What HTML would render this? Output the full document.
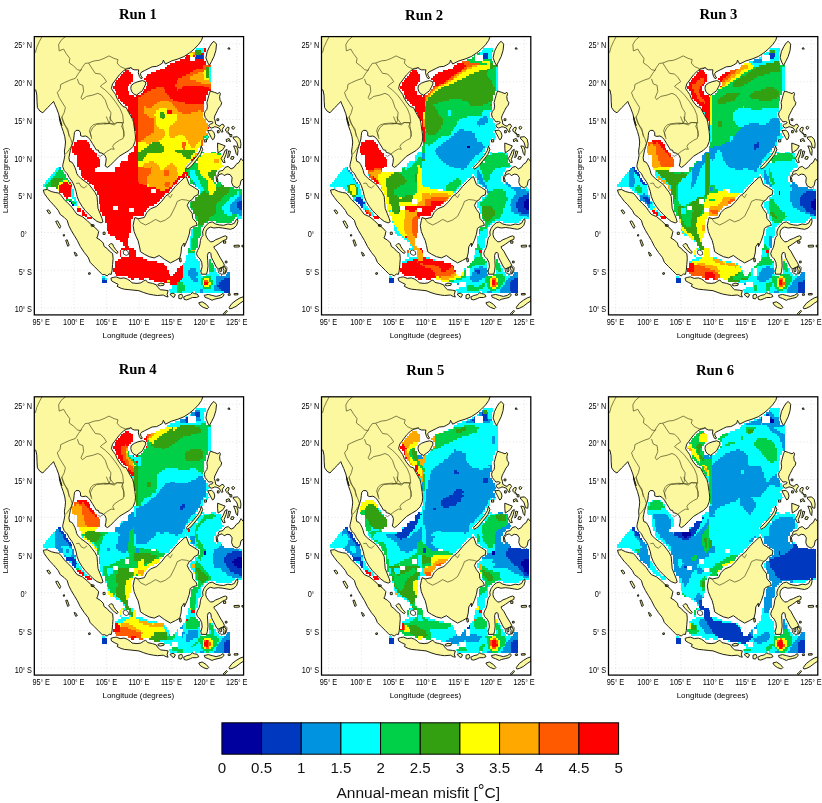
<!DOCTYPE html>
<html lang="en"><head><meta charset="utf-8"><title>Annual-mean misfit, Runs 1-6</title>
<style>html,body{margin:0;padding:0;background:#fff}svg{display:block}.t{font-family:"Liberation Serif",serif;font-weight:bold;font-size:14.7px;text-anchor:middle}.a{font-family:"Liberation Sans",sans-serif;font-size:8.4px;fill:#000}.c{font-family:"Liberation Sans",sans-serif;font-size:15.1px;fill:#111;text-anchor:middle}.s{font-size:6.4px}</style></head><body>
<svg width="822" height="803" viewBox="0 0 822 803">
<rect width="822" height="803" fill="#fff"/>
<defs>
<clipPath id="cp"><rect x="0" y="0" width="209.3" height="278.3"/></clipPath>
<g id="land">
<path d="M88.8 214.4 L91.3 213.4 L93.8 214.9 L94.3 217.8 L91.8 218.8 L89.3 217.4Z M183.6 232.8 L185.7 230.6 L188.4 230.2 L191 229.3 L192.7 231 L192.3 234.5 L191 237.1 L187.5 237.6 L184.4 236.3Z" fill="#fff" stroke="#1a1a10" stroke-width="0.8"/>
<path d="M-2 -2 L168.5 -2 L168.5 0 L167.2 3.7 L164.1 8.1 L159.8 12.5 L155.4 16.2 L149.8 19.9 L143.6 22.4 L137.4 24.3 L131.1 27.4 L129.9 24.9 L129 23.5 L128.3 26.4 L125.3 28.3 L122.3 29.8 L117.8 30.2 L114.8 31.7 L110.4 33.9 L107.4 35.4 L106.2 36.9 L106.6 39.1 L108.1 41.4 L106.6 42.1 L105.1 39.9 L104 36.2 L104.4 33.2 L102.9 33.2 L99.9 33.2 L97.3 32 L96.5 30.6 L95.8 31.7 L92.4 32.4 L89.4 33.9 L87.2 36.2 L84.9 38.4 L82.7 41.4 L80.5 44.4 L78.2 47.4 L77.1 51.9 L79 54.8 L81.2 57.8 L82.7 61.6 L84.9 65.3 L88.7 70 L91.9 70.9 L94.4 75.8 L96.4 79.3 L98.4 82.8 L99.4 86.3 L99.9 90.3 L100.7 95.3 L101.2 100.4 L100.8 104.8 L98.8 109.8 L94.9 113.7 L89.9 116.7 L84.9 119.7 L79.9 124.7 L76.1 128.6 L73.1 130.8 L70.8 129.3 L71.6 125.6 L71.9 121.9 L70.8 118.9 L67.8 116.6 L64.8 115.9 L64.1 113.6 L61.9 113.3 L60.4 110.6 L58.1 106.9 L55.9 103.2 L53.6 100.6 L51.4 99.4 L48.4 99.8 L46.2 99.1 L46.2 96.1 L44.7 93.8 L41.7 93.8 L40.2 95.7 L39.8 98.7 L39.4 102.4 L38.3 106.2 L37.2 109.9 L36.1 113.6 L35.3 117.4 L34.6 121.1 L35.3 124.8 L37.6 125.6 L39.1 127.8 L40.6 130.8 L41.7 133.8 L42.4 136.8 L43.8 139 L46.8 142 L50.8 144.9 L54.8 147.9 L57.8 151.9 L60.8 155.9 L62.7 159.9 L63.2 165.9 L63.7 171.8 L65.7 176.8 L67.7 181.8 L68.7 185.3 L66.7 186.3 L62.7 184.8 L58.8 181.8 L54.8 177.8 L50.8 173.8 L47.8 169.8 L44.8 164.9 L42.8 159.9 L41.8 154.9 L39.8 148.9 L37.8 144.9 L34.9 141 L32.9 137 L29.9 134 L28.4 130 L28.6 127.8 L29.7 123.3 L30.5 118.9 L30.1 114.4 L30.8 109.9 L31.2 105.4 L30.5 100.2 L29 94.9 L27.1 89.7 L25.6 84.5 L24.9 80 L27.6 89 L25.9 83.4 L24.3 77.2 L22.2 71.6 L20.5 67.9 L19.3 64.8 L16.2 68.2 L13.1 71.2 L10 74.5 L8.5 76.2 L5.6 74.5 L3.1 71 L2.7 64.8 L2.5 58.5 L1.5 53.5 L0 52.9 L-2 52.9Z M96.9 48.9 L99.9 46.6 L103.6 45.1 L108.1 44 L111.1 45.1 L111.5 47.4 L109.6 51.1 L108.1 54.1 L105.1 56.3 L102.1 58.6 L99.1 57.1 L97.3 54.8 L96.5 51.9Z M179.7 4.7 L182.2 7.5 L181.6 13.7 L179.7 19.9 L177.2 24.9 L175.1 28.9 L173.5 26.2 L171.6 21.2 L172.9 14.9 L175.3 10 L177.8 6.2Z M9 153.4 L12.9 152.9 L16.9 154.9 L20.9 155.9 L24.4 156.4 L26.9 158.9 L29.9 162.9 L33.9 166.9 L37.8 170.8 L39.8 173.8 L42.8 177.8 L48 180 L52.9 184 L56.9 188 L61.4 191.5 L64.4 194.9 L63.4 199.4 L62.4 201.4 L65.9 203.4 L68.9 206.4 L69.9 209.9 L72.9 211.9 L74.9 214.4 L78.3 216.9 L78.8 221.8 L78.3 227.8 L77.8 233.8 L76.9 237.8 L74.9 237.3 L72.9 239.3 L69.9 237.8 L68.4 238.3 L66.9 236.8 L63.9 233.8 L59.9 229.8 L55.9 225.8 L53.9 220.8 L50 215.9 L46 209.9 L43 203.9 L40 198.9 L36.9 193.7 L34.4 188.8 L32.9 183.8 L29.9 180.8 L25.9 177.8 L23.9 173.8 L21.4 170.8 L18.9 167.8 L15.9 164.9 L12.9 160.9 L10 156.9Z M76.6 241.6 L78.8 240.8 L81.8 240.3 L85.8 241.8 L89.8 241.3 L92.9 242.4 L95.8 244.3 L97.8 246.3 L102.7 246.8 L106.5 246.3 L109.5 244.3 L111.4 243.4 L113.4 245.8 L118.2 246.8 L122.1 248.2 L123.1 250.2 L126 253.1 L130.9 253.6 L133.8 254.1 L132.8 258 L133.8 260.4 L131.8 259.9 L128.9 258.4 L123.1 258.9 L119.2 258.4 L114.3 257.5 L109.5 256 L104.6 254.1 L99.7 253.6 L94.9 253.1 L90 252.6 L86.8 251.7 L82.8 249.7 L83.8 247.7 L79.8 245.7 L77.2 244.2Z M100.6 180.9 L103.7 182.2 L110 180.9 L112.5 176 L116.2 172.2 L122.4 169.7 L127.4 164.8 L131.1 159.8 L136.1 156 L141.1 149.8 L146.1 144.8 L150.4 140.8 L152 140 L154.9 147.9 L159.9 150.9 L164.4 153.9 L163.9 157.9 L159.9 159.9 L157.9 162.9 L154.9 164.9 L152.9 168.8 L154.9 172.8 L157.9 176.8 L158.4 181.8 L161.9 185.8 L162.9 188.8 L158.9 189.8 L155.9 191.8 L154.9 197.7 L152.9 203.7 L150 210 L149.8 206.4 L147.3 210.1 L146.7 216.4 L145.5 221.3 L141.1 223.8 L136.1 226.3 L129.9 222.6 L124.9 218.9 L119.9 221.3 L114.9 220.1 L110 217.6 L106.2 215.1 L105 208.9 L103.7 203.9 L101.8 199.9 L99.8 194.9 L98.8 189 L99.8 184Z M168.7 198.8 L168.3 195.3 L169.6 191.8 L171.8 188.7 L174.8 186.1 L177.9 185.3 L181.4 187.4 L184.9 188.3 L189.2 188.7 L193.6 187.4 L197.1 187.9 L200.1 186.6 L201.9 183.1 L203.2 182.2 L203.6 184.8 L202.3 188.7 L199.7 191.4 L196.2 192.7 L192.7 192.2 L188.4 191.4 L184 190.9 L179.6 191.4 L176.2 190.5 L173.5 191.8 L171.8 194.4 L171.4 197.9 L172.2 200.5 L174 203.1 L176.2 205.3 L178.8 204.9 L181.4 203.1 L184.9 201.8 L188.4 200.1 L191 199.2 L192.7 200.1 L192.3 202.7 L190.1 203.6 L188.4 204.4 L186.6 205.7 L184 207.5 L181.4 209.2 L179.6 210.1 L180.1 211.8 L182.3 214.5 L184.4 218.4 L186.6 222.3 L188.8 225.8 L190.1 228.4 L188.8 230.2 L186.6 231 L184.4 232.3 L182.3 231 L180.5 227.5 L178.8 224.1 L177 220.6 L176.6 217.1 L175.7 215.8 L174 216.2 L173.1 218.8 L173.4 224.1 L173.7 229.3 L173.1 234.5 L172.2 237.6 L167 237.6 L166.6 234.5 L167.9 230.2 L167.4 225.8 L165.7 222.3 L163.1 219.7 L162.2 217.1 L163.1 214 L164.8 211 L165.7 207.5 L166.1 204 L167 201Z M152 130.8 L156.9 125.8 L162.9 118.8 L165.9 113.8 L166.9 109.3 L168.4 112.8 L166.4 117.8 L161.4 124.3 L156.4 130.3 L152.9 132.5Z M191.4 92.3 L193.5 90.5 L194.8 91 L194.4 93.1 L193.5 94.9 L194.8 96.6 L195.7 97.9 L194.4 97.5 L192.7 95.7 L191.4 94.4Z M197.5 90.5 L199.2 89.7 L200.5 91 L199.2 92.7 L197.9 92.3Z M182.6 82.2 L184.4 82.2 L184.4 84 L182.6 84Z M183.1 94 L184.8 94 L184.8 96.2 L183.1 96.2Z M170 103.2 L172.2 103.2 L172.2 105.3 L170 105.3Z M195.7 97.9 L197.5 97.9 L197.5 100.1 L195.7 100.1Z M176.1 54.4 L180 55.7 L183.5 57 L185.3 55.7 L186.1 57 L185.3 60 L185.7 63.5 L187.4 66.1 L186.6 68.7 L184.4 71.4 L183.1 74 L181.8 76.6 L180.5 79.2 L180 81.8 L180.9 84.4 L181.3 87.5 L183.5 88.8 L185.7 89.7 L187 87.9 L188.7 87.5 L190.1 89.7 L188.7 91.4 L187.9 93.1 L188.7 94.9 L187.4 95.7 L186.1 93.6 L184.8 91.4 L182.2 90.5 L180.5 90.1 L178.7 91 L177 91.4 L175.2 90.5 L174.4 88.8 L176.1 87.5 L177.9 87 L178.7 85.7 L177 84.9 L174.4 85.3 L173.1 83.6 L170.9 80.9 L170 77.5 L170.9 74.8 L172.6 72.7 L173.1 69.6 L172.6 66.1 L173.5 62.6 L174.4 59.2 L175.2 56.6Z M173.5 94 L177.4 93.6 L179.6 95.7 L180.5 99.2 L179.6 102.3 L178.3 103.2 L177 101 L175.7 98.4 L174.4 96.2Z M183.3 106.4 L190.8 109.3 L188.8 112.8 L183.8 116.3 L183.3 111.8Z M190.8 113.8 L192.8 112.8 L191.8 117.8 L189.8 122.8 L190.8 125.8 L188.8 125.8 L186.8 121.8 L188.8 118.8Z M194.3 114.3 L196.3 114.8 L194.8 119.8 L193.3 121.3 L193.8 117.8Z M197.3 119.8 L199.8 120.3 L198.8 122.8 L196.3 122.3Z M198.8 100.5 L203.1 100.1 L205.7 102.7 L206.6 107.1 L206.3 111.4 L204 111 L202.7 106.2 L200.9 103.6 L199.2 102.3Z M199.3 109.3 L202.3 109.8 L203.7 113.8 L203.2 118.8 L201.8 116.8 L200.8 112.8Z M191.8 102.9 L194.8 101.9 L196.3 104.9 L193.8 103.9 L192.3 105.4Z M183.8 137.7 L184.8 134.7 L188.8 133.7 L190.8 130.8 L193.8 129.8 L196.8 132.3 L199.8 130.8 L201.8 127.8 L204.7 125.8 L206.7 121.8 L208.7 124.3 L210.2 125.8 L210.2 141.5 L206.7 143.9 L205.7 148.9 L202.7 151.4 L198.8 149.4 L197.3 145.9 L197.8 141 L195.8 138 L192.8 137.5 L189.8 139 L187.8 137 L184.8 138 L182.8 141 L183.8 144.9 L182.3 144.9 L181.8 140Z M135.7 257.5 L138.7 256.5 L141.1 258 L139.6 260.9 L137.2 259.4Z M123.6 247.7 L126.5 246.5 L129.9 247.1 L129.4 248.7 L126 249.2 L124.1 249Z M144.5 258.4 L147.4 257.5 L148.4 259.9 L146.9 262.3 L144.5 261.8Z M149.4 260.4 L152.3 258.9 L156.2 258 L158.1 256 L160.1 257 L163 257.5 L164.5 259.9 L162 260.9 L158.1 260.9 L156.2 261.8 L152.3 263.3 L149.9 262.8Z M169.9 258.8 L173.9 257.8 L177.8 258.8 L181.8 259.8 L185.8 258.8 L188.8 256.8 L189.8 258.3 L187.8 260.8 L183.8 261.8 L179.8 262.7 L177.8 263.7 L173.9 261.8 L170.9 260.8Z M164.4 266.2 L167.9 265.2 L171.9 267.7 L174.4 270.7 L172.9 272.2 L168.9 270.7 L165.9 268.7Z M194.8 270.7 L197.8 266.7 L201.8 263.7 L205.7 261.3 L210.2 259.8 L210.2 263.7 L205.7 266.7 L201.8 269.7 L197.8 271.7 L195.3 272.2Z M188.8 277.2 L192.3 273.7 L193 274.7 L190 277.9Z M193.8 257.3 L195.8 257 L196 258.6 L194 258.8Z M199.8 257 L203.7 256.8 L203.7 258.2 L200 258.4Z M199.7 208.8 L204.9 208.5 L205.1 210.3 L199.9 210.5Z M207.5 208.8 L211 208.6 L211 210.1 L207.7 210.3Z M74.4 208.9 L76.4 206.9 L78.3 207.4 L79.3 209.9 L81.3 212.9 L83.8 215.4 L82.8 216.9 L80.3 215.4 L78.3 213.4 L76.4 211.4Z M12.5 173.8 L14.4 173.3 L16.4 176.3 L14.9 177.3Z M21.4 184.8 L23.4 184.3 L26.4 189.8 L25.4 191.8 L23.4 188.8Z M28.9 198.2 L30.1 197.9 L30.3 199.3 L29.1 199.5Z M31.4 203.7 L32.9 203.2 L34.9 208.7 L33.4 209.7Z M39.9 215.7 L41.7 216.4 L43 218.9 L41.3 219.5Z M54.2 236.3 L55.8 236 L56 237.5 L54.4 237.8Z M56.8 187.8 L59.8 188.3 L59.6 189.8 L57 189.6Z M68.7 195.7 L70.7 195.5 L70.9 197.7 L68.9 197.9Z M188.4 231 L190.5 230.2 L191.8 232.8 L191 236.3 L189.2 236.7 L189.7 233.6Z M185.3 232.8 L187.1 231.5 L187.5 234.5 L185.9 235.4Z M191 224.5 L192.7 224.5 L192.7 226.2 L191 226.2Z M189.2 204.4 L191.4 204.4 L191.4 206.6 L189.2 206.6Z M145 222 L146.5 221.5 L147 224.9 L145.7 225.4Z M193.5 12.3 L194.6 10.8 L195.8 12.5Z" fill="#fbf8a0" stroke="#15150c" stroke-width="0.95" stroke-linejoin="round"/>
<path d="M1 16.2 L2.5 10.6 L5 5 L7.7 0 M31.1 0 L26.8 3.7 L24.3 8.1 L24.9 14.3 L29.3 12.5 L31.8 16.8 L35.5 21.8 L34.9 26.2 L39.2 29.3 L43 33 L46.3 33.9 L47.3 31.8 M47.3 32.6 L44.2 36.7 L41.1 41.7 L35.5 43.6 L29.9 46.1 L26.4 47.9 L25.9 52.3 L23 56 L24.9 61 L28 66 L31.1 71 L29.9 76 L27.4 80.9 L29.6 87.2 L33.4 92.2 L34.9 100 M47.3 31.8 L50.8 26.8 L54.2 26.4 L59.8 24.3 L64.8 23.7 L69.7 21.8 L74.7 19.3 L79.7 21.8 L83.7 23 L82.8 26.4 L85.9 29.9 L90.9 32.1 L96.1 31.1 M54.2 26.4 L57.9 32.1 L61 36.7 L66 37.4 L69.7 41.1 L72.2 45.1 L68.5 47.6 L66 49.8 L71 53.5 L76 58.5 L80.9 64.8 L85.9 72.2 L88.4 78.5 L89.2 85.9 L87.2 89.7 L89.7 94.6 L89.9 100 M43 42.3 L44.8 47.3 L48.6 48.8 L49.3 54.8 L46.7 61 L48.1 62.9 L52.3 59.8 L58.5 58.5 L63.5 56.7 L67.2 58.5 L71 63.5 L73.5 71 L76.6 76 L76 82.2 L79.7 87.2 L82.4 85.9 L87.2 86.2 L89.2 85.9 M79.7 87.2 L74.7 86.6 L69.7 87.2 L62.3 87.8 L58.5 90.9 L56 95.9 L56.7 100 M27.5 80 L29 84.5 L31.2 89.7 L33.5 94.2 L34.9 98.7 L36.8 103.2 L37.9 106.9 L36.8 109.9 L34.9 112.9 L32.7 115.9 L31.2 117.4 M57.6 102.4 L56.6 98.7 L55.1 94.2 L56.6 90.5 L58.9 88.2 L62.6 87.1 L66.3 86.7 L70.8 86.4 L74.6 87.1 L76.1 83.7 L75.5 80 M70 87.4 L74.9 86.9 L79.9 88.3 L82.9 85.9 L87.9 85.9 L88.9 91.8 L89.4 97.8 L88.9 101.8 L84.9 103.8 L79.9 107.3 L78.4 109.8 L79.9 112.7 L76.9 112.3 L72.9 114.7 L69 117.7 L66 119.7 L64 118.7 M72 79.9 L74.9 86.9 M41.8 146.9 L44.8 146.4 L46.8 149.9 L49.8 151.4 L52.8 148.9 M102.5 180.9 L106.2 185.9 L111.2 188.4 L116.2 185.9 L121.2 182.8 L126.2 185.3 L131.1 183.4 L136.1 179.7 L138.6 174.7 L141.1 169.7 L143 164.8 L147.3 162.9 L152.3 163.5 L156 164.8 M133.4 158.5 L136.1 161 L138 157.5" fill="none" stroke="#4a4a20" stroke-width="0.7" stroke-linejoin="round"/>
</g>
<path id="grid" d="M7.2 0V278.3 M39.78 0V278.3 M72.36 0V278.3 M104.94 0V278.3 M137.52 0V278.3 M170.1 0V278.3 M202.68 0V278.3 M0 7.45H209.3 M0 45.15H209.3 M0 82.85H209.3 M0 120.55H209.3 M0 158.25H209.3 M0 195.95H209.3 M0 233.65H209.3 M0 271.35H209.3" fill="none" stroke="#d8d8d8" stroke-width="0.7" stroke-dasharray="1 2.3"/>
</defs>
<g transform="translate(34.3,36.6)">
<g clip-path="url(#cp)">
<use href="#grid"/>
<g shape-rendering="crispEdges">
<path fill="#00009f" d="M-0.94 -0.09H0.68V280.78H-0.94zM34.89 163.91H36.52V165.79H34.89zM36.52 165.79H38.15V167.68H36.52zM38.15 167.68H39.78V169.56H38.15z"/>
<path fill="#0038c0" d="M161.96 18.76H168.47V22.53H161.96zM204.31 163.91H207.57V173.33H204.31V171.45H202.68V165.79H204.31zM189.65 241.19H196.16V256.27H189.65V254.39H186.39V252.5H184.76V250.62H183.13V248.73H184.76V244.96H186.39V243.08H189.65zM67.47 243.08H72.36V246.85H67.47z"/>
<path fill="#0094e0" d="M25.12 129.98H26.75V133.75H25.12zM158.7 145.06H160.33V146.94H158.7zM160.33 146.94H161.96V148.83H160.33zM205.94 158.25H207.57V163.91H204.31V165.79H202.68V171.45H204.31V173.33H207.57V178.99H204.31V177.1H197.79V175.22H196.16V167.68H197.79V165.79H199.42V163.91H201.05V162.02H202.68V160.14H205.94zM155.44 231.77H161.96V235.54H163.58V239.31H161.96V241.19H163.58V244.96H158.7V243.08H157.07V241.19H155.44V239.31H153.81V233.65H155.44zM192.91 235.54H196.16V241.19H189.65V243.08H186.39V244.96H184.76V248.73H183.13V250.62H184.76V252.5H186.39V254.39H179.87V248.73H181.5V239.31H186.39V237.42H188.02V239.31H191.28V237.42H192.91zM67.47 241.19H70.73V243.08H67.47zM165.21 252.5H168.47V256.27H165.21z"/>
<path fill="#00ffff" d="M161.96 11.22H170.1V16.88H166.84V13.11H161.96zM160.33 18.76H161.96V20.65H160.33zM174.99 30.07H176.62V45.15H174.99zM171.73 99.82H173.36V101.7H171.73zM23.49 129.98H25.12V133.75H23.49V135.63H21.86V137.52H20.23V139.4H18.6V141.29H16.97V143.17H15.34V145.06H13.72V146.94H12.09V148.83H10.46V150.71H8.83V146.94H10.46V145.06H12.09V143.17H13.72V141.29H15.34V139.4H16.97V137.52H18.6V135.63H20.23V133.75H21.86V131.86H23.49zM155.44 133.75H160.33V137.52H161.96V139.4H163.58V143.17H165.21V146.94H166.84V150.71H168.47V152.6H170.1V154.48H166.84V156.37H165.21V152.6H163.58V150.71H161.96V146.94H160.33V145.06H158.7V143.17H157.07V141.29H155.44zM38.15 152.6H39.78V160.14H41.41V163.91H43.04V169.56H39.78V167.68H41.41V165.79H39.78V162.02H38.15zM202.68 154.48H204.31V160.14H202.68V162.02H201.05V163.91H199.42V165.79H197.79V167.68H196.16V175.22H197.79V178.99H192.91V177.1H189.65V173.33H188.02V169.56H189.65V167.68H191.28V165.79H192.91V163.91H194.53V162.02H196.16V160.14H199.42V158.25H202.68zM202.68 177.1H204.31V178.99H207.57V182.76H202.68zM157.07 192.18H158.7V201.61H157.07V212.92H155.44V199.72H157.07zM153.81 216.69H160.33V220.46H161.96V222.34H163.58V224.23H165.21V233.65H166.84V235.54H165.21V237.42H166.84V239.31H168.47V241.19H166.84V248.73H168.47V252.5H165.21V256.27H160.33V254.39H158.7V256.27H147.29V254.39H150.55V248.73H148.92V244.96H145.67V243.08H147.29V241.19H148.92V226.11H150.55V224.23H152.18V218.57H153.81zM155.44 231.77V233.65H153.81V239.31H155.44V241.19H157.07V243.08H158.7V244.96H163.58V241.19H161.96V239.31H163.58V235.54H161.96V231.77zM179.87 231.77H181.5V235.54H183.13V237.42H184.76V239.31H181.5V248.73H179.87V254.39H189.65V256.27H168.47V252.5H176.62V248.73H178.25V243.08H176.62V239.31H171.73V237.42H174.99V235.54H179.87zM67.47 239.31H70.73V241.19H67.47zM70.73 241.19H72.36V243.08H70.73zM137.52 248.73H142.41V256.27H135.89V254.39H134.26V252.5H137.52z"/>
<path fill="#00d048" d="M171.73 97.93H173.36V99.82H171.73zM173.36 99.82H174.99V101.7H173.36zM171.73 99.82V101.7H170.1V103.59H168.47V99.82zM171.73 101.7H173.36V103.59H171.73zM166.84 114.9H170.1V116.78H166.84zM176.62 114.9H181.5V116.78H176.62zM183.13 116.78H186.39V118.67H183.13zM165.21 118.67H166.84V120.55H165.21zM161.96 122.44H163.58V124.32H161.96zM161.96 124.32V126.21H163.58V133.75H165.21V137.52H166.84V139.4H168.47V141.29H171.73V143.17H173.36V154.48H174.99V156.37H171.73V154.48H170.1V152.6H168.47V150.71H166.84V146.94H165.21V143.17H163.58V139.4H161.96V137.52H160.33V133.75H155.44V139.4H153.81V135.63H152.18V131.86H155.44V129.98H157.07V128.09H158.7V126.21H160.33V124.32zM23.49 133.75H28.38V135.63H30.01V137.52H31.63V141.29H33.26V143.17H28.38V141.29H18.6V139.4H20.23V137.52H21.86V135.63H23.49zM18.6 141.29V143.17H16.97V141.29zM16.97 143.17V150.71H13.72V152.6H12.09V150.71H10.46V148.83H12.09V146.94H13.72V145.06H15.34V143.17zM28.38 143.17V145.06H26.75V143.17zM33.26 143.17H34.89V145.06H33.26zM155.44 141.29H157.07V143.17H158.7V146.94H155.44zM158.7 146.94H160.33V148.83H158.7zM179.87 145.06H181.5V146.94H179.87zM181.5 146.94H183.13V145.06H186.39V146.94H188.02V148.83H186.39V150.71H181.5zM160.33 148.83H161.96V150.71H160.33zM196.16 150.71H199.42V152.6H204.31V150.71H205.94V152.6H207.57V158.25H205.94V160.14H204.31V154.48H202.68V158.25H199.42V160.14H196.16V162.02H194.53V163.91H192.91V165.79H191.28V167.68H189.65V169.56H188.02V173.33H189.65V177.1H192.91V178.99H197.79V177.1H202.68V180.87H201.05V182.76H199.42V184.64H197.79V186.53H181.5V184.64H174.99V180.87H176.62V178.99H179.87V177.1H181.5V167.68H183.13V165.79H184.76V163.91H186.39V162.02H188.02V160.14H189.65V158.25H192.91V156.37H194.53V152.6H196.16zM166.84 154.48H168.47V156.37H166.84zM166.84 156.37V158.25H165.21V156.37zM31.63 162.02H38.15V163.91H39.78V165.79H41.41V167.68H38.15V165.79H36.52V163.91H31.63zM155.44 165.79H157.07V171.45H155.44zM157.07 171.45H158.7V173.33H157.07zM160.33 178.99H163.58V184.64H161.96V182.76H160.33zM171.73 184.64H173.36V186.53H171.73zM163.58 188.41H168.47V190.3H166.84V199.72H165.21V201.61H163.58V211.03H161.96V212.92H157.07V201.61H158.7V190.3H163.58zM153.81 211.03H155.44V212.92H157.07V214.8H160.33V216.69H153.81zM174.99 222.34H176.62V226.11H178.25V228H179.87V235.54H174.99zM168.47 239.31H176.62V243.08H178.25V248.73H176.62V244.96H174.99V241.19H170.1V243.08H168.47V248.73H166.84V241.19H168.47zM142.41 244.96H148.92V248.73H150.55V254.39H147.29V256.27H142.41zM168.47 248.73H170.1V250.62H174.99V248.73H176.62V252.5H168.47z"/>
<path fill="#32a010" d="M160.33 13.11H166.84V18.76H160.33zM171.73 30.07H174.99V41.38H171.73zM126.12 75.31H129.38V77.2H131V80.97H129.38V82.85H127.75V80.97H126.12zM117.97 105.47H126.12V107.36H127.75V109.24H129.38V114.9H127.75V116.78H113.09V118.67H111.46V120.55H109.83V122.44H108.2V124.32H103.31V114.9H106.57V113.01H109.83V111.13H113.09V109.24H114.71V107.36H117.97zM140.78 113.01H160.33V116.78H158.7V118.67H157.07V122.44H152.18V120.55H148.92V118.67H147.29V116.78H142.41V114.9H140.78zM176.62 133.75H183.13V135.63H181.5V139.4H179.87V145.06H178.25V143.17H176.62V141.29H174.99V139.4H173.36V135.63H176.62zM18.6 141.29H28.38V143.17H26.75V145.06H25.12V148.83H23.49V152.6H21.86V150.71H16.97V143.17H18.6zM186.39 148.83H189.65V150.71H196.16V152.6H194.53V156.37H192.91V158.25H189.65V160.14H188.02V162.02H186.39V163.91H184.76V165.79H183.13V167.68H181.5V177.1H179.87V178.99H176.62V180.87H174.99V184.64H171.73V186.53H170.1V188.41H163.58V178.99H160.33V177.1H158.7V171.45H157.07V163.91H160.33V160.14H163.58V158.25H166.84V156.37H168.47V154.48H171.73V156.37H174.99V158.25H178.25V156.37H179.87V154.48H181.5V150.71H186.39zM132.63 244.96H135.89V246.85H132.63z"/>
<path fill="#ffff00" d="M155.44 16.88H158.7V20.65H155.44zM170.1 33.84H171.73V41.38H174.99V43.27H170.1V37.61H168.47V35.73H170.1zM124.49 71.54H132.63V77.2H142.41V84.74H140.78V86.62H139.15V88.51H135.89V90.39H134.26V99.82H135.89V101.7H140.78V99.82H144.04V97.93H148.92V99.82H150.55V101.7H152.18V103.59H153.81V107.36H155.44V109.24H157.07V111.13H160.33V109.24H161.96V107.36H163.58V105.47H165.21V103.59H166.84V109.24H165.21V111.13H163.58V114.9H161.96V116.78H160.33V113.01H150.55V109.24H152.18V105.47H147.29V111.13H148.92V113.01H140.78V114.9H142.41V116.78H147.29V118.67H148.92V120.55H152.18V122.44H157.07V124.32H155.44V126.21H153.81V128.09H152.18V129.98H150.55V135.63H148.92V137.52H147.29V139.4H144.04V135.63H142.41V129.98H140.78V128.09H139.15V126.21H135.89V128.09H132.63V129.98H131V131.86H129.38V133.75H126.12V129.98H124.49V128.09H122.86V126.21H119.6V124.32H114.71V126.21H109.83V128.09H108.2V129.98H103.31V124.32H108.2V122.44H109.83V120.55H111.46V118.67H113.09V116.78H127.75V114.9H129.38V109.24H127.75V107.36H126.12V105.47H124.49V103.59H127.75V101.7H129.38V99.82H131V94.16H129.38V92.28H124.49V90.39H122.86V88.51H121.23V79.08H119.6V77.2H121.23V73.43H124.49zM126.12 75.31V80.97H127.75V82.85H129.38V80.97H131V77.2H129.38V75.31zM103.31 105.47H111.46V107.36H114.71V109.24H113.09V111.13H109.83V113.01H106.57V114.9H103.31zM116.34 105.47H117.97V107.36H116.34zM160.33 116.78V120.55H158.7V122.44H157.07V118.67H158.7V116.78zM168.47 116.78H183.13V118.67H186.39V126.21H188.02V128.09H189.65V129.98H188.02V131.86H184.76V133.75H176.62V135.63H173.36V139.4H174.99V141.29H176.62V143.17H178.25V145.06H179.87V146.94H181.5V154.48H179.87V156.37H178.25V158.25H174.99V154.48H173.36V143.17H171.73V141.29H168.47V139.4H166.84V137.52H165.21V133.75H163.58V120.55H166.84V118.67H168.47zM179.87 122.44V126.21H184.76V122.44zM144.04 139.4V141.29H142.41V139.4zM28.38 143.17H33.26V145.06H28.38zM28.38 145.06V146.94H26.75V148.83H25.12V145.06zM33.26 145.06H34.89V146.94H33.26zM34.89 146.94H36.52V148.83H34.89zM25.12 148.83V154.48H23.49V148.83zM113.09 146.94H114.71V150.71H113.09zM43.04 169.56H44.67V171.45H43.04zM170.1 241.19H174.99V244.96H173.36V243.08H170.1zM170.1 243.08V248.73H168.47V243.08zM132.63 243.08H135.89V244.96H132.63zM174.99 244.96H176.62V248.73H174.99V250.62H170.1V248.73H173.36V246.85H174.99z"/>
<path fill="#ffa800" d="M157.07 14.99H160.33V18.76H158.7V16.88H157.07zM163.58 35.73H168.47V37.61H170.1V43.27H174.99V45.15H176.62V47.04H166.84V45.15H161.96V43.27H155.44V39.5H158.7V37.61H163.58zM126.12 64H134.26V65.89H137.52V67.77H139.15V69.66H140.78V71.54H142.41V73.43H144.04V75.31H147.29V77.2H157.07V75.31H163.58V73.43H166.84V75.31H168.47V80.97H170.1V82.85H171.73V86.62H173.36V94.16H171.73V96.05H173.36V97.93H171.73V99.82H168.47V103.59H165.21V105.47H163.58V107.36H161.96V109.24H160.33V111.13H157.07V109.24H155.44V107.36H153.81V103.59H152.18V101.7H150.55V99.82H148.92V97.93H144.04V99.82H140.78V101.7H135.89V99.82H134.26V90.39H135.89V88.51H139.15V86.62H140.78V84.74H142.41V77.2H137.52V73.43H132.63V71.54H124.49V73.43H121.23V77.2H119.6V79.08H121.23V88.51H122.86V90.39H124.49V92.28H129.38V94.16H131V99.82H129.38V101.7H127.75V103.59H124.49V105.47H116.34V107.36H111.46V105.47H106.57V103.59H109.83V101.7H111.46V99.82H114.71V97.93H116.34V96.05H119.6V80.97H114.71V79.08H113.09V77.2H109.83V69.66H111.46V71.54H117.97V69.66H119.6V67.77H122.86V65.89H126.12zM160.33 116.78H163.58V118.67H161.96V120.55H160.33zM179.87 122.44H184.76V126.21H179.87zM114.71 124.32H119.6V126.21H122.86V128.09H124.49V129.98H126.12V133.75H129.38V139.4H134.26V133.75H129.38V131.86H131V129.98H132.63V128.09H135.89V126.21H139.15V128.09H140.78V129.98H142.41V135.63H144.04V139.4H142.41V143.17H140.78V145.06H139.15V148.83H137.52V150.71H134.26V148.83H135.89V145.06H131V146.94H129.38V148.83H131V150.71H134.26V152.6H131V154.48H126.12V152.6H121.23V150.71H114.71V146.94H113.09V139.4H114.71V137.52H116.34V131.86H117.97V129.98H116.34V131.86H109.83V129.98H108.2V128.09H109.83V126.21H114.71zM36.52 150.71H38.15V160.14H36.52zM157.07 212.92H160.33V214.8H157.07z"/>
<path fill="#ff5a00" d="M168.47 28.19H176.62V30.07H171.73V33.84H170.1V35.73H163.58V37.61H158.7V39.5H155.44V43.27H161.96V45.15H166.84V47.04H176.62V52.69H174.99V50.8H170.1V48.92H148.92V50.8H147.29V52.69H144.04V54.58H142.41V50.8H140.78V47.04H142.41V43.27H144.04V41.38H147.29V39.5H152.18V37.61H155.44V35.73H158.7V33.84H161.96V31.96H168.47zM121.23 50.8H129.38V52.69H131V56.46H132.63V58.35H134.26V60.23H135.89V62.12H139.15V64H144.04V65.89H150.55V67.77H170.1V75.31H166.84V73.43H163.58V75.31H157.07V77.2H147.29V75.31H144.04V73.43H142.41V71.54H140.78V69.66H139.15V67.77H137.52V65.89H134.26V64H126.12V65.89H122.86V67.77H119.6V69.66H117.97V71.54H111.46V69.66H109.83V77.2H113.09V79.08H114.71V80.97H119.6V96.05H116.34V97.93H114.71V99.82H111.46V101.7H109.83V103.59H106.57V105.47H103.31V60.23H106.57V58.35H109.83V56.46H113.09V54.58H116.34V52.69H121.23zM166.84 103.59H168.47V109.24H166.84zM147.29 105.47H152.18V109.24H150.55V113.01H148.92V111.13H147.29zM103.31 129.98H109.83V131.86H116.34V137.52H114.71V139.4H113.09V148.83H108.2V146.94H104.94V145.06H103.31zM116.34 129.98H117.97V131.86H116.34zM129.38 133.75H134.26V139.4H129.38zM131 145.06H135.89V148.83H134.26V150.71H131V148.83H129.38V146.94H131zM170.1 243.08H173.36V244.96H170.1zM173.36 244.96H174.99V246.85H173.36z"/>
<path fill="#ff0000" d="M170.1 11.22H171.73V14.99H170.1zM166.84 16.88H170.1V24.42H171.73V28.19H168.47V31.96H161.96V33.84H158.7V35.73H155.44V37.61H152.18V39.5H147.29V41.38H144.04V43.27H142.41V47.04H140.78V50.8H142.41V54.58H144.04V52.69H147.29V50.8H148.92V48.92H170.1V50.8H174.99V52.69H176.62V54.58H173.36V58.35H171.73V64H170.1V67.77H150.55V65.89H144.04V64H139.15V62.12H135.89V60.23H134.26V58.35H132.63V56.46H131V52.69H129.38V50.8H121.23V52.69H116.34V54.58H113.09V56.46H109.83V58.35H106.57V56.46H108.2V54.58H109.83V52.69H111.46V48.92H113.09V45.15H111.46V43.27H109.83V41.38H111.46V39.5H113.09V37.61H116.34V35.73H121.23V33.84H126.12V31.96H131V30.07H132.63V28.19H135.89V26.3H140.78V24.42H145.67V22.53H150.55V20.65H152.18V18.76H155.44V24.42H160.33V20.65H161.96V22.53H168.47V18.76H166.84zM158.7 18.76H160.33V20.65H158.7zM90.28 33.84H95.17V35.73H96.8V37.61H98.42V45.15H96.8V47.04H95.17V48.92H93.54V54.58H95.17V58.35H100.05V60.23H101.68V58.35H106.57V60.23H103.31V145.06H104.94V146.94H108.2V148.83H113.09V150.71H121.23V152.6H116.34V156.37H121.23V152.6H126.12V154.48H131V152.6H134.26V150.71H137.52V152.6H135.89V154.48H134.26V156.37H131V158.25H129.38V160.14H127.75V162.02H126.12V163.91H124.49V165.79H122.86V167.68H119.6V169.56H114.71V171.45H113.09V173.33H111.46V175.22H109.83V178.99H98.42V182.76H96.8V195.95H95.17V201.61H93.54V209.15H95.17V211.03H100.05V212.92H101.68V220.46H108.2V222.34H113.09V224.23H122.86V226.11H129.38V228H131V229.88H132.63V233.65H134.26V237.42H135.89V239.31H139.15V237.42H140.78V235.54H142.41V231.77H145.67V229.88H147.29V228H148.92V241.19H147.29V243.08H145.67V244.96H142.41V248.73H135.89V243.08H132.63V246.85H129.38V244.96H119.6V243.08H114.71V241.19H109.83V243.08H104.94V241.19H100.05V243.08H96.8V241.19H93.54V239.31H82.13V237.42H80.51V235.54H78.88V231.77H80.51V224.23H83.76V222.34H87.02V220.46H95.17V212.92H87.02V211.03H90.28V209.15H88.65V205.38H85.39V203.49H82.13V201.61H80.51V199.72H75.62V197.84H73.99V194.07H72.36V186.53H70.73V178.99H67.47V175.22H65.84V167.68H64.22V158.25H62.59V154.48H60.96V152.6H59.33V148.83H57.7V146.94H54.44V145.06H52.81V143.17H49.55V141.29H47.92V139.4H46.3V133.75H44.67V129.98H43.04V118.67H39.78V116.78H38.15V109.24H39.78V105.47H43.04V103.59H52.81V105.47H54.44V107.36H56.07V111.13H57.7V113.01H59.33V114.9H60.96V116.78H62.59V120.55H64.22V122.44H65.84V129.98H62.59V131.86H60.96V135.63H80.51V129.98H85.39V126.21H87.02V124.32H93.54V118.67H95.17V116.78H96.8V114.9H100.05V109.24H101.68V94.16H100.05V84.74H98.42V80.97H96.8V77.2H95.17V75.31H93.54V69.66H90.28V67.77H88.65V65.89H87.02V64H85.39V62.12H83.76V58.35H82.13V54.58H80.51V52.69H78.88V48.92H80.51V45.15H82.13V43.27H83.76V41.38H85.39V39.5H87.02V37.61H88.65V35.73H90.28zM132.63 73.43H137.52V77.2H132.63zM173.36 90.39H174.99V92.28H173.36zM158.7 120.55H160.33V122.44H158.7zM158.7 122.44V124.32H157.07V122.44zM150.55 131.86H152.18V135.63H153.81V139.4H152.18V137.52H150.55V141.29H145.67V143.17H144.04V145.06H142.41V146.94H140.78V148.83H139.15V145.06H140.78V143.17H142.41V141.29H144.04V139.4H147.29V137.52H148.92V135.63H150.55zM153.81 139.4H155.44V141.29H153.81zM28.38 145.06H33.26V146.94H34.89V148.83H36.52V146.94H38.15V150.71H36.52V160.14H33.26V162.02H31.63V160.14H30.01V158.25H28.38V156.37H25.12V148.83H26.75V146.94H28.38zM34.89 145.06H36.52V146.94H34.89zM139.15 148.83V150.71H137.52V148.83zM78.88 169.56V173.33H83.76V169.56zM95.17 171.45V175.22H100.05V171.45zM43.04 171.45H46.3V175.22H43.04zM47.92 173.33H49.55V175.22H51.18V177.1H52.81V180.87H51.18V178.99H47.92zM52.81 180.87H57.7V182.76H52.81zM87.02 212.92V220.46H85.39V212.92zM170.1 244.96H173.36V248.73H170.1z"/>
</g>
<use href="#land"/>
</g>
<rect x="0" y="0" width="209.3" height="278.3" fill="none" stroke="#000" stroke-width="1.25"/>
<text class="t" x="103.7" y="-17.4">Run 1</text>
<text class="a" transform="translate(-2.3,11.85) scale(.875,1)" text-anchor="end">25<tspan class="s">°</tspan> N</text>
<text class="a" transform="translate(-2.3,49.55) scale(.875,1)" text-anchor="end">20<tspan class="s">°</tspan> N</text>
<text class="a" transform="translate(-2.3,87.25) scale(.875,1)" text-anchor="end">15<tspan class="s">°</tspan> N</text>
<text class="a" transform="translate(-2.3,124.95) scale(.875,1)" text-anchor="end">10<tspan class="s">°</tspan> N</text>
<text class="a" transform="translate(-2.3,162.65) scale(.875,1)" text-anchor="end">5<tspan class="s">°</tspan> N</text>
<text class="a" transform="translate(-7.5,200.35) scale(.875,1)" text-anchor="end">0<tspan class="s">°</tspan></text>
<text class="a" transform="translate(-2.3,238.05) scale(.875,1)" text-anchor="end">5<tspan class="s">°</tspan> S</text>
<text class="a" transform="translate(-2.3,275.75) scale(.875,1)" text-anchor="end">10<tspan class="s">°</tspan> S</text>
<text class="a" transform="translate(6.9,288.2) scale(.875,1)" text-anchor="middle">95<tspan class="s">°</tspan> E</text>
<text class="a" transform="translate(39.48,288.2) scale(.875,1)" text-anchor="middle">100<tspan class="s">°</tspan> E</text>
<text class="a" transform="translate(72.06,288.2) scale(.875,1)" text-anchor="middle">105<tspan class="s">°</tspan> E</text>
<text class="a" transform="translate(104.64,288.2) scale(.875,1)" text-anchor="middle">110<tspan class="s">°</tspan> E</text>
<text class="a" transform="translate(137.22,288.2) scale(.875,1)" text-anchor="middle">115<tspan class="s">°</tspan> E</text>
<text class="a" transform="translate(169.8,288.2) scale(.875,1)" text-anchor="middle">120<tspan class="s">°</tspan> E</text>
<text class="a" transform="translate(202.38,288.2) scale(.875,1)" text-anchor="middle">125<tspan class="s">°</tspan> E</text>
<text class="a" x="103.95" y="301.7" text-anchor="middle" style="font-size:8px">Longitude (degrees)</text>
<text class="a" transform="translate(-26.2,143.85) rotate(-90)" text-anchor="middle" style="font-size:8.1px">Latitude (degrees)</text>
</g>
<g transform="translate(321.5,36.6)">
<g clip-path="url(#cp)">
<use href="#grid"/>
<g shape-rendering="crispEdges">
<path fill="#00009f" d="M-0.94 -0.09H0.68V280.78H-0.94zM145.67 109.24H148.92V111.13H145.67zM204.31 162.02H207.57V173.33H204.31V171.45H202.68V163.91H204.31z"/>
<path fill="#0038c0" d="M161.96 16.88H166.84V22.53H161.96zM205.94 156.37H207.57V162.02H204.31V163.91H202.68V171.45H204.31V173.33H207.57V177.1H199.42V175.22H196.16V171.45H194.53V165.79H196.16V162.02H197.79V160.14H201.05V158.25H205.94zM34.89 160.14H39.78V162.02H41.41V165.79H43.04V167.68H41.41V171.45H39.78V169.56H38.15V167.68H36.52V165.79H34.89V163.91H33.26V162.02H34.89zM153.81 233.65H158.7V237.42H155.44V235.54H153.81zM67.47 241.19H72.36V246.85H67.47zM192.91 241.19H196.16V256.27H189.65V254.39H188.02V244.96H189.65V243.08H192.91z"/>
<path fill="#0094e0" d="M161.96 79.08H165.21V80.97H166.84V86.62H163.58V88.51H158.7V90.39H157.07V88.51H155.44V84.74H157.07V82.85H158.7V80.97H161.96zM137.52 92.28H142.41V94.16H150.55V96.05H153.81V101.7H155.44V105.47H160.33V107.36H161.96V109.24H163.58V111.13H161.96V113.01H160.33V114.9H158.7V116.78H157.07V118.67H153.81V120.55H152.18V122.44H150.55V124.32H148.92V126.21H147.29V128.09H145.67V131.86H142.41V133.75H139.15V131.86H132.63V129.98H127.75V128.09H124.49V126.21H121.23V124.32H119.6V122.44H117.97V120.55H116.34V118.67H114.71V114.9H113.09V113.01H114.71V111.13H116.34V109.24H119.6V107.36H121.23V105.47H124.49V103.59H127.75V101.7H129.38V99.82H132.63V96.05H135.89V94.16H137.52zM145.67 109.24V111.13H148.92V109.24zM100.05 116.78H103.31V122.44H100.05zM25.12 129.98H26.75V133.75H25.12zM26.75 133.75H28.38V135.63H26.75zM28.38 135.63H30.01V137.52H28.38zM155.44 133.75H157.07V135.63H158.7V137.52H160.33V141.29H161.96V145.06H163.58V148.83H165.21V152.6H163.58V150.71H161.96V148.83H160.33V146.94H157.07V143.17H155.44zM30.01 137.52H31.63V139.4H30.01zM31.63 141.29H33.26V143.17H31.63zM33.26 143.17H34.89V145.06H33.26zM34.89 145.06H36.52V146.94H34.89zM184.76 145.06H186.39V146.94H188.02V148.83H189.65V150.71H186.39V148.83H184.76zM189.65 150.71H199.42V152.6H204.31V154.48H207.57V156.37H205.94V158.25H201.05V160.14H197.79V162.02H196.16V165.79H194.53V171.45H196.16V175.22H199.42V177.1H207.57V180.87H205.94V178.99H197.79V177.1H192.91V175.22H189.65V169.56H188.02V167.68H189.65V162.02H191.28V160.14H192.91V158.25H194.53V154.48H192.91V152.6H189.65zM165.21 152.6H166.84V154.48H168.47V156.37H165.21zM157.07 192.18H158.7V197.84H157.07zM157.07 229.88H161.96V231.77H165.21V233.65H166.84V235.54H165.21V237.42H166.84V239.31H163.58V241.19H160.33V243.08H157.07V244.96H150.55V243.08H148.92V239.31H150.55V235.54H152.18V231.77H157.07zM153.81 233.65V235.54H155.44V237.42H158.7V233.65zM192.91 235.54H196.16V241.19H192.91V243.08H189.65V244.96H188.02V254.39H189.65V256.27H178.25V252.5H179.87V250.62H181.5V248.73H183.13V244.96H184.76V243.08H186.39V241.19H188.02V239.31H191.28V237.42H192.91zM135.89 246.85H137.52V248.73H135.89zM165.21 254.39H170.1V256.27H165.21z"/>
<path fill="#00ffff" d="M161.96 11.22H171.73V13.11H170.1V22.53H166.84V16.88H161.96V18.76H158.7V14.99H160.33V13.11H161.96zM174.99 30.07H176.62V54.58H174.99zM126.12 73.43H129.38V79.08H126.12zM161.96 73.43H170.1V75.31H168.47V80.97H170.1V82.85H171.73V86.62H173.36V90.39H174.99V92.28H173.36V94.16H171.73V96.05H173.36V99.82H174.99V101.7H173.36V103.59H171.73V101.7H170.1V103.59H168.47V109.24H165.21V111.13H163.58V109.24H161.96V107.36H160.33V105.47H155.44V101.7H153.81V96.05H150.55V94.16H142.41V92.28H137.52V94.16H135.89V96.05H132.63V99.82H129.38V101.7H127.75V103.59H124.49V105.47H121.23V107.36H119.6V109.24H116.34V111.13H114.71V113.01H113.09V114.9H114.71V118.67H116.34V120.55H117.97V122.44H119.6V124.32H121.23V126.21H124.49V128.09H127.75V129.98H132.63V131.86H139.15V133.75H142.41V131.86H145.67V128.09H147.29V126.21H148.92V124.32H150.55V122.44H152.18V120.55H153.81V118.67H157.07V116.78H158.7V114.9H160.33V113.01H161.96V111.13H163.58V114.9H161.96V116.78H163.58V118.67H161.96V120.55H160.33V122.44H158.7V124.32H155.44V126.21H153.81V128.09H152.18V129.98H150.55V131.86H155.44V129.98H157.07V128.09H158.7V133.75H160.33V137.52H158.7V135.63H157.07V133.75H155.44V141.29H153.81V139.4H152.18V137.52H150.55V141.29H145.67V143.17H144.04V145.06H142.41V146.94H140.78V148.83H139.15V143.17H137.52V141.29H134.26V143.17H131V145.06H127.75V146.94H126.12V148.83H124.49V154.48H121.23V152.6H108.2V150.71H101.68V148.83H100.05V124.32H103.31V107.36H106.57V109.24H108.2V107.36H111.46V105.47H114.71V103.59H116.34V101.7H119.6V99.82H127.75V97.93H129.38V94.16H131V92.28H132.63V90.39H134.26V88.51H135.89V84.74H137.52V82.85H140.78V80.97H145.67V79.08H160.33V75.31H161.96zM161.96 79.08V80.97H158.7V82.85H157.07V84.74H155.44V88.51H157.07V90.39H158.7V88.51H163.58V86.62H166.84V80.97H165.21V79.08zM96.8 114.9H100.05V120.55H96.8V122.44H95.17V124.32H93.54V118.67H95.17V116.78H96.8zM166.84 114.9H170.1V118.67H168.47V116.78H166.84zM176.62 114.9H181.5V116.78H176.62zM183.13 116.78H186.39V118.67H183.13zM93.54 124.32V126.21H91.91V128.09H90.28V129.98H88.65V131.86H85.39V133.75H83.76V129.98H85.39V126.21H87.02V124.32zM188.02 128.09H189.65V129.98H188.02zM188.02 129.98V131.86H184.76V133.75H183.13V135.63H181.5V139.4H179.87V145.06H181.5V146.94H183.13V145.06H184.76V148.83H186.39V150.71H189.65V152.6H192.91V154.48H194.53V158.25H192.91V160.14H191.28V162.02H189.65V167.68H188.02V169.56H189.65V175.22H192.91V177.1H197.79V178.99H205.94V180.87H207.57V182.76H202.68V180.87H201.05V182.76H199.42V184.64H197.79V186.53H181.5V184.64H173.36V182.76H178.25V180.87H179.87V177.1H181.5V171.45H183.13V167.68H184.76V163.91H186.39V160.14H184.76V154.48H181.5V152.6H171.73V154.48H166.84V152.6H165.21V148.83H163.58V145.06H166.84V143.17H168.47V137.52H170.1V135.63H171.73V133.75H173.36V131.86H179.87V129.98zM23.49 129.98H25.12V133.75H26.75V135.63H28.38V137.52H30.01V139.4H31.63V143.17H33.26V145.06H34.89V146.94H38.15V152.6H39.78V158.25H41.41V162.02H39.78V160.14H34.89V158.25H36.52V150.71H34.89V148.83H33.26V146.94H28.38V148.83H25.12V150.71H26.75V156.37H25.12V154.48H23.49V152.6H21.86V150.71H13.72V152.6H12.09V150.71H8.83V146.94H10.46V145.06H12.09V143.17H13.72V141.29H15.34V139.4H16.97V137.52H18.6V135.63H20.23V133.75H21.86V131.86H23.49zM80.51 129.98H82.13V131.86H80.51zM160.33 137.52H161.96V141.29H160.33zM46.3 137.52H47.92V139.4H46.3zM155.44 143.17H157.07V146.94H155.44zM161.96 143.17H163.58V145.06H161.96zM139.15 148.83V150.71H137.52V148.83zM158.7 146.94H160.33V148.83H158.7zM160.33 148.83H161.96V150.71H160.33zM137.52 150.71V152.6H135.89V150.71zM135.89 152.6V154.48H134.26V152.6zM204.31 150.71H205.94V152.6H207.57V154.48H204.31zM134.26 154.48V156.37H131V154.48zM165.21 156.37H166.84V158.25H165.21zM165.21 158.25V160.14H163.58V158.25zM34.89 160.14V162.02H33.26V163.91H31.63V160.14zM163.58 160.14V162.02H161.96V163.91H160.33V160.14zM160.33 163.91V165.79H158.7V169.56H160.33V177.1H158.7V173.33H157.07V171.45H155.44V165.79H157.07V163.91zM41.41 163.91H43.04V165.79H41.41zM43.04 165.79H44.67V169.56H46.3V171.45H47.92V173.33H44.67V171.45H43.04V173.33H41.41V167.68H43.04zM47.92 173.33H49.55V175.22H47.92zM49.55 175.22H51.18V177.1H52.81V178.99H49.55zM67.47 173.33H69.1V175.22H67.47zM173.36 184.64V186.53H170.1V184.64zM70.73 184.64H72.36V186.53H70.73zM170.1 186.53V188.41H168.47V186.53zM168.47 188.41V190.3H166.84V188.41zM72.36 188.41H73.99V190.3H75.62V194.07H77.25V195.95H78.88V197.84H80.51V199.72H75.62V197.84H73.99V194.07H72.36zM166.84 190.3V199.72H165.21V201.61H163.58V211.03H161.96V212.92H160.33V211.03H158.7V209.15H157.07V207.26H155.44V199.72H157.07V197.84H158.7V194.07H161.96V192.18H165.21V190.3zM80.51 199.72H82.13V201.61H80.51zM82.13 201.61H85.39V203.49H82.13zM85.39 203.49H87.02V205.38H85.39zM88.65 207.26H90.28V209.15H88.65zM90.28 209.15H91.91V212.92H88.65V211.03H90.28zM153.81 212.92H157.07V216.69H158.7V220.46H153.81V222.34H152.18V218.57H153.81zM85.39 216.69H87.02V220.46H85.39zM87.02 220.46H95.17V222.34H91.91V224.23H85.39V226.11H80.51V224.23H83.76V222.34H87.02zM104.94 220.46H108.2V222.34H104.94zM111.46 222.34H113.09V224.23H111.46zM163.58 226.11H165.21V231.77H161.96V229.88H157.07V231.77H152.18V235.54H150.55V239.31H148.92V231.77H150.55V229.88H153.81V228H163.58zM178.25 228H179.87V231.77H178.25zM179.87 231.77H181.5V235.54H183.13V237.42H184.76V239.31H186.39V237.42H188.02V241.19H186.39V243.08H184.76V244.96H183.13V239.31H181.5V237.42H174.99V233.65H176.62V235.54H179.87zM142.41 231.77H144.04V233.65H142.41zM148.92 239.31V243.08H150.55V244.96H157.07V243.08H160.33V241.19H163.58V246.85H160.33V248.73H157.07V250.62H152.18V248.73H145.67V254.39H157.07V252.5H161.96V250.62H163.58V246.85H165.21V250.62H166.84V252.5H168.47V254.39H165.21V256.27H160.33V254.39H158.7V256.27H135.89V254.39H134.26V252.5H137.52V250.62H144.04V244.96H137.52V246.85H129.38V244.96H132.63V243.08H140.78V241.19H144.04V239.31zM67.47 239.31H70.73V241.19H67.47zM183.13 244.96V248.73H181.5V244.96zM181.5 248.73V250.62H179.87V248.73zM179.87 250.62V252.5H178.25V250.62zM178.25 252.5V256.27H170.1V254.39H174.99V252.5z"/>
<path fill="#00d048" d="M170.1 13.11H171.73V14.99H170.1zM157.07 14.99H158.7V18.76H155.44V16.88H157.07zM152.18 18.76H153.81V24.42H160.33V26.3H165.21V28.19H158.7V26.3H147.29V24.42H145.67V22.53H150.55V20.65H152.18zM161.96 22.53H170.1V24.42H171.73V26.3H168.47V24.42H161.96zM171.73 30.07H174.99V54.58H173.36V50.8H171.73V47.04H170.1V43.27H168.47V41.38H166.84V39.5H165.21V35.73H166.84V33.84H168.47V31.96H171.73zM127.75 62.12H140.78V64H145.67V65.89H147.29V67.77H148.92V69.66H161.96V67.77H166.84V65.89H170.1V67.77H168.47V69.66H170.1V73.43H161.96V75.31H160.33V79.08H145.67V80.97H140.78V82.85H137.52V84.74H135.89V88.51H134.26V90.39H132.63V92.28H131V94.16H129.38V97.93H127.75V99.82H119.6V101.7H116.34V103.59H114.71V105.47H111.46V107.36H108.2V109.24H106.57V107.36H103.31V94.16H104.94V96.05H106.57V97.93H114.71V96.05H116.34V94.16H117.97V92.28H119.6V88.51H121.23V80.97H119.6V79.08H117.97V77.2H116.34V73.43H114.71V71.54H113.09V69.66H111.46V67.77H116.34V65.89H121.23V64H127.75zM126.12 73.43V79.08H129.38V73.43zM103.31 107.36V116.78H100.05V109.24H101.68V107.36zM170.1 116.78H183.13V118.67H186.39V126.21H188.02V129.98H179.87V131.86H173.36V133.75H171.73V135.63H170.1V137.52H168.47V143.17H166.84V145.06H163.58V143.17H161.96V137.52H160.33V133.75H158.7V126.21H160.33V124.32H161.96V126.21H163.58V124.32H161.96V122.44H163.58V120.55H165.21V118.67H170.1zM96.8 120.55H100.05V131.86H98.42V128.09H95.17V129.98H96.8V137.52H93.54V145.06H95.17V156.37H93.54V158.25H83.76V160.14H75.62V158.25H72.36V152.6H75.62V150.71H78.88V148.83H82.13V146.94H83.76V145.06H85.39V143.17H83.76V141.29H82.13V139.4H80.51V137.52H77.25V135.63H80.51V131.86H82.13V129.98H83.76V133.75H85.39V131.86H88.65V129.98H90.28V128.09H91.91V126.21H93.54V124.32H95.17V122.44H96.8zM134.26 141.29H137.52V143.17H139.15V148.83H137.52V150.71H135.89V152.6H134.26V154.48H124.49V148.83H126.12V146.94H127.75V145.06H131V143.17H134.26zM171.73 152.6H181.5V154.48H184.76V160.14H186.39V163.91H184.76V167.68H183.13V171.45H181.5V177.1H179.87V180.87H178.25V182.76H173.36V184.64H170.1V186.53H168.47V188.41H166.84V190.3H165.21V192.18H161.96V194.07H158.7V190.3H163.58V184.64H165.21V186.53H166.84V184.64H168.47V182.76H170.1V180.87H171.73V178.99H173.36V173.33H171.73V171.45H170.1V169.56H158.7V165.79H160.33V163.91H161.96V162.02H163.58V160.14H165.21V158.25H166.84V156.37H168.47V154.48H171.73zM160.33 178.99H161.96V182.76H160.33zM161.96 182.76H163.58V184.64H161.96zM155.44 207.26H157.07V209.15H158.7V211.03H160.33V212.92H153.81V211.03H155.44zM158.7 216.69H160.33V220.46H161.96V222.34H163.58V224.23H165.21V226.11H163.58V228H153.81V229.88H150.55V231.77H145.67V229.88H147.29V228H148.92V226.11H150.55V224.23H152.18V222.34H153.81V220.46H158.7zM174.99 222.34H176.62V226.11H178.25V231.77H179.87V235.54H176.62V233.65H174.99zM142.41 233.65H144.04V241.19H140.78V243.08H134.26V241.19H139.15V239.31H142.41zM171.73 237.42H181.5V239.31H183.13V244.96H181.5V248.73H179.87V250.62H178.25V252.5H174.99V250.62H176.62V241.19H174.99V239.31H171.73zM163.58 239.31H170.1V241.19H168.47V250.62H170.1V252.5H174.99V254.39H168.47V252.5H166.84V250.62H165.21V246.85H163.58zM127.75 243.08H132.63V244.96H127.75zM163.58 246.85V250.62H161.96V252.5H157.07V254.39H145.67V248.73H152.18V250.62H157.07V248.73H160.33V246.85z"/>
<path fill="#32a010" d="M168.47 26.3H171.73V28.19H176.62V30.07H171.73V31.96H168.47zM168.47 31.96V33.84H166.84V35.73H165.21V39.5H166.84V41.38H168.47V43.27H170.1V47.04H171.73V50.8H173.36V58.35H171.73V64H170.1V65.89H166.84V67.77H161.96V69.66H148.92V67.77H147.29V65.89H145.67V64H140.78V62.12H127.75V64H121.23V65.89H116.34V67.77H111.46V69.66H113.09V71.54H114.71V73.43H116.34V77.2H117.97V79.08H119.6V80.97H121.23V88.51H119.6V92.28H117.97V94.16H116.34V96.05H114.71V97.93H106.57V96.05H104.94V92.28H103.31V69.66H104.94V64H106.57V60.23H109.83V58.35H111.46V56.46H113.09V54.58H116.34V52.69H119.6V50.8H122.86V48.92H127.75V47.04H132.63V45.15H135.89V43.27H140.78V41.38H144.04V39.5H147.29V37.61H152.18V35.73H157.07V33.84H165.21V31.96zM168.47 67.77H170.1V69.66H168.47zM101.68 105.47H103.31V107.36H101.68zM100.05 122.44H103.31V124.32H100.05zM72.36 135.63H77.25V137.52H80.51V139.4H82.13V141.29H83.76V143.17H85.39V145.06H83.76V146.94H82.13V148.83H78.88V150.71H75.62V152.6H72.36V158.25H75.62V160.14H77.25V162.02H80.51V160.14H83.76V158.25H91.91V162.02H90.28V165.79H77.25V169.56H78.88V173.33H77.25V177.1H72.36V175.22H70.73V169.56H69.1V167.68H67.47V160.14H65.84V150.71H64.22V141.29H67.47V139.4H69.1V137.52H72.36zM93.54 137.52H95.17V145.06H93.54zM28.38 146.94H33.26V148.83H28.38zM28.38 148.83V154.48H30.01V158.25H28.38V156.37H26.75V150.71H25.12V148.83zM33.26 148.83H34.89V150.71H33.26zM34.89 150.71H36.52V158.25H34.89zM30.01 158.25H34.89V160.14H30.01zM160.33 169.56H170.1V171.45H171.73V173.33H173.36V178.99H171.73V180.87H170.1V182.76H168.47V184.64H166.84V186.53H165.21V184.64H163.58V182.76H161.96V178.99H160.33z"/>
<path fill="#ffff00" d="M160.33 24.42H168.47V31.96H165.21V33.84H157.07V35.73H152.18V37.61H147.29V39.5H144.04V41.38H140.78V43.27H135.89V45.15H132.63V47.04H127.75V48.92H122.86V47.04H126.12V45.15H129.38V43.27H132.63V41.38H135.89V39.5H137.52V37.61H140.78V35.73H144.04V33.84H145.67V31.96H150.55V30.07H155.44V28.19H165.21V26.3H160.33zM122.86 48.92V50.8H119.6V52.69H116.34V50.8H117.97V48.92zM116.34 52.69V54.58H113.09V52.69zM113.09 54.58V56.46H111.46V54.58zM111.46 56.46V58.35H109.83V56.46zM109.83 58.35V60.23H108.2V58.35zM101.68 75.31H103.31V82.85H101.68zM95.17 128.09H98.42V131.86H100.05V148.83H101.68V150.71H108.2V152.6H116.34V154.48H131V158.25H126.12V156.37H109.83V158.25H108.2V156.37H100.05V163.91H98.42V165.79H96.8V167.68H95.17V162.02H91.91V158.25H93.54V156.37H95.17V137.52H96.8V129.98H95.17zM59.33 135.63H72.36V137.52H69.1V139.4H67.47V141.29H64.22V150.71H65.84V160.14H67.47V167.68H69.1V169.56H70.73V175.22H72.36V177.1H77.25V175.22H78.88V173.33H83.76V182.76H82.13V194.07H83.76V197.84H85.39V199.72H83.76V201.61H82.13V199.72H80.51V197.84H78.88V195.95H77.25V194.07H75.62V190.3H73.99V188.41H72.36V184.64H70.73V178.99H67.47V175.22H69.1V173.33H67.47V175.22H65.84V167.68H64.22V158.25H62.59V154.48H60.96V150.71H59.33V146.94H57.7V143.17H56.07V137.52H59.33zM28.38 148.83H33.26V150.71H34.89V158.25H30.01V154.48H28.38zM77.25 160.14H80.51V162.02H77.25zM77.25 165.79H90.28V167.68H95.17V169.56H77.25zM140.78 235.54H142.41V239.31H139.15V237.42H140.78zM134.26 237.42H135.89V239.31H139.15V241.19H134.26V243.08H127.75V241.19H132.63V239.31H134.26zM114.71 239.31H117.97V241.19H119.6V243.08H114.71zM170.1 239.31H174.99V241.19H170.1zM170.1 241.19V250.62H168.47V241.19zM174.99 241.19H176.62V244.96H174.99zM119.6 243.08H127.75V244.96H119.6zM170.1 250.62H174.99V252.5H170.1zM174.99 248.73H176.62V250.62H174.99z"/>
<path fill="#ffa800" d="M150.55 28.19H155.44V30.07H150.55zM150.55 30.07V31.96H145.67V30.07zM145.67 31.96V33.84H144.04V31.96zM144.04 33.84V35.73H140.78V33.84zM140.78 35.73V37.61H137.52V35.73zM137.52 37.61V39.5H135.89V41.38H132.63V39.5H134.26V37.61zM132.63 41.38V43.27H131V41.38zM126.12 43.27H129.38V45.15H126.12zM126.12 45.15V47.04H124.49V45.15zM119.6 47.04H122.86V48.92H119.6zM116.34 48.92H117.97V50.8H116.34zM116.34 50.8V52.69H113.09V50.8zM113.09 52.69V54.58H111.46V52.69zM111.46 54.58V56.46H109.83V54.58zM109.83 56.46V58.35H108.2V56.46zM108.2 58.35V60.23H106.57V58.35zM106.57 60.23V64H104.94V60.23zM104.94 64V69.66H103.31V64zM101.68 82.85H103.31V90.39H101.68zM103.31 92.28H104.94V94.16H103.31zM52.81 133.75H59.33V137.52H56.07V143.17H54.44V141.29H52.81V139.4H49.55V137.52H47.92V135.63H52.81zM56.07 143.17H57.7V145.06H56.07zM57.7 146.94H59.33V148.83H57.7zM59.33 150.71H60.96V152.6H59.33zM100.05 156.37H108.2V158.25H109.83V156.37H126.12V158.25H129.38V160.14H127.75V162.02H126.12V160.14H109.83V162.02H103.31V169.56H95.17V167.68H96.8V165.79H98.42V163.91H100.05zM126.12 162.02V163.91H124.49V162.02zM83.76 173.33H87.02V175.22H93.54V173.33H95.17V178.99H93.54V180.87H91.91V182.76H90.28V195.95H91.91V199.72H93.54V209.15H95.17V211.03H98.42V212.92H100.05V216.69H101.68V224.23H96.8V222.34H95.17V212.92H91.91V209.15H90.28V207.26H88.65V205.38H87.02V203.49H85.39V197.84H83.76V194.07H82.13V182.76H83.76zM132.63 235.54H134.26V239.31H132.63V241.19H127.75V243.08H119.6V239.31H129.38V237.42H132.63z"/>
<path fill="#ff5a00" d="M140.78 24.42H147.29V26.3H158.7V28.19H150.55V30.07H145.67V31.96H144.04V33.84H140.78V31.96H142.41V30.07H144.04V28.19H142.41V26.3H140.78zM140.78 33.84V35.73H139.15V33.84zM135.89 35.73H137.52V37.61H135.89zM132.63 37.61H134.26V39.5H132.63zM132.63 39.5V41.38H131V43.27H127.75V41.38H129.38V39.5zM124.49 43.27H126.12V45.15H124.49zM124.49 45.15V47.04H122.86V45.15zM117.97 47.04H119.6V48.92H117.97zM113.09 48.92H116.34V50.8H113.09zM113.09 50.8V52.69H111.46V50.8zM111.46 52.69V54.58H109.83V52.69zM109.83 54.58V56.46H108.2V54.58zM108.2 56.46V58.35H106.57V56.46zM106.57 58.35V60.23H104.94V64H103.31V58.35zM52.81 131.86H59.33V133.75H52.81zM52.81 133.75V135.63H47.92V137.52H46.3V133.75zM59.33 133.75H60.96V135.63H59.33zM47.92 137.52H49.55V139.4H51.18V143.17H49.55V141.29H47.92zM109.83 160.14H126.12V162.02H124.49V165.79H122.86V163.91H109.83V169.56H103.31V162.02H109.83zM122.86 165.79V167.68H121.23V165.79zM43.04 171.45H44.67V173.33H43.04zM44.67 173.33H47.92V175.22H49.55V177.1H46.3V175.22H44.67zM93.54 178.99H96.8V180.87H98.42V182.76H96.8V195.95H95.17V201.61H93.54V199.72H91.91V195.95H90.28V182.76H91.91V180.87H93.54zM87.02 211.03H88.65V212.92H87.02zM87.02 212.92V216.69H85.39V212.92zM95.17 224.23H96.8V226.11H95.17zM98.42 226.11H101.68V228H113.09V229.88H117.97V231.77H119.6V235.54H124.49V233.65H127.75V231.77H129.38V229.88H131V231.77H132.63V237.42H129.38V239.31H119.6V241.19H117.97V239.31H113.09V235.54H111.46V233.65H109.83V231.77H103.31V229.88H100.05V228H98.42zM170.1 241.19H174.99V244.96H176.62V248.73H174.99V250.62H170.1V248.73H173.36V243.08H170.1z"/>
<path fill="#ff0000" d="M135.89 26.3H142.41V28.19H144.04V30.07H142.41V31.96H140.78V33.84H139.15V35.73H135.89V37.61H132.63V39.5H129.38V41.38H127.75V43.27H124.49V45.15H122.86V47.04H117.97V48.92H113.09V45.15H111.46V43.27H109.83V41.38H111.46V39.5H113.09V37.61H116.34V35.73H121.23V33.84H126.12V31.96H131V30.07H132.63V28.19H135.89zM90.28 33.84H95.17V35.73H96.8V37.61H98.42V45.15H96.8V47.04H95.17V48.92H93.54V54.58H95.17V58.35H100.05V60.23H101.68V58.35H103.31V75.31H101.68V90.39H103.31V105.47H101.68V94.16H100.05V84.74H98.42V80.97H96.8V77.2H95.17V75.31H93.54V69.66H90.28V67.77H88.65V65.89H87.02V64H85.39V62.12H83.76V58.35H82.13V54.58H80.51V52.69H78.88V48.92H80.51V45.15H82.13V43.27H83.76V41.38H85.39V39.5H87.02V37.61H88.65V35.73H90.28zM113.09 48.92V50.8H111.46V48.92zM43.04 103.59H52.81V105.47H54.44V107.36H56.07V111.13H57.7V113.01H59.33V114.9H60.96V116.78H62.59V120.55H64.22V122.44H65.84V129.98H62.59V131.86H60.96V133.75H59.33V131.86H52.81V133.75H44.67V129.98H43.04V118.67H39.78V116.78H38.15V109.24H39.78V105.47H43.04zM51.18 139.4H52.81V141.29H54.44V143.17H56.07V145.06H57.7V146.94H54.44V145.06H52.81V143.17H51.18zM109.83 163.91H122.86V165.79H121.23V167.68H119.6V169.56H114.71V171.45H113.09V173.33H111.46V175.22H109.83V178.99H98.42V180.87H96.8V178.99H95.17V175.22H100.05V171.45H95.17V173.33H93.54V175.22H87.02V173.33H83.76V169.56H109.83zM43.04 173.33H44.67V175.22H43.04zM44.67 175.22H46.3V177.1H44.67zM77.25 173.33H78.88V175.22H77.25zM47.92 177.1H49.55V178.99H47.92zM51.18 178.99H56.07V180.87H57.7V182.76H52.81V180.87H51.18zM83.76 199.72H85.39V201.61H83.76zM98.42 211.03H100.05V212.92H98.42zM100.05 212.92H101.68V216.69H100.05zM157.07 212.92H160.33V216.69H157.07zM101.68 220.46H104.94V222.34H111.46V224.23H122.86V226.11H129.38V228H131V229.88H129.38V231.77H127.75V233.65H124.49V235.54H119.6V231.77H117.97V229.88H113.09V228H101.68V226.11H98.42V228H100.05V229.88H103.31V231.77H109.83V233.65H111.46V235.54H113.09V239.31H114.71V241.19H109.83V243.08H104.94V241.19H100.05V243.08H96.8V241.19H93.54V239.31H82.13V237.42H80.51V235.54H78.88V231.77H80.51V226.11H85.39V224.23H91.91V222.34H96.8V224.23H95.17V226.11H96.8V224.23H101.68zM131 229.88H132.63V231.77H131zM132.63 233.65H134.26V235.54H132.63zM170.1 243.08H173.36V248.73H170.1z"/>
</g>
<use href="#land"/>
</g>
<rect x="0" y="0" width="209.3" height="278.3" fill="none" stroke="#000" stroke-width="1.25"/>
<text class="t" x="102.6" y="-17">Run 2</text>
<text class="a" transform="translate(-2.3,11.85) scale(.875,1)" text-anchor="end">25<tspan class="s">°</tspan> N</text>
<text class="a" transform="translate(-2.3,49.55) scale(.875,1)" text-anchor="end">20<tspan class="s">°</tspan> N</text>
<text class="a" transform="translate(-2.3,87.25) scale(.875,1)" text-anchor="end">15<tspan class="s">°</tspan> N</text>
<text class="a" transform="translate(-2.3,124.95) scale(.875,1)" text-anchor="end">10<tspan class="s">°</tspan> N</text>
<text class="a" transform="translate(-2.3,162.65) scale(.875,1)" text-anchor="end">5<tspan class="s">°</tspan> N</text>
<text class="a" transform="translate(-7.5,200.35) scale(.875,1)" text-anchor="end">0<tspan class="s">°</tspan></text>
<text class="a" transform="translate(-2.3,238.05) scale(.875,1)" text-anchor="end">5<tspan class="s">°</tspan> S</text>
<text class="a" transform="translate(-2.3,275.75) scale(.875,1)" text-anchor="end">10<tspan class="s">°</tspan> S</text>
<text class="a" transform="translate(6.9,288.2) scale(.875,1)" text-anchor="middle">95<tspan class="s">°</tspan> E</text>
<text class="a" transform="translate(39.48,288.2) scale(.875,1)" text-anchor="middle">100<tspan class="s">°</tspan> E</text>
<text class="a" transform="translate(72.06,288.2) scale(.875,1)" text-anchor="middle">105<tspan class="s">°</tspan> E</text>
<text class="a" transform="translate(104.64,288.2) scale(.875,1)" text-anchor="middle">110<tspan class="s">°</tspan> E</text>
<text class="a" transform="translate(137.22,288.2) scale(.875,1)" text-anchor="middle">115<tspan class="s">°</tspan> E</text>
<text class="a" transform="translate(169.8,288.2) scale(.875,1)" text-anchor="middle">120<tspan class="s">°</tspan> E</text>
<text class="a" transform="translate(202.38,288.2) scale(.875,1)" text-anchor="middle">125<tspan class="s">°</tspan> E</text>
<text class="a" x="103.95" y="301.7" text-anchor="middle" style="font-size:8px">Longitude (degrees)</text>
<text class="a" transform="translate(-26.2,143.85) rotate(-90)" text-anchor="middle" style="font-size:8.1px">Latitude (degrees)</text>
</g>
<g transform="translate(608.5,36.6)">
<g clip-path="url(#cp)">
<use href="#grid"/>
<g shape-rendering="crispEdges">
<path fill="#00009f" d="M-0.94 -0.09H0.68V280.78H-0.94zM170.1 154.48H171.73V158.25H170.1zM205.94 162.02H207.57V173.33H204.31V171.45H202.68V163.91H205.94z"/>
<path fill="#0038c0" d="M160.33 16.88H166.84V20.65H165.21V22.53H161.96V18.76H160.33zM148.92 105.47H150.55V111.13H147.29V113.01H145.67V107.36H148.92zM23.49 129.98H26.75V133.75H28.38V135.63H30.01V137.52H31.63V141.29H30.01V139.4H28.38V137.52H26.75V135.63H25.12V131.86H23.49zM31.63 141.29H33.26V143.17H34.89V145.06H36.52V146.94H38.15V148.83H34.89V146.94H33.26V145.06H31.63zM197.79 154.48H207.57V162.02H205.94V163.91H202.68V171.45H204.31V173.33H207.57V178.99H205.94V177.1H201.05V175.22H197.79V173.33H196.16V171.45H194.53V169.56H191.28V160.14H192.91V158.25H194.53V156.37H197.79zM34.89 160.14H39.78V162.02H41.41V167.68H38.15V165.79H36.52V162.02H34.89zM67.47 241.19H72.36V246.85H67.47zM194.53 243.08H196.16V256.27H189.65V244.96H194.53z"/>
<path fill="#0094e0" d="M145.67 22.53H153.81V26.3H144.04V24.42H145.67zM163.58 80.97H170.1V84.74H171.73V99.82H168.47V105.47H166.84V109.24H165.21V111.13H163.58V113.01H161.96V114.9H160.33V116.78H158.7V118.67H157.07V120.55H155.44V122.44H153.81V126.21H152.18V128.09H150.55V131.86H148.92V135.63H145.67V133.75H139.15V131.86H134.26V133.75H126.12V131.86H121.23V129.98H119.6V128.09H117.97V126.21H116.34V124.32H114.71V120.55H113.09V114.9H111.46V113.01H108.2V116.78H106.57V122.44H104.94V124.32H103.31V122.44H101.68V111.13H104.94V109.24H113.09V107.36H116.34V105.47H122.86V103.59H124.49V99.82H126.12V97.93H127.75V96.05H129.38V94.16H131V92.28H132.63V90.39H135.89V88.51H140.78V86.62H150.55V88.51H157.07V86.62H160.33V84.74H161.96V82.85H163.58zM150.55 105.47H148.92V107.36H145.67V113.01H147.29V111.13H150.55zM96.8 114.9H100.05V116.78H96.8zM96.8 116.78V126.21H95.17V128.09H93.54V131.86H91.91V135.63H90.28V139.4H88.65V143.17H87.02V146.94H85.39V150.71H83.76V152.6H82.13V145.06H83.76V131.86H85.39V128.09H87.02V126.21H88.65V124.32H93.54V118.67H95.17V116.78zM21.86 131.86H25.12V141.29H26.75V146.94H25.12V150.71H20.23V133.75H21.86zM155.44 133.75H157.07V137.52H158.7V139.4H160.33V145.06H161.96V146.94H163.58V150.71H161.96V148.83H160.33V146.94H157.07V143.17H155.44zM183.13 145.06H186.39V146.94H188.02V148.83H189.65V150.71H199.42V152.6H204.31V154.48H197.79V156.37H194.53V158.25H192.91V160.14H191.28V169.56H194.53V171.45H196.16V173.33H197.79V175.22H201.05V177.1H196.16V175.22H191.28V173.33H188.02V171.45H184.76V169.56H183.13V165.79H181.5V154.48H183.13V150.71H181.5V148.83H183.13zM101.68 150.71H104.94V154.48H101.68zM34.89 156.37H36.52V158.25H39.78V160.14H34.89V162.02H36.52V165.79H34.89V163.91H31.63V158.25H34.89zM39.78 160.14H41.41V162.02H39.78zM36.52 165.79H38.15V167.68H36.52zM38.15 167.68H41.41V171.45H39.78V169.56H38.15zM41.41 165.79H43.04V167.68H41.41zM201.05 177.1H205.94V178.99H201.05zM160.33 199.72H163.58V211.03H161.96V209.15H160.33zM157.07 229.88H161.96V231.77H165.21V237.42H163.58V241.19H160.33V243.08H157.07V244.96H150.55V243.08H148.92V239.31H150.55V235.54H152.18V233.65H153.81V231.77H157.07zM192.91 235.54H196.16V243.08H194.53V244.96H189.65V256.27H178.25V252.5H179.87V250.62H181.5V248.73H183.13V244.96H184.76V243.08H186.39V241.19H188.02V239.31H191.28V237.42H192.91zM135.89 246.85H137.52V248.73H135.89zM165.21 254.39H170.1V256.27H165.21z"/>
<path fill="#00ffff" d="M161.96 11.22H171.73V14.99H170.1V24.42H165.21V26.3H157.07V28.19H150.55V30.07H145.67V28.19H142.41V26.3H140.78V24.42H144.04V26.3H153.81V24.42H161.96V22.53H165.21V20.65H166.84V13.11H161.96zM161.96 13.11V16.88H160.33V18.76H155.44V16.88H157.07V14.99H160.33V13.11zM152.18 18.76H153.81V22.53H150.55V20.65H152.18zM170.1 24.42H171.73V26.3H170.1zM173.36 30.07H176.62V54.58H173.36zM134.26 69.66H135.89V71.54H142.41V73.43H153.81V71.54H170.1V75.31H168.47V80.97H163.58V82.85H161.96V84.74H160.33V86.62H157.07V88.51H150.55V86.62H140.78V88.51H135.89V90.39H129.38V88.51H127.75V86.62H126.12V84.74H124.49V75.31H126.12V73.43H129.38V71.54H134.26zM95.17 75.31H96.8V77.2H95.17zM170.1 82.85H171.73V84.74H170.1zM171.73 86.62H173.36V90.39H174.99V92.28H173.36V94.16H171.73zM101.68 88.51H103.31V105.47H101.68zM171.73 96.05H173.36V99.82H174.99V101.7H173.36V103.59H171.73V101.7H170.1V103.59H168.47V99.82H171.73zM121.23 99.82H124.49V103.59H122.86V105.47H121.23zM166.84 105.47H168.47V109.24H166.84zM108.2 113.01H111.46V114.9H113.09V120.55H114.71V124.32H116.34V126.21H117.97V128.09H119.6V129.98H121.23V131.86H126.12V133.75H134.26V131.86H139.15V133.75H145.67V135.63H148.92V131.86H155.44V129.98H157.07V128.09H158.7V126.21H160.33V124.32H161.96V126.21H166.84V124.32H183.13V122.44H186.39V126.21H188.02V128.09H189.65V129.98H188.02V131.86H184.76V133.75H183.13V135.63H181.5V139.4H179.87V145.06H181.5V146.94H183.13V148.83H181.5V150.71H183.13V154.48H181.5V165.79H183.13V169.56H184.76V171.45H188.02V173.33H191.28V175.22H196.16V177.1H201.05V178.99H207.57V182.76H202.68V180.87H201.05V182.76H199.42V184.64H197.79V186.53H181.5V184.64H174.99V182.76H176.62V180.87H178.25V178.99H176.62V175.22H173.36V173.33H171.73V171.45H170.1V169.56H168.47V167.68H166.84V165.79H165.21V162.02H161.96V163.91H160.33V160.14H163.58V158.25H165.21V152.6H163.58V148.83H165.21V146.94H166.84V145.06H165.21V141.29H163.58V135.63H161.96V131.86H160.33V139.4H158.7V137.52H157.07V133.75H155.44V141.29H153.81V139.4H152.18V137.52H150.55V141.29H145.67V143.17H144.04V145.06H142.41V146.94H140.78V148.83H139.15V150.71H137.52V152.6H135.89V154.48H134.26V156.37H121.23V152.6H114.71V154.48H109.83V152.6H106.57V148.83H101.68V122.44H103.31V124.32H104.94V122.44H106.57V116.78H108.2zM161.96 113.01H163.58V114.9H161.96zM161.96 114.9V116.78H163.58V118.67H161.96V120.55H160.33V122.44H158.7V124.32H155.44V126.21H153.81V122.44H155.44V120.55H157.07V118.67H158.7V116.78H160.33V114.9zM166.84 114.9H170.1V116.78H166.84zM176.62 114.9H181.5V116.78H176.62zM183.13 116.78H186.39V120.55H184.76V118.67H183.13zM153.81 126.21V128.09H152.18V126.21zM95.17 126.21H96.8V158.25H95.17V160.14H88.65V162.02H87.02V163.91H83.76V165.79H80.51V167.68H77.25V169.56H72.36V167.68H70.73V163.91H69.1V146.94H70.73V145.06H72.36V143.17H73.99V141.29H77.25V139.4H78.88V137.52H80.51V135.63H82.13V133.75H83.76V145.06H82.13V152.6H83.76V150.71H85.39V146.94H87.02V143.17H88.65V139.4H90.28V135.63H91.91V131.86H93.54V128.09H95.17zM152.18 128.09V129.98H150.55V128.09zM46.3 133.75H47.92V135.63H49.55V137.52H51.18V139.4H49.55V141.29H47.92V139.4H46.3zM18.6 135.63H20.23V150.71H13.72V152.6H12.09V150.71H8.83V146.94H10.46V145.06H12.09V143.17H13.72V141.29H15.34V139.4H16.97V137.52H18.6zM25.12 135.63H26.75V137.52H28.38V139.4H30.01V141.29H31.63V145.06H33.26V146.94H34.89V148.83H38.15V152.6H39.78V158.25H36.52V156.37H34.89V158.25H31.63V160.14H30.01V158.25H28.38V156.37H33.26V150.71H31.63V148.83H28.38V150.71H26.75V154.48H28.38V156.37H25.12V154.48H23.49V152.6H21.86V150.71H25.12V146.94H26.75V141.29H25.12zM51.18 139.4H52.81V141.29H51.18zM52.81 141.29H56.07V143.17H52.81zM56.07 143.17H57.7V145.06H56.07zM160.33 141.29H161.96V145.06H160.33zM57.7 145.06H59.33V146.94H57.7zM155.44 143.17H157.07V146.94H155.44zM161.96 145.06H163.58V146.94H161.96zM59.33 146.94H60.96V148.83H59.33zM60.96 148.83H62.59V152.6H60.96zM158.7 146.94H160.33V148.83H158.7zM160.33 148.83H161.96V150.71H160.33zM204.31 150.71H205.94V152.6H207.57V154.48H204.31zM171.73 154.48H170.1V158.25H171.73zM39.78 158.25H41.41V160.14H39.78zM160.33 163.91V173.33H161.96V178.99H163.58V184.64H161.96V182.76H160.33V177.1H158.7V173.33H157.07V171.45H155.44V165.79H157.07V163.91zM41.41 163.91H43.04V165.79H41.41zM43.04 165.79H44.67V169.56H46.3V171.45H44.67V173.33H41.41V167.68H43.04zM72.36 171.45H77.25V177.1H72.36zM47.92 173.33H49.55V175.22H47.92zM49.55 175.22H51.18V177.1H52.81V178.99H49.55zM163.58 184.64H165.21V186.53H170.1V188.41H168.47V190.3H166.84V199.72H165.21V201.61H163.58V199.72H160.33V209.15H161.96V212.92H160.33V211.03H158.7V209.15H157.07V207.26H155.44V199.72H157.07V192.18H158.7V190.3H163.58zM72.36 192.18H73.99V194.07H72.36zM73.99 194.07H75.62V195.95H73.99zM75.62 195.95H77.25V197.84H78.88V199.72H75.62zM85.39 203.49H87.02V205.38H85.39zM88.65 211.03H91.91V212.92H88.65zM153.81 212.92H157.07V216.69H158.7V220.46H153.81V222.34H152.18V218.57H153.81zM85.39 218.57H87.02V220.46H85.39zM87.02 220.46H93.54V222.34H90.28V224.23H83.76V222.34H87.02zM104.94 220.46H108.2V222.34H104.94zM83.76 224.23V226.11H80.51V224.23zM111.46 222.34H113.09V224.23H111.46zM117.97 224.23H122.86V226.11H117.97zM127.75 226.11H129.38V228H127.75zM163.58 226.11H165.21V231.77H161.96V229.88H157.07V231.77H153.81V233.65H152.18V235.54H150.55V239.31H148.92V229.88H153.81V228H163.58zM178.25 228H179.87V231.77H178.25zM131 229.88H132.63V231.77H131zM179.87 231.77H181.5V235.54H183.13V237.42H184.76V239.31H186.39V237.42H188.02V241.19H186.39V243.08H184.76V244.96H183.13V239.31H181.5V237.42H174.99V233.65H176.62V235.54H179.87zM142.41 231.77H144.04V239.31H148.92V243.08H150.55V244.96H157.07V243.08H160.33V241.19H163.58V244.96H160.33V246.85H157.07V254.39H158.7V256.27H135.89V254.39H134.26V252.5H137.52V250.62H144.04V244.96H137.52V246.85H129.38V244.96H131V243.08H139.15V241.19H140.78V239.31H142.41zM132.63 233.65H134.26V235.54H132.63zM165.21 233.65H166.84V235.54H165.21zM163.58 237.42H166.84V239.31H163.58zM67.47 239.31H70.73V241.19H67.47zM183.13 244.96V248.73H181.5V244.96zM145.67 248.73V254.39H148.92V248.73zM163.58 246.85H165.21V250.62H166.84V252.5H168.47V254.39H165.21V256.27H160.33V254.39H161.96V250.62H163.58zM181.5 248.73V250.62H179.87V248.73zM179.87 250.62V252.5H178.25V250.62zM178.25 252.5V256.27H170.1V254.39H174.99V252.5z"/>
<path fill="#00d048" d="M171.73 28.19H176.62V30.07H173.36V58.35H171.73V64H170.1V71.54H153.81V73.43H142.41V71.54H135.89V69.66H134.26V71.54H129.38V73.43H126.12V75.31H124.49V84.74H126.12V86.62H127.75V88.51H129.38V90.39H132.63V92.28H131V94.16H129.38V96.05H127.75V97.93H126.12V99.82H121.23V105.47H116.34V107.36H113.09V109.24H104.94V111.13H101.68V116.78H100.05V109.24H101.68V105.47H103.31V58.35H106.57V56.46H108.2V54.58H109.83V52.69H113.09V50.8H116.34V48.92H119.6V47.04H121.23V45.15H124.49V50.8H132.63V48.92H135.89V47.04H139.15V45.15H142.41V43.27H145.67V41.38H148.92V39.5H155.44V37.61H161.96V35.73H171.73zM144.04 30.07H147.29V31.96H145.67V33.84H142.41V31.96H144.04zM142.41 33.84V35.73H139.15V33.84zM139.15 35.73V37.61H137.52V39.5H132.63V37.61H135.89V35.73zM132.63 39.5V41.38H131V39.5zM127.75 41.38H129.38V43.27H127.75zM124.49 43.27H126.12V45.15H124.49zM157.07 50.8V52.69H152.18V54.58H145.67V56.46H142.41V58.35H140.78V60.23H142.41V62.12H150.55V64H163.58V62.12H168.47V60.23H170.1V54.58H168.47V52.69H165.21V50.8zM117.97 56.46V58.35H114.71V60.23H111.46V62.12H109.83V64H108.2V65.89H109.83V67.77H117.97V65.89H122.86V64H126.12V62.12H127.75V60.23H129.38V58.35H131V56.46zM109.83 84.74V90.39H113.09V84.74zM168.47 116.78H183.13V118.67H184.76V120.55H186.39V122.44H183.13V124.32H166.84V126.21H163.58V124.32H161.96V122.44H163.58V120.55H165.21V118.67H168.47zM87.02 124.32H88.65V126.21H87.02zM87.02 126.21V128.09H85.39V126.21zM80.51 129.98H85.39V131.86H83.76V133.75H82.13V135.63H80.51zM160.33 131.86H161.96V135.63H163.58V141.29H165.21V145.06H166.84V146.94H165.21V148.83H163.58V145.06H161.96V141.29H160.33zM80.51 135.63V137.52H75.62V135.63zM65.84 135.63H72.36V137.52H65.84zM69.1 145.06H70.73V146.94H69.1zM28.38 148.83H31.63V150.71H33.26V156.37H28.38V154.48H26.75V150.71H28.38zM67.47 148.83H69.1V163.91H70.73V167.68H72.36V169.56H69.1V178.99H67.47V175.22H65.84V167.68H64.22V165.79H65.84V162.02H67.47zM100.05 148.83H106.57V152.6H109.83V156.37H100.05zM101.68 150.71V154.48H104.94V150.71zM95.17 158.25H96.8V160.14H98.42V162.02H96.8V165.79H95.17zM100.05 162.02H106.57V163.91H100.05zM161.96 162.02H165.21V165.79H166.84V167.68H168.47V169.56H170.1V171.45H171.73V173.33H173.36V175.22H176.62V178.99H178.25V180.87H176.62V182.76H174.99V184.64H173.36V186.53H165.21V184.64H163.58V180.87H166.84V182.76H168.47V178.99H166.84V177.1H165.21V175.22H161.96V173.33H160.33V163.91H161.96zM80.51 165.79H82.13V167.68H80.51zM80.51 167.68V169.56H78.88V173.33H85.39V175.22H83.76V182.76H82.13V190.3H77.25V188.41H75.62V184.64H73.99V178.99H72.36V177.1H77.25V171.45H75.62V169.56H77.25V167.68zM93.54 167.68H95.17V169.56H93.54zM93.54 173.33H95.17V177.1H93.54zM93.54 177.1V178.99H91.91V177.1zM91.91 178.99V180.87H90.28V178.99zM161.96 177.1H163.58V178.99H161.96zM155.44 207.26H157.07V209.15H158.7V211.03H160.33V212.92H153.81V211.03H155.44zM158.7 216.69H160.33V220.46H161.96V222.34H163.58V224.23H165.21V226.11H163.58V228H153.81V229.88H148.92V231.77H145.67V229.88H147.29V228H148.92V226.11H150.55V224.23H152.18V222.34H153.81V220.46H158.7zM174.99 224.23H176.62V226.11H178.25V231.77H179.87V235.54H176.62V233.65H174.99zM131 235.54H134.26V237.42H135.89V239.31H139.15V237.42H140.78V235.54H142.41V239.31H140.78V241.19H132.63V243.08H124.49V239.31H129.38V237.42H131zM171.73 237.42H181.5V239.31H183.13V244.96H181.5V248.73H179.87V250.62H178.25V252.5H174.99V250.62H176.62V241.19H174.99V239.31H171.73zM163.58 239.31H170.1V241.19H168.47V250.62H170.1V252.5H174.99V254.39H168.47V252.5H166.84V250.62H165.21V246.85H163.58V250.62H161.96V254.39H157.07V246.85H160.33V244.96H163.58zM145.67 248.73H148.92V254.39H145.67z"/>
<path fill="#32a010" d="M161.96 13.11H166.84V16.88H161.96zM165.21 24.42H170.1V26.3H171.73V35.73H161.96V37.61H155.44V39.5H148.92V41.38H145.67V43.27H142.41V45.15H139.15V47.04H135.89V48.92H132.63V50.8H124.49V45.15H126.12V43.27H129.38V41.38H132.63V39.5H137.52V37.61H139.15V35.73H142.41V33.84H145.67V31.96H147.29V30.07H150.55V28.19H157.07V26.3H165.21zM157.07 50.8H165.21V52.69H168.47V54.58H170.1V60.23H168.47V62.12H163.58V64H150.55V62.12H142.41V60.23H140.78V58.35H142.41V56.46H145.67V54.58H152.18V52.69H157.07zM117.97 56.46H131V58.35H129.38V60.23H127.75V62.12H126.12V64H122.86V65.89H117.97V67.77H109.83V65.89H108.2V64H109.83V62.12H111.46V60.23H114.71V58.35H117.97zM109.83 84.74H113.09V90.39H109.83zM96.8 116.78H101.68V148.83H100.05V158.25H98.42V160.14H96.8zM47.92 133.75H60.96V135.63H65.84V137.52H72.36V135.63H75.62V137.52H78.88V139.4H77.25V141.29H73.99V143.17H72.36V145.06H69.1V148.83H67.47V162.02H65.84V165.79H64.22V158.25H62.59V148.83H60.96V146.94H59.33V145.06H57.7V143.17H56.07V141.29H52.81V139.4H51.18V137.52H49.55V135.63H47.92zM88.65 160.14H95.17V162.02H90.28V167.68H93.54V169.56H95.17V173.33H93.54V177.1H91.91V178.99H90.28V180.87H88.65V186.53H87.02V190.3H88.65V197.84H90.28V201.61H91.91V205.38H93.54V209.15H95.17V212.92H91.91V211.03H90.28V209.15H88.65V205.38H87.02V203.49H85.39V199.72H83.76V197.84H82.13V195.95H78.88V194.07H77.25V192.18H75.62V190.3H73.99V188.41H72.36V182.76H70.73V178.99H69.1V169.56H75.62V171.45H72.36V178.99H73.99V184.64H75.62V188.41H77.25V190.3H82.13V182.76H83.76V175.22H85.39V173.33H83.76V169.56H80.51V167.68H82.13V165.79H83.76V163.91H87.02V162.02H88.65zM161.96 175.22H165.21V177.1H166.84V178.99H168.47V182.76H166.84V180.87H163.58V177.1H161.96zM129.38 235.54H131V237.42H129.38zM129.38 237.42V239.31H126.12V237.42zM121.23 239.31H124.49V243.08H131V244.96H119.6V241.19H121.23zM132.63 241.19H139.15V243.08H132.63z"/>
<path fill="#ffff00" d="M135.89 26.3H142.41V28.19H145.67V30.07H144.04V31.96H142.41V33.84H139.15V35.73H135.89V37.61H132.63V39.5H131V41.38H127.75V43.27H124.49V45.15H121.23V43.27H122.86V41.38H126.12V39.5H127.75V37.61H131V35.73H132.63V33.84H135.89V31.96H139.15V28.19H135.89zM121.23 45.15V47.04H119.6V48.92H116.34V47.04H117.97V45.15zM116.34 48.92V50.8H113.09V48.92zM113.09 50.8V52.69H111.46V50.8zM101.68 58.35H103.31V88.51H101.68zM49.55 129.98H62.59V131.86H60.96V133.75H44.67V131.86H49.55zM114.71 152.6H116.34V154.48H119.6V156.37H131V158.25H129.38V160.14H127.75V162.02H126.12V160.14H114.71V162.02H113.09V165.79H111.46V167.68H109.83V169.56H101.68V171.45H95.17V165.79H96.8V162.02H98.42V158.25H100.05V156.37H109.83V154.48H114.71zM100.05 162.02V163.91H106.57V162.02zM44.67 171.45H47.92V175.22H46.3V173.33H44.67zM95.17 175.22H100.05V178.99H98.42V182.76H96.8V188.41H93.54V194.07H96.8V195.95H95.17V201.61H93.54V205.38H91.91V201.61H90.28V197.84H88.65V190.3H87.02V186.53H88.65V180.87H91.91V178.99H93.54V177.1H95.17zM70.73 182.76H72.36V186.53H70.73zM72.36 188.41H73.99V190.3H75.62V192.18H77.25V194.07H78.88V195.95H82.13V197.84H83.76V199.72H85.39V203.49H82.13V201.61H80.51V199.72H78.88V197.84H77.25V195.95H75.62V194.07H73.99V192.18H72.36zM87.02 211.03H88.65V212.92H87.02zM87.02 212.92V218.57H85.39V212.92zM95.17 211.03H100.05V212.92H101.68V220.46H104.94V224.23H106.57V226.11H111.46V228H116.34V226.11H114.71V224.23H117.97V228H119.6V229.88H126.12V231.77H127.75V229.88H129.38V228H131V231.77H132.63V235.54H129.38V237.42H126.12V239.31H121.23V241.19H119.6V243.08H114.71V241.19H111.46V237.42H109.83V235.54H111.46V233.65H109.83V231.77H108.2V229.88H104.94V228H96.8V226.11H88.65V228H85.39V226.11H83.76V224.23H90.28V222.34H93.54V220.46H95.17zM174.99 222.34H176.62V224.23H174.99zM126.12 226.11H127.75V228H126.12zM170.1 239.31H174.99V241.19H170.1zM170.1 241.19V250.62H168.47V241.19zM174.99 241.19H176.62V244.96H174.99zM170.1 250.62H174.99V252.5H170.1zM174.99 248.73H176.62V250.62H174.99z"/>
<path fill="#ffa800" d="M132.63 28.19H139.15V31.96H135.89V33.84H132.63V35.73H131V37.61H127.75V39.5H126.12V41.38H122.86V43.27H121.23V45.15H117.97V47.04H116.34V48.92H113.09V45.15H116.34V43.27H119.6V41.38H121.23V39.5H122.86V37.61H126.12V35.73H127.75V33.84H129.38V31.96H131V30.07H132.63zM41.41 107.36H44.67V109.24H47.92V118.67H49.55V124.32H51.18V128.09H52.81V129.98H49.55V131.86H44.67V129.98H43.04V118.67H39.78V116.78H38.15V109.24H41.41zM49.55 139.4H51.18V141.29H52.81V143.17H49.55zM52.81 143.17H56.07V145.06H57.7V146.94H54.44V145.06H52.81zM57.7 146.94H59.33V148.83H57.7zM59.33 148.83H60.96V152.6H59.33zM60.96 152.6H62.59V154.48H60.96zM114.71 160.14H126.12V162.02H121.23V163.91H119.6V169.56H114.71V171.45H113.09V173.33H111.46V175.22H109.83V173.33H101.68V175.22H103.31V177.1H109.83V178.99H100.05V171.45H101.68V169.56H109.83V167.68H111.46V165.79H113.09V162.02H114.71zM93.54 188.41H96.8V194.07H93.54zM73.99 195.95H75.62V197.84H73.99zM104.94 222.34H111.46V224.23H114.71V226.11H116.34V228H111.46V226.11H106.57V224.23H104.94zM88.65 226.11H96.8V228H104.94V229.88H108.2V231.77H109.83V233.65H111.46V235.54H106.57V233.65H101.68V231.77H96.8V229.88H91.91V228H88.65zM117.97 226.11H126.12V228H129.38V229.88H127.75V231.77H126.12V229.88H119.6V228H117.97z"/>
<path fill="#ff5a00" d="M126.12 31.96H129.38V33.84H127.75V35.73H126.12V37.61H122.86V39.5H121.23V41.38H119.6V43.27H116.34V45.15H113.09V43.27H114.71V41.38H117.97V39.5H119.6V37.61H121.23V33.84H126.12zM91.91 41.38H95.17V47.04H93.54V48.92H91.91V52.69H90.28V56.46H91.91V60.23H93.54V62.12H95.17V64H96.8V67.77H95.17V65.89H91.91V64H90.28V62.12H88.65V58.35H87.02V56.46H85.39V52.69H83.76V47.04H87.02V45.15H88.65V43.27H91.91zM39.78 105.47H44.67V107.36H41.41V109.24H39.78zM44.67 107.36H47.92V105.47H49.55V107.36H51.18V109.24H52.81V111.13H54.44V113.01H56.07V114.9H57.7V116.78H59.33V118.67H60.96V120.55H64.22V122.44H65.84V129.98H52.81V128.09H51.18V124.32H49.55V118.67H47.92V109.24H44.67zM59.33 114.9H60.96V116.78H59.33zM60.96 116.78H62.59V118.67H60.96zM121.23 162.02H126.12V163.91H124.49V165.79H122.86V167.68H119.6V163.91H121.23zM101.68 173.33H109.83V177.1H103.31V175.22H101.68zM85.39 228H91.91V229.88H96.8V231.77H101.68V233.65H106.57V235.54H109.83V237.42H111.46V241.19H109.83V243.08H106.57V237.42H104.94V235.54H96.8V241.19H93.54V239.31H82.13V237.42H80.51V235.54H85.39zM170.1 241.19H174.99V244.96H176.62V248.73H174.99V250.62H170.1V248.73H173.36V243.08H170.1z"/>
<path fill="#ff0000" d="M90.28 33.84H95.17V35.73H96.8V37.61H98.42V45.15H96.8V47.04H95.17V41.38H91.91V43.27H88.65V45.15H87.02V47.04H83.76V52.69H85.39V56.46H87.02V58.35H88.65V62.12H90.28V64H91.91V65.89H95.17V67.77H96.8V64H95.17V62.12H93.54V60.23H91.91V56.46H90.28V52.69H91.91V48.92H93.54V54.58H95.17V58.35H100.05V60.23H101.68V94.16H100.05V84.74H98.42V80.97H96.8V75.31H93.54V69.66H90.28V67.77H88.65V65.89H87.02V64H85.39V62.12H83.76V58.35H82.13V54.58H80.51V52.69H78.88V48.92H80.51V45.15H82.13V43.27H83.76V41.38H85.39V39.5H87.02V37.61H88.65V35.73H90.28zM116.34 35.73H121.23V37.61H119.6V39.5H117.97V41.38H114.71V43.27H113.09V45.15H111.46V43.27H109.83V41.38H111.46V39.5H113.09V37.61H116.34zM95.17 47.04V48.92H93.54V47.04zM111.46 48.92H113.09V50.8H111.46zM43.04 103.59H52.81V105.47H54.44V107.36H56.07V111.13H57.7V113.01H59.33V116.78H57.7V114.9H56.07V113.01H54.44V111.13H52.81V109.24H51.18V107.36H49.55V105.47H47.92V107.36H44.67V105.47H43.04zM59.33 116.78H60.96V118.67H59.33zM60.96 118.67H62.59V120.55H60.96zM43.04 173.33H46.3V175.22H49.55V178.99H47.92V177.1H44.67V175.22H43.04zM51.18 178.99H56.07V180.87H57.7V182.76H52.81V180.87H51.18zM157.07 212.92H160.33V216.69H157.07zM80.51 226.11H85.39V235.54H78.88V231.77H80.51zM96.8 235.54H104.94V237.42H106.57V243.08H104.94V241.19H100.05V243.08H96.8zM170.1 243.08H173.36V248.73H170.1z"/>
</g>
<use href="#land"/>
</g>
<rect x="0" y="0" width="209.3" height="278.3" fill="none" stroke="#000" stroke-width="1.25"/>
<text class="t" x="109.9" y="-17.6">Run 3</text>
<text class="a" transform="translate(-2.3,11.85) scale(.875,1)" text-anchor="end">25<tspan class="s">°</tspan> N</text>
<text class="a" transform="translate(-2.3,49.55) scale(.875,1)" text-anchor="end">20<tspan class="s">°</tspan> N</text>
<text class="a" transform="translate(-2.3,87.25) scale(.875,1)" text-anchor="end">15<tspan class="s">°</tspan> N</text>
<text class="a" transform="translate(-2.3,124.95) scale(.875,1)" text-anchor="end">10<tspan class="s">°</tspan> N</text>
<text class="a" transform="translate(-2.3,162.65) scale(.875,1)" text-anchor="end">5<tspan class="s">°</tspan> N</text>
<text class="a" transform="translate(-7.5,200.35) scale(.875,1)" text-anchor="end">0<tspan class="s">°</tspan></text>
<text class="a" transform="translate(-2.3,238.05) scale(.875,1)" text-anchor="end">5<tspan class="s">°</tspan> S</text>
<text class="a" transform="translate(-2.3,275.75) scale(.875,1)" text-anchor="end">10<tspan class="s">°</tspan> S</text>
<text class="a" transform="translate(6.9,288.2) scale(.875,1)" text-anchor="middle">95<tspan class="s">°</tspan> E</text>
<text class="a" transform="translate(39.48,288.2) scale(.875,1)" text-anchor="middle">100<tspan class="s">°</tspan> E</text>
<text class="a" transform="translate(72.06,288.2) scale(.875,1)" text-anchor="middle">105<tspan class="s">°</tspan> E</text>
<text class="a" transform="translate(104.64,288.2) scale(.875,1)" text-anchor="middle">110<tspan class="s">°</tspan> E</text>
<text class="a" transform="translate(137.22,288.2) scale(.875,1)" text-anchor="middle">115<tspan class="s">°</tspan> E</text>
<text class="a" transform="translate(169.8,288.2) scale(.875,1)" text-anchor="middle">120<tspan class="s">°</tspan> E</text>
<text class="a" transform="translate(202.38,288.2) scale(.875,1)" text-anchor="middle">125<tspan class="s">°</tspan> E</text>
<text class="a" x="103.95" y="301.7" text-anchor="middle" style="font-size:8px">Longitude (degrees)</text>
<text class="a" transform="translate(-26.2,143.85) rotate(-90)" text-anchor="middle" style="font-size:8.1px">Latitude (degrees)</text>
</g>
<g transform="translate(34.3,396.8)">
<g clip-path="url(#cp)">
<use href="#grid"/>
<g shape-rendering="crispEdges">
<path fill="#00009f" d="M-0.94 -0.09H0.68V280.78H-0.94zM170.1 154.48H171.73V158.25H170.1zM202.68 160.14H207.57V171.45H202.68V169.56H199.42V165.79H197.79V163.91H199.42V162.02H202.68z"/>
<path fill="#0038c0" d="M160.33 14.99H165.21V20.65H161.96V18.76H160.33zM152.18 20.65H153.81V26.3H152.18V24.42H150.55V22.53H152.18zM147.29 107.36H150.55V111.13H148.92V113.01H145.67V109.24H147.29zM23.49 129.98H26.75V133.75H28.38V135.63H30.01V137.52H31.63V141.29H33.26V143.17H34.89V145.06H36.52V146.94H38.15V148.83H34.89V146.94H33.26V145.06H31.63V143.17H30.01V141.29H28.38V137.52H26.75V135.63H25.12V131.86H23.49zM197.79 154.48H207.57V160.14H202.68V162.02H199.42V163.91H197.79V165.79H199.42V169.56H202.68V171.45H207.57V178.99H204.31V177.1H199.42V175.22H196.16V173.33H194.53V171.45H192.91V169.56H191.28V165.79H189.65V160.14H191.28V158.25H192.91V156.37H197.79zM31.63 160.14H39.78V162.02H41.41V165.79H43.04V167.68H41.41V171.45H39.78V169.56H38.15V163.91H31.63zM67.47 241.19H72.36V246.85H67.47zM191.28 243.08H196.16V256.27H189.65V244.96H191.28z"/>
<path fill="#0094e0" d="M160.33 13.11H165.21V14.99H160.33zM160.33 14.99V18.76H157.07V14.99zM161.96 20.65H165.21V22.53H166.84V24.42H161.96zM145.67 22.53H150.55V24.42H152.18V26.3H145.67zM163.58 79.08H168.47V80.97H170.1V82.85H171.73V99.82H168.47V103.59H166.84V107.36H165.21V111.13H163.58V113.01H161.96V114.9H160.33V116.78H158.7V118.67H157.07V120.55H155.44V122.44H153.81V126.21H152.18V128.09H150.55V131.86H148.92V135.63H147.29V137.52H144.04V139.4H140.78V137.52H134.26V135.63H129.38V137.52H126.12V135.63H121.23V139.4H119.6V141.29H116.34V143.17H114.71V145.06H113.09V146.94H101.68V137.52H100.05V129.98H98.42V131.86H96.8V133.75H95.17V145.06H93.54V154.48H91.91V156.37H87.02V154.48H83.76V152.6H82.13V146.94H83.76V139.4H85.39V137.52H83.76V135.63H80.51V131.86H82.13V129.98H85.39V128.09H87.02V126.21H88.65V124.32H93.54V118.67H95.17V116.78H96.8V114.9H100.05V120.55H101.68V111.13H104.94V109.24H109.83V107.36H113.09V105.47H114.71V103.59H116.34V101.7H119.6V99.82H121.23V97.93H122.86V96.05H124.49V94.16H126.12V92.28H127.75V90.39H129.38V88.51H131V86.62H135.89V84.74H140.78V86.62H153.81V84.74H157.07V82.85H161.96V80.97H163.58zM147.29 107.36V109.24H145.67V113.01H148.92V111.13H150.55V107.36zM21.86 131.86H25.12V135.63H26.75V137.52H28.38V141.29H30.01V143.17H31.63V145.06H33.26V146.94H34.89V148.83H26.75V150.71H28.38V156.37H25.12V154.48H23.49V152.6H21.86V150.71H20.23V133.75H21.86zM155.44 139.4H160.33V146.94H157.07V143.17H155.44zM34.89 148.83H38.15V152.6H36.52V150.71H34.89zM186.39 146.94H188.02V148.83H189.65V150.71H199.42V152.6H204.31V154.48H197.79V156.37H192.91V158.25H191.28V160.14H189.65V165.79H191.28V169.56H192.91V171.45H194.53V173.33H196.16V175.22H199.42V177.1H204.31V178.99H207.57V180.87H197.79V178.99H192.91V177.1H191.28V175.22H188.02V173.33H186.39V171.45H179.87V167.68H178.25V156.37H179.87V152.6H183.13V150.71H184.76V148.83H186.39zM38.15 152.6H39.78V158.25H41.41V160.14H36.52V158.25H38.15zM72.36 150.71H75.62V154.48H72.36zM101.68 150.71H104.94V156.37H101.68zM31.63 152.6H34.89V156.37H31.63zM30.01 158.25H31.63V160.14H30.01zM147.29 228H148.92V231.77H145.67V229.88H147.29zM153.81 233.65H163.58V241.19H158.7V243.08H155.44V244.96H152.18V237.42H153.81zM147.29 235.54H150.55V237.42H148.92V241.19H147.29zM192.91 235.54H196.16V243.08H191.28V244.96H189.65V256.27H179.87V254.39H181.5V250.62H183.13V246.85H184.76V244.96H186.39V243.08H188.02V241.19H189.65V239.31H191.28V237.42H192.91zM165.21 254.39H170.1V256.27H165.21z"/>
<path fill="#00ffff" d="M161.96 11.22H171.73V14.99H170.1V24.42H171.73V26.3H166.84V28.19H145.67V30.07H132.63V28.19H135.89V26.3H140.78V24.42H145.67V26.3H161.96V24.42H166.84V22.53H165.21V13.11H161.96zM155.44 16.88H157.07V18.76H155.44zM152.18 18.76H153.81V20.65H152.18zM152.18 20.65V22.53H150.55V20.65zM173.36 30.07H176.62V54.58H173.36zM95.17 58.35H98.42V60.23H106.57V69.66H103.31V64H100.05V62.12H96.8V60.23H95.17zM131 71.54H144.04V73.43H155.44V71.54H161.96V73.43H163.58V75.31H166.84V77.2H168.47V79.08H163.58V80.97H161.96V82.85H157.07V84.74H153.81V86.62H140.78V84.74H135.89V86.62H131V88.51H129.38V90.39H127.75V92.28H126.12V94.16H124.49V96.05H122.86V97.93H121.23V99.82H119.6V101.7H116.34V103.59H114.71V105.47H113.09V107.36H109.83V109.24H106.57V105.47H108.2V103.59H109.83V101.7H113.09V99.82H116.34V97.93H117.97V96.05H121.23V92.28H122.86V77.2H124.49V75.31H127.75V73.43H131zM96.8 79.08H100.05V84.74H98.42V80.97H96.8zM171.73 86.62H173.36V90.39H174.99V92.28H173.36V94.16H171.73zM171.73 96.05H173.36V99.82H174.99V101.7H173.36V103.59H171.73V101.7H170.1V103.59H168.47V99.82H171.73zM168.47 103.59V109.24H165.21V107.36H166.84V103.59zM100.05 109.24H104.94V111.13H101.68V120.55H100.05zM161.96 113.01H163.58V114.9H161.96zM161.96 114.9V116.78H163.58V118.67H161.96V120.55H160.33V122.44H158.7V124.32H155.44V126.21H153.81V122.44H155.44V120.55H157.07V118.67H158.7V116.78H160.33V114.9zM166.84 114.9H170.1V116.78H174.99V118.67H170.1V120.55H168.47V122.44H166.84V124.32H165.21V126.21H163.58V124.32H161.96V122.44H163.58V120.55H165.21V118.67H168.47V116.78H166.84zM176.62 114.9H181.5V116.78H186.39V126.21H188.02V128.09H189.65V129.98H188.02V131.86H184.76V133.75H183.13V135.63H181.5V139.4H179.87V145.06H181.5V146.94H183.13V145.06H186.39V148.83H184.76V150.71H183.13V152.6H179.87V156.37H178.25V167.68H179.87V171.45H186.39V173.33H188.02V175.22H191.28V177.1H192.91V178.99H197.79V180.87H201.05V182.76H199.42V184.64H197.79V186.53H181.5V184.64H174.99V182.76H176.62V178.99H174.99V177.1H173.36V175.22H171.73V173.33H170.1V171.45H168.47V169.56H166.84V167.68H165.21V165.79H163.58V163.91H161.96V165.79H160.33V167.68H157.07V171.45H155.44V165.79H157.07V163.91H160.33V160.14H163.58V162.02H165.21V163.91H166.84V160.14H168.47V158.25H171.73V152.6H170.1V150.71H168.47V146.94H166.84V145.06H165.21V143.17H163.58V137.52H161.96V133.75H163.58V129.98H165.21V128.09H166.84V126.21H170.1V124.32H171.73V122.44H178.25V120.55H181.5V118.67H179.87V116.78H176.62zM161.96 124.32V126.21H163.58V128.09H161.96V131.86H160.33V139.4H155.44V141.29H153.81V139.4H152.18V137.52H150.55V141.29H145.67V143.17H144.04V145.06H142.41V146.94H140.78V148.83H139.15V150.71H137.52V152.6H135.89V154.48H134.26V156.37H124.49V154.48H122.86V152.6H109.83V150.71H101.68V148.83H100.05V137.52H101.68V146.94H113.09V145.06H114.71V143.17H116.34V141.29H119.6V139.4H121.23V135.63H126.12V137.52H129.38V135.63H134.26V137.52H140.78V139.4H144.04V137.52H147.29V135.63H148.92V131.86H153.81V135.63H155.44V129.98H157.07V128.09H158.7V126.21H160.33V124.32zM87.02 124.32H88.65V126.21H87.02zM87.02 126.21V128.09H85.39V126.21zM153.81 126.21V128.09H152.18V126.21zM152.18 128.09V129.98H150.55V128.09zM18.6 135.63H20.23V150.71H13.72V152.6H12.09V150.71H8.83V146.94H10.46V145.06H12.09V143.17H13.72V141.29H15.34V139.4H16.97V137.52H18.6zM73.99 135.63H83.76V137.52H85.39V139.4H83.76V146.94H82.13V152.6H83.76V154.48H87.02V156.37H91.91V154.48H93.54V156.37H95.17V160.14H91.91V162.02H85.39V163.91H82.13V165.79H78.88V167.68H75.62V169.56H69.1V178.99H67.47V175.22H65.84V160.14H64.22V154.48H65.84V146.94H67.47V143.17H69.1V139.4H70.73V137.52H73.99zM46.3 137.52H47.92V139.4H46.3zM47.92 139.4H49.55V141.29H47.92zM160.33 141.29H161.96V145.06H163.58V146.94H161.96V148.83H163.58V150.71H160.33V148.83H158.7V146.94H160.33zM57.7 145.06H59.33V146.94H57.7zM59.33 146.94H60.96V148.83H59.33zM155.44 145.06H157.07V146.94H155.44zM60.96 148.83H62.59V150.71H60.96zM26.75 148.83H34.89V150.71H36.52V152.6H38.15V158.25H36.52V160.14H31.63V158.25H28.38V150.71H26.75zM72.36 150.71V154.48H75.62V150.71zM31.63 152.6V156.37H34.89V152.6zM204.31 150.71H205.94V152.6H207.57V154.48H204.31zM39.78 160.14H41.41V162.02H39.78zM34.89 163.91H38.15V167.68H36.52V165.79H34.89zM41.41 163.91H43.04V165.79H41.41zM43.04 165.79H44.67V169.56H46.3V171.45H47.92V173.33H49.55V175.22H46.3V173.33H44.67V171.45H41.41V167.68H43.04zM157.07 171.45H160.33V175.22H158.7V173.33H157.07zM72.36 171.45H78.88V177.1H75.62V178.99H73.99V177.1H72.36zM49.55 175.22H51.18V177.1H52.81V178.99H49.55zM160.33 177.1H161.96V182.76H160.33zM161.96 182.76H163.58V184.64H161.96zM202.68 180.87H207.57V182.76H202.68zM70.73 184.64H72.36V186.53H70.73zM171.73 184.64H173.36V186.53H171.73zM168.47 186.53H170.1V188.41H168.47zM168.47 188.41V190.3H166.84V188.41zM166.84 190.3V199.72H165.21V201.61H163.58V211.03H161.96V212.92H160.33V207.26H161.96V195.95H163.58V192.18H165.21V190.3zM73.99 192.18H75.62V194.07H73.99zM80.51 195.95H82.13V199.72H83.76V201.61H85.39V203.49H82.13V201.61H80.51V199.72H78.88V197.84H80.51zM85.39 203.49H87.02V205.38H85.39zM88.65 207.26H90.28V209.15H88.65zM88.65 211.03H91.91V212.92H88.65zM96.8 211.03H98.42V214.8H96.8zM153.81 211.03H155.44V212.92H157.07V216.69H160.33V220.46H155.44V222.34H152.18V218.57H153.81zM85.39 218.57H87.02V220.46H85.39zM87.02 220.46H95.17V222.34H91.91V224.23H88.65V226.11H80.51V224.23H83.76V222.34H87.02zM95.17 218.57H96.8V220.46H95.17zM101.68 220.46H108.2V222.34H113.09V224.23H104.94V222.34H101.68zM113.09 224.23H122.86V226.11H113.09zM150.55 224.23H152.18V231.77H163.58V229.88H165.21V233.65H166.84V235.54H165.21V237.42H166.84V239.31H165.21V241.19H163.58V233.65H153.81V237.42H152.18V244.96H155.44V243.08H158.7V241.19H163.58V244.96H160.33V246.85H158.7V248.73H157.07V250.62H158.7V248.73H161.96V246.85H163.58V244.96H165.21V246.85H166.84V252.5H168.47V254.39H165.21V256.27H160.33V254.39H158.7V256.27H148.92V252.5H144.04V244.96H137.52V248.73H135.89V246.85H129.38V244.96H126.12V243.08H139.15V241.19H140.78V235.54H142.41V231.77H144.04V239.31H147.29V241.19H148.92V237.42H150.55V235.54H148.92V226.11H150.55zM176.62 226.11H178.25V228H176.62zM178.25 228H179.87V231.77H178.25zM129.38 228H131V229.88H132.63V233.65H134.26V239.31H132.63V235.54H131V231.77H129.38zM179.87 231.77H181.5V235.54H183.13V237.42H184.76V239.31H186.39V237.42H188.02V239.31H189.65V241.19H188.02V243.08H186.39V244.96H184.76V241.19H183.13V239.31H179.87zM174.99 233.65H176.62V237.42H174.99zM67.47 239.31H70.73V241.19H67.47zM184.76 244.96V246.85H183.13V244.96zM181.5 248.73H183.13V250.62H181.5zM181.5 250.62V254.39H179.87V256.27H174.99V254.39H178.25V252.5H179.87V250.62zM134.26 252.5H137.52V254.39H142.41V256.27H135.89V254.39H134.26zM170.1 254.39H171.73V256.27H170.1z"/>
<path fill="#00d048" d="M166.84 26.3H171.73V28.19H176.62V30.07H173.36V58.35H171.73V64H170.1V75.31H168.47V77.2H166.84V75.31H163.58V73.43H161.96V71.54H155.44V73.43H144.04V71.54H131V73.43H127.75V75.31H124.49V77.2H122.86V92.28H121.23V96.05H117.97V97.93H116.34V99.82H113.09V101.7H109.83V103.59H108.2V105.47H106.57V109.24H103.31V69.66H106.57V60.23H103.31V58.35H106.57V56.46H108.2V54.58H109.83V52.69H111.46V50.8H113.09V43.27H114.71V45.15H117.97V47.04H116.34V48.92H119.6V50.8H127.75V52.69H131V50.8H134.26V48.92H137.52V47.04H140.78V45.15H144.04V43.27H145.67V41.38H148.92V39.5H157.07V37.61H163.58V35.73H166.84V31.96H165.21V30.07H160.33V28.19H166.84zM155.44 52.69V54.58H152.18V56.46H150.55V62.12H152.18V64H165.21V62.12H168.47V54.58H166.84V52.69zM93.54 54.58H95.17V60.23H93.54zM95.17 60.23H96.8V62.12H95.17zM96.8 62.12H98.42V64H96.8zM98.42 64H101.68V65.89H103.31V69.66H101.68V67.77H100.05V65.89H98.42zM113.09 84.74V90.39H116.34V84.74zM174.99 116.78H179.87V118.67H181.5V120.55H178.25V122.44H171.73V124.32H170.1V126.21H166.84V128.09H165.21V129.98H163.58V133.75H161.96V137.52H163.58V143.17H165.21V145.06H166.84V146.94H168.47V150.71H170.1V152.6H171.73V154.48H170.1V158.25H168.47V160.14H166.84V163.91H165.21V162.02H163.58V158.25H165.21V152.6H163.58V148.83H161.96V146.94H163.58V145.06H161.96V141.29H160.33V131.86H161.96V128.09H163.58V126.21H165.21V124.32H166.84V122.44H168.47V120.55H170.1V118.67H174.99zM80.51 129.98H82.13V131.86H80.51zM98.42 129.98H100.05V148.83H101.68V156.37H100.05V163.91H103.31V171.45H83.76V169.56H78.88V171.45H72.36V177.1H73.99V178.99H75.62V177.1H78.88V173.33H83.76V177.1H82.13V186.53H83.76V190.3H82.13V195.95H80.51V197.84H78.88V195.95H75.62V192.18H73.99V190.3H72.36V184.64H70.73V178.99H69.1V169.56H75.62V167.68H78.88V165.79H82.13V163.91H85.39V162.02H90.28V167.68H95.17V162.02H91.91V160.14H95.17V156.37H93.54V145.06H95.17V133.75H96.8V131.86H98.42zM65.84 135.63H73.99V137.52H70.73V139.4H69.1V143.17H67.47V146.94H65.84V154.48H64.22V158.25H62.59V148.83H60.96V146.94H59.33V145.06H62.59V143.17H64.22V141.29H65.84V139.4H67.47V137.52H65.84zM47.92 137.52H51.18V139.4H47.92zM104.94 150.71H109.83V152.6H116.34V154.48H121.23V152.6H122.86V154.48H124.49V156.37H131V158.25H129.38V160.14H124.49V162.02H121.23V160.14H122.86V158.25H116.34V156.37H104.94zM64.22 160.14H65.84V167.68H64.22zM116.34 163.91H117.97V165.79H116.34zM161.96 163.91H163.58V165.79H165.21V167.68H166.84V169.56H168.47V171.45H170.1V173.33H171.73V175.22H173.36V177.1H174.99V178.99H176.62V182.76H174.99V184.64H171.73V182.76H173.36V178.99H171.73V177.1H170.1V175.22H166.84V173.33H165.21V171.45H161.96V175.22H163.58V182.76H161.96V177.1H160.33V165.79H161.96zM111.46 165.79H114.71V167.68H113.09V169.56H109.83V167.68H111.46zM41.41 171.45H44.67V173.33H41.41zM98.42 175.22H100.05V178.99H98.42zM98.42 178.99V180.87H96.8V178.99zM101.68 177.1H103.31V178.99H101.68zM163.58 182.76H165.21V184.64H166.84V186.53H168.47V188.41H166.84V190.3H165.21V192.18H163.58V195.95H161.96V207.26H160.33V212.92H157.07V211.03H155.44V199.72H157.07V192.18H158.7V190.3H163.58zM171.73 184.64V186.53H170.1V184.64zM155.44 220.46H161.96V222.34H163.58V224.23H165.21V229.88H163.58V231.77H152.18V224.23H153.81V222.34H155.44zM174.99 226.11H176.62V228H178.25V231.77H179.87V239.31H183.13V241.19H184.76V244.96H183.13V248.73H181.5V250.62H179.87V252.5H178.25V254.39H174.99V256.27H171.73V254.39H168.47V252.5H166.84V246.85H165.21V244.96H163.58V241.19H165.21V239.31H171.73V237.42H176.62V233.65H174.99zM134.26 237.42H135.89V239.31H139.15V237.42H140.78V241.19H139.15V243.08H132.63V239.31H134.26zM170.1 241.19V243.08H168.47V250.62H170.1V252.5H176.62V250.62H178.25V243.08H176.62V241.19zM163.58 244.96V246.85H161.96V248.73H158.7V246.85H160.33V244.96zM158.7 248.73V250.62H157.07V248.73zM137.52 250.62H144.04V252.5H148.92V256.27H142.41V254.39H137.52z"/>
<path fill="#32a010" d="M145.67 28.19H160.33V30.07H165.21V31.96H166.84V35.73H163.58V37.61H157.07V39.5H148.92V41.38H145.67V43.27H144.04V45.15H140.78V47.04H137.52V48.92H134.26V50.8H131V52.69H127.75V50.8H119.6V48.92H116.34V47.04H119.6V43.27H122.86V41.38H124.49V39.5H127.75V37.61H129.38V35.73H132.63V33.84H134.26V31.96H137.52V30.07H139.15V33.84H140.78V31.96H142.41V30.07H145.67zM155.44 52.69H166.84V54.58H168.47V62.12H165.21V64H152.18V62.12H150.55V56.46H152.18V54.58H155.44zM100.05 69.66H103.31V109.24H101.68V94.16H100.05zM113.09 84.74H116.34V90.39H113.09zM52.81 133.75H60.96V135.63H65.84V137.52H67.47V139.4H65.84V141.29H64.22V143.17H62.59V145.06H56.07V143.17H52.81V141.29H51.18V135.63H52.81zM100.05 156.37H116.34V158.25H122.86V160.14H121.23V162.02H119.6V163.91H116.34V165.79H111.46V167.68H109.83V162.02H106.57V163.91H100.05zM83.76 171.45H95.17V175.22H98.42V178.99H96.8V180.87H95.17V182.76H91.91V188.41H90.28V197.84H91.91V203.49H93.54V209.15H95.17V211.03H96.8V214.8H98.42V220.46H96.8V218.57H95.17V212.92H91.91V211.03H90.28V207.26H88.65V205.38H87.02V203.49H85.39V201.61H83.76V199.72H82.13V190.3H83.76V186.53H82.13V177.1H83.76zM161.96 171.45H165.21V173.33H166.84V175.22H170.1V177.1H171.73V178.99H173.36V182.76H171.73V184.64H170.1V186.53H166.84V184.64H165.21V182.76H163.58V175.22H161.96zM119.6 235.54H132.63V243.08H126.12V244.96H119.6V243.08H114.71V241.19H116.34V239.31H119.6z"/>
<path fill="#ffff00" d="M131 30.07H137.52V31.96H134.26V33.84H132.63V35.73H129.38V37.61H127.75V39.5H124.49V41.38H122.86V43.27H119.6V47.04H117.97V45.15H114.71V41.38H117.97V39.5H119.6V37.61H121.23V33.84H126.12V31.96H131zM139.15 30.07H142.41V31.96H140.78V33.84H139.15zM91.91 54.58H93.54V56.46H91.91zM98.42 65.89H100.05V67.77H98.42zM100.05 67.77H101.68V69.66H100.05zM44.67 129.98H62.59V131.86H60.96V133.75H52.81V135.63H51.18V137.52H46.3V133.75H44.67zM49.55 139.4H51.18V141.29H52.81V143.17H49.55zM52.81 143.17H56.07V145.06H57.7V146.94H54.44V145.06H52.81zM155.44 143.17H157.07V145.06H155.44zM57.7 146.94H59.33V148.83H57.7zM59.33 148.83H60.96V150.71H62.59V154.48H60.96V152.6H59.33zM124.49 160.14H127.75V162.02H126.12V163.91H124.49V165.79H121.23V167.68H119.6V169.56H114.71V171.45H113.09V173.33H111.46V175.22H109.83V173.33H103.31V177.1H101.68V178.99H100.05V171.45H103.31V163.91H106.57V162.02H109.83V169.56H113.09V167.68H114.71V165.79H117.97V163.91H119.6V162.02H124.49zM103.31 177.1H106.57V178.99H103.31zM158.7 175.22H160.33V177.1H158.7zM108.2 177.1H109.83V178.99H108.2zM95.17 180.87H98.42V182.76H96.8V195.95H95.17V201.61H93.54V203.49H91.91V197.84H90.28V188.41H91.91V182.76H95.17zM72.36 190.3H73.99V194.07H72.36zM73.99 194.07H75.62V195.95H78.88V199.72H75.62V197.84H73.99zM87.02 211.03H88.65V212.92H87.02zM87.02 212.92V218.57H85.39V212.92zM98.42 211.03H100.05V212.92H101.68V222.34H104.94V226.11H108.2V228H114.71V229.88H129.38V231.77H131V235.54H119.6V239.31H116.34V241.19H109.83V243.08H108.2V241.19H106.57V237.42H108.2V235.54H106.57V233.65H104.94V231.77H101.68V229.88H98.42V228H95.17V226.11H88.65V224.23H91.91V222.34H95.17V220.46H98.42zM155.44 211.03H157.07V212.92H155.44zM174.99 222.34H176.62V226.11H174.99zM83.76 226.11H87.02V229.88H85.39V228H83.76zM117.97 226.11H119.6V228H117.97zM170.1 241.19H176.62V243.08H178.25V250.62H176.62V252.5H174.99V248.73H176.62V244.96H174.99V243.08H170.1zM170.1 243.08V250.62H168.47V243.08zM170.1 250.62H171.73V252.5H170.1z"/>
<path fill="#ffa800" d="M116.34 35.73H121.23V37.61H119.6V39.5H117.97V41.38H114.71V39.5H116.34zM114.71 41.38V43.27H113.09V41.38zM91.91 50.8H93.54V54.58H91.91zM91.91 56.46H93.54V60.23H95.17V62.12H96.8V64H98.42V67.77H100.05V71.54H98.42V69.66H96.8V67.77H95.17V64H93.54V62.12H91.91zM41.41 107.36H44.67V109.24H47.92V118.67H49.55V124.32H51.18V128.09H52.81V129.98H43.04V118.67H39.78V116.78H38.15V109.24H41.41zM121.23 165.79H122.86V167.68H121.23zM157.07 167.68H160.33V171.45H157.07zM103.31 173.33H109.83V177.1H108.2V178.99H106.57V177.1H103.31zM104.94 224.23H113.09V226.11H117.97V228H119.6V226.11H129.38V229.88H114.71V228H108.2V226.11H104.94zM87.02 226.11H95.17V228H98.42V229.88H101.68V231.77H104.94V233.65H106.57V235.54H101.68V233.65H96.8V231.77H93.54V229.88H87.02zM106.57 235.54H108.2V237.42H106.57z"/>
<path fill="#ff5a00" d="M113.09 37.61H116.34V39.5H114.71V41.38H113.09zM90.28 47.04H91.91V48.92H93.54V50.8H91.91V62.12H93.54V64H95.17V67.77H96.8V69.66H98.42V71.54H100.05V75.31H96.8V73.43H95.17V71.54H93.54V67.77H91.91V65.89H90.28V64H88.65V58.35H87.02V48.92H90.28zM39.78 105.47H44.67V107.36H41.41V109.24H39.78zM44.67 107.36H47.92V105.47H49.55V107.36H51.18V109.24H52.81V111.13H54.44V113.01H56.07V114.9H57.7V116.78H59.33V118.67H60.96V120.55H64.22V122.44H65.84V129.98H52.81V128.09H51.18V124.32H49.55V118.67H47.92V109.24H44.67zM59.33 114.9H60.96V116.78H59.33zM60.96 116.78H62.59V118.67H60.96zM85.39 229.88H93.54V231.77H96.8V233.65H101.68V235.54H106.57V241.19H108.2V243.08H104.94V241.19H101.68V239.31H96.8V241.19H93.54V239.31H82.13V237.42H80.51V235.54H85.39zM170.1 243.08H171.73V244.96H170.1zM173.36 243.08H174.99V244.96H176.62V248.73H174.99V252.5H171.73V250.62H173.36zM170.1 248.73H171.73V250.62H170.1z"/>
<path fill="#ff0000" d="M90.28 33.84H95.17V35.73H96.8V37.61H98.42V45.15H96.8V47.04H95.17V48.92H91.91V47.04H90.28V48.92H87.02V58.35H88.65V64H90.28V65.89H91.91V67.77H93.54V69.66H90.28V67.77H88.65V65.89H87.02V64H85.39V62.12H83.76V58.35H82.13V54.58H80.51V52.69H78.88V48.92H80.51V45.15H82.13V43.27H83.76V41.38H85.39V39.5H87.02V37.61H88.65V35.73H90.28zM111.46 39.5H113.09V45.15H111.46V43.27H109.83V41.38H111.46zM111.46 48.92H113.09V50.8H111.46zM98.42 58.35H100.05V60.23H98.42zM101.68 58.35H103.31V60.23H101.68zM98.42 62.12H100.05V64H98.42zM101.68 64H103.31V65.89H101.68zM93.54 71.54H95.17V73.43H96.8V75.31H100.05V79.08H96.8V77.2H95.17V75.31H93.54zM43.04 103.59H52.81V105.47H54.44V107.36H56.07V111.13H57.7V113.01H59.33V116.78H57.7V114.9H56.07V113.01H54.44V111.13H52.81V109.24H51.18V107.36H49.55V105.47H47.92V107.36H44.67V105.47H43.04zM59.33 116.78H60.96V118.67H59.33zM60.96 118.67H62.59V120.55H60.96zM153.81 131.86H155.44V135.63H153.81zM43.04 173.33H46.3V175.22H49.55V178.99H47.92V177.1H44.67V175.22H43.04zM51.18 178.99H56.07V180.87H57.7V182.76H52.81V180.87H51.18zM157.07 212.92H160.33V216.69H157.07zM152.18 222.34H153.81V224.23H152.18zM80.51 226.11H83.76V228H85.39V235.54H78.88V231.77H80.51zM96.8 239.31H101.68V241.19H100.05V243.08H96.8zM171.73 243.08H173.36V250.62H171.73V248.73H170.1V244.96H171.73z"/>
</g>
<use href="#land"/>
</g>
<rect x="0" y="0" width="209.3" height="278.3" fill="none" stroke="#000" stroke-width="1.25"/>
<text class="t" x="103.4" y="-22.5">Run 4</text>
<text class="a" transform="translate(-2.3,11.85) scale(.875,1)" text-anchor="end">25<tspan class="s">°</tspan> N</text>
<text class="a" transform="translate(-2.3,49.55) scale(.875,1)" text-anchor="end">20<tspan class="s">°</tspan> N</text>
<text class="a" transform="translate(-2.3,87.25) scale(.875,1)" text-anchor="end">15<tspan class="s">°</tspan> N</text>
<text class="a" transform="translate(-2.3,124.95) scale(.875,1)" text-anchor="end">10<tspan class="s">°</tspan> N</text>
<text class="a" transform="translate(-2.3,162.65) scale(.875,1)" text-anchor="end">5<tspan class="s">°</tspan> N</text>
<text class="a" transform="translate(-7.5,200.35) scale(.875,1)" text-anchor="end">0<tspan class="s">°</tspan></text>
<text class="a" transform="translate(-2.3,238.05) scale(.875,1)" text-anchor="end">5<tspan class="s">°</tspan> S</text>
<text class="a" transform="translate(-2.3,275.75) scale(.875,1)" text-anchor="end">10<tspan class="s">°</tspan> S</text>
<text class="a" transform="translate(6.9,288.2) scale(.875,1)" text-anchor="middle">95<tspan class="s">°</tspan> E</text>
<text class="a" transform="translate(39.48,288.2) scale(.875,1)" text-anchor="middle">100<tspan class="s">°</tspan> E</text>
<text class="a" transform="translate(72.06,288.2) scale(.875,1)" text-anchor="middle">105<tspan class="s">°</tspan> E</text>
<text class="a" transform="translate(104.64,288.2) scale(.875,1)" text-anchor="middle">110<tspan class="s">°</tspan> E</text>
<text class="a" transform="translate(137.22,288.2) scale(.875,1)" text-anchor="middle">115<tspan class="s">°</tspan> E</text>
<text class="a" transform="translate(169.8,288.2) scale(.875,1)" text-anchor="middle">120<tspan class="s">°</tspan> E</text>
<text class="a" transform="translate(202.38,288.2) scale(.875,1)" text-anchor="middle">125<tspan class="s">°</tspan> E</text>
<text class="a" x="103.95" y="301.7" text-anchor="middle" style="font-size:8px">Longitude (degrees)</text>
<text class="a" transform="translate(-26.2,143.85) rotate(-90)" text-anchor="middle" style="font-size:8.1px">Latitude (degrees)</text>
</g>
<g transform="translate(321.5,396.8)">
<g clip-path="url(#cp)">
<use href="#grid"/>
<g shape-rendering="crispEdges">
<path fill="#00009f" d="M-0.94 -0.09H0.68V280.78H-0.94zM170.1 154.48H173.36V158.25H170.1zM202.68 162.02H207.57V177.1H205.94V175.22H202.68V171.45H201.05V169.56H199.42V163.91H202.68z"/>
<path fill="#0038c0" d="M160.33 14.99H161.96V16.88H165.21V22.53H166.84V24.42H161.96V18.76H160.33zM152.18 20.65H153.81V26.3H152.18V24.42H150.55V22.53H152.18zM132.63 73.43H135.89V75.31H137.52V77.2H132.63zM161.96 80.97H166.84V86.62H161.96zM134.26 92.28H140.78V94.16H142.41V96.05H140.78V97.93H142.41V99.82H140.78V101.7H139.15V105.47H135.89V107.36H134.26V109.24H127.75V111.13H121.23V109.24H119.6V103.59H121.23V101.7H124.49V99.82H127.75V97.93H131V96.05H132.63V94.16H134.26zM111.46 111.13H114.71V113.01H111.46zM96.8 114.9H98.42V116.78H100.05V118.67H98.42V122.44H96.8V126.21H95.17V128.09H93.54V131.86H91.91V133.75H90.28V135.63H88.65V137.52H87.02V139.4H85.39V141.29H80.51V143.17H78.88V141.29H75.62V139.4H73.99V137.52H75.62V135.63H80.51V131.86H82.13V129.98H85.39V126.21H88.65V124.32H93.54V118.67H95.17V116.78H96.8zM23.49 129.98H26.75V133.75H28.38V135.63H30.01V137.52H31.63V141.29H33.26V143.17H34.89V145.06H36.52V146.94H38.15V148.83H34.89V146.94H33.26V145.06H31.63V143.17H30.01V141.29H28.38V137.52H26.75V135.63H25.12V131.86H23.49zM188.02 148.83H189.65V150.71H199.42V152.6H207.57V162.02H202.68V163.91H199.42V169.56H201.05V171.45H202.68V175.22H205.94V177.1H207.57V178.99H202.68V177.1H201.05V175.22H199.42V173.33H197.79V171.45H196.16V169.56H192.91V167.68H191.28V165.79H189.65V163.91H188.02V162.02H186.39V160.14H184.76V154.48H186.39V150.71H188.02zM101.68 150.71H104.94V156.37H101.68zM30.01 158.25H31.63V160.14H30.01zM31.63 160.14H39.78V163.91H41.41V171.45H39.78V169.56H38.15V163.91H31.63zM147.29 228H148.92V231.77H145.67V229.88H147.29zM67.47 241.19H72.36V246.85H67.47zM191.28 243.08H196.16V256.27H189.65V244.96H191.28z"/>
<path fill="#0094e0" d="M160.33 13.11H161.96V14.99H160.33zM160.33 14.99V18.76H157.07V14.99zM165.21 14.99H166.84V22.53H165.21zM166.84 22.53H170.1V24.42H168.47V26.3H161.96V24.42H166.84zM148.92 22.53H150.55V24.42H152.18V26.3H144.04V24.42H148.92zM170.1 39.5H173.36V47.04H170.1zM132.63 52.69H134.26V54.58H140.78V56.46H144.04V64H145.67V65.89H147.29V67.77H148.92V69.66H150.55V71.54H157.07V73.43H161.96V71.54H168.47V69.66H166.84V67.77H170.1V75.31H168.47V80.97H170.1V82.85H171.73V86.62H173.36V90.39H174.99V92.28H173.36V94.16H171.73V96.05H173.36V99.82H174.99V101.7H168.47V103.59H166.84V107.36H165.21V109.24H163.58V113.01H161.96V114.9H160.33V116.78H158.7V118.67H157.07V120.55H155.44V122.44H153.81V124.32H152.18V126.21H148.92V128.09H147.29V135.63H144.04V137.52H142.41V135.63H119.6V133.75H114.71V135.63H111.46V137.52H109.83V139.4H113.09V141.29H111.46V145.06H109.83V146.94H111.46V148.83H113.09V150.71H117.97V152.6H116.34V154.48H109.83V152.6H108.2V150.71H106.57V148.83H104.94V131.86H103.31V128.09H101.68V113.01H103.31V105.47H104.94V92.28H106.57V82.85H108.2V77.2H109.83V73.43H111.46V71.54H113.09V69.66H116.34V67.77H117.97V65.89H121.23V64H122.86V62.12H126.12V60.23H127.75V58.35H129.38V56.46H132.63zM95.17 58.35H100.05V60.23H101.68V62.12H95.17zM132.63 73.43V77.2H137.52V75.31H135.89V73.43zM161.96 80.97V86.62H166.84V80.97zM100.05 84.74H101.68V94.16H100.05zM134.26 92.28V94.16H132.63V96.05H131V97.93H127.75V99.82H124.49V101.7H121.23V103.59H119.6V109.24H121.23V111.13H127.75V109.24H134.26V107.36H135.89V105.47H139.15V101.7H140.78V99.82H142.41V97.93H140.78V96.05H142.41V94.16H140.78V92.28zM111.46 111.13V113.01H114.71V111.13zM176.62 114.9H181.5V116.78H176.62zM183.13 116.78H186.39V118.67H183.13zM186.39 126.21H188.02V128.09H189.65V129.98H188.02V131.86H184.76V133.75H183.13V135.63H181.5V139.4H179.87V145.06H181.5V146.94H183.13V145.06H186.39V146.94H188.02V150.71H186.39V154.48H184.76V160.14H186.39V162.02H188.02V163.91H189.65V165.79H191.28V167.68H192.91V169.56H196.16V171.45H197.79V173.33H199.42V175.22H201.05V177.1H202.68V178.99H207.57V180.87H201.05V178.99H197.79V177.1H192.91V175.22H189.65V173.33H186.39V171.45H171.73V169.56H173.36V165.79H170.1V163.91H171.73V162.02H160.33V160.14H163.58V158.25H165.21V156.37H170.1V158.25H173.36V137.52H174.99V133.75H176.62V131.86H179.87V129.98H184.76V128.09H186.39zM98.42 129.98H100.05V143.17H98.42V145.06H95.17V152.6H91.91V154.48H87.02V156.37H83.76V154.48H78.88V150.71H77.25V148.83H75.62V145.06H72.36V143.17H69.1V141.29H65.84V139.4H64.22V137.52H73.99V139.4H75.62V141.29H78.88V143.17H80.51V141.29H88.65V139.4H90.28V137.52H91.91V135.63H95.17V133.75H96.8V131.86H98.42zM21.86 131.86H25.12V135.63H26.75V137.52H28.38V141.29H26.75V139.4H25.12V137.52H21.86V139.4H20.23V133.75H21.86zM28.38 141.29H30.01V143.17H31.63V145.06H33.26V146.94H34.89V148.83H38.15V152.6H39.78V158.25H41.41V160.14H31.63V158.25H28.38V156.37H25.12V154.48H23.49V152.6H21.86V150.71H23.49V148.83H25.12V146.94H26.75V143.17H28.38zM28.38 148.83V154.48H30.01V156.37H34.89V150.71H33.26V148.83zM204.31 150.71H205.94V152.6H204.31zM142.41 233.65H144.04V239.31H148.92V237.42H155.44V239.31H160.33V241.19H158.7V243.08H157.07V244.96H144.04V243.08H142.41V244.96H137.52V246.85H129.38V244.96H124.49V243.08H127.75V241.19H131V239.31H134.26V237.42H135.89V239.31H139.15V237.42H140.78V235.54H142.41zM192.91 235.54H196.16V243.08H191.28V244.96H189.65V256.27H179.87V254.39H181.5V250.62H183.13V246.85H184.76V244.96H186.39V243.08H188.02V241.19H189.65V239.31H191.28V237.42H192.91zM165.21 254.39H170.1V256.27H165.21z"/>
<path fill="#00ffff" d="M161.96 11.22H171.73V14.99H170.1V22.53H166.84V14.99H165.21V13.11H161.96zM155.44 16.88H157.07V18.76H155.44zM152.18 18.76H153.81V20.65H152.18zM152.18 20.65V22.53H150.55V20.65zM145.67 22.53H148.92V24.42H145.67zM140.78 24.42H144.04V26.3H168.47V24.42H171.73V28.19H176.62V54.58H173.36V58.35H171.73V64H170.1V67.77H166.84V69.66H168.47V71.54H161.96V73.43H157.07V71.54H150.55V69.66H148.92V67.77H147.29V65.89H145.67V64H144.04V56.46H140.78V54.58H134.26V52.69H132.63V56.46H129.38V58.35H127.75V60.23H126.12V62.12H122.86V64H121.23V65.89H117.97V67.77H116.34V69.66H113.09V71.54H111.46V73.43H109.83V77.2H108.2V82.85H106.57V92.28H104.94V105.47H103.31V113.01H101.68V128.09H103.31V131.86H104.94V146.94H101.68V145.06H100.05V129.98H98.42V131.86H96.8V133.75H95.17V135.63H91.91V137.52H90.28V139.4H88.65V141.29H85.39V139.4H87.02V137.52H88.65V135.63H90.28V133.75H91.91V131.86H93.54V128.09H95.17V126.21H96.8V122.44H98.42V118.67H100.05V116.78H98.42V114.9H100.05V109.24H101.68V94.16H103.31V77.2H101.68V75.31H103.31V71.54H101.68V65.89H103.31V58.35H106.57V56.46H108.2V54.58H111.46V52.69H116.34V50.8H119.6V48.92H122.86V47.04H127.75V45.15H131V43.27H135.89V41.38H140.78V39.5H147.29V37.61H150.55V35.73H155.44V31.96H157.07V30.07H153.81V28.19H142.41V30.07H132.63V28.19H135.89V26.3H140.78zM132.63 30.07V31.96H131V30.07zM126.12 31.96H127.75V33.84H126.12zM121.23 33.84H122.86V35.73H121.23zM170.1 39.5V47.04H173.36V39.5zM96.8 79.08H98.42V80.97H96.8zM98.42 80.97H100.05V84.74H98.42zM168.47 101.7H170.1V103.59H168.47zM168.47 103.59V109.24H165.21V107.36H166.84V103.59zM171.73 101.7H173.36V103.59H171.73zM165.21 109.24V111.13H163.58V109.24zM56.07 111.13H57.7V113.01H56.07zM57.7 113.01H59.33V114.9H57.7zM59.33 114.9H60.96V116.78H59.33zM161.96 113.01H163.58V114.9H161.96zM161.96 114.9V116.78H163.58V118.67H161.96V120.55H160.33V122.44H158.7V124.32H155.44V126.21H153.81V128.09H152.18V129.98H150.55V131.86H155.44V129.98H157.07V128.09H158.7V126.21H160.33V124.32H161.96V128.09H160.33V137.52H161.96V139.4H160.33V141.29H161.96V145.06H163.58V146.94H165.21V148.83H166.84V150.71H171.73V146.94H173.36V154.48H170.1V156.37H165.21V152.6H163.58V150.71H160.33V148.83H158.7V146.94H155.44V145.06H158.7V139.4H157.07V137.52H155.44V141.29H153.81V139.4H152.18V137.52H150.55V141.29H145.67V143.17H144.04V145.06H142.41V146.94H140.78V148.83H139.15V150.71H137.52V152.6H135.89V154.48H134.26V156.37H127.75V154.48H121.23V152.6H117.97V150.71H113.09V148.83H111.46V146.94H109.83V145.06H111.46V141.29H113.09V139.4H109.83V137.52H111.46V135.63H114.71V133.75H119.6V135.63H142.41V137.52H144.04V135.63H147.29V128.09H148.92V126.21H152.18V124.32H153.81V122.44H155.44V120.55H157.07V118.67H158.7V116.78H160.33V114.9zM60.96 116.78H62.59V118.67H60.96zM166.84 114.9H170.1V116.78H173.36V118.67H168.47V116.78H166.84zM168.47 118.67V120.55H166.84V122.44H165.21V124.32H161.96V122.44H163.58V120.55H165.21V118.67zM87.02 124.32H88.65V126.21H87.02zM49.55 129.98H51.18V131.86H57.7V133.75H49.55zM80.51 129.98H82.13V131.86H80.51zM49.55 133.75V135.63H47.92V133.75zM59.33 131.86H60.96V133.75H59.33zM47.92 135.63V137.52H49.55V141.29H47.92V139.4H46.3V135.63zM18.6 135.63H20.23V139.4H21.86V137.52H25.12V139.4H26.75V141.29H28.38V143.17H26.75V146.94H25.12V148.83H23.49V150.71H13.72V152.6H12.09V150.71H8.83V146.94H10.46V145.06H12.09V143.17H13.72V141.29H15.34V139.4H16.97V137.52H18.6zM54.44 135.63H75.62V137.52H64.22V139.4H65.84V141.29H69.1V143.17H72.36V145.06H75.62V148.83H77.25V150.71H78.88V154.48H83.76V156.37H87.02V154.48H91.91V152.6H95.17V156.37H93.54V158.25H90.28V160.14H87.02V162.02H82.13V163.91H78.88V165.79H75.62V167.68H72.36V169.56H67.47V162.02H65.84V150.71H64.22V146.94H62.59V145.06H56.07V143.17H52.81V141.29H51.18V139.4H52.81V137.52H54.44zM49.55 141.29H51.18V143.17H49.55zM56.07 145.06V146.94H54.44V145.06zM28.38 148.83H33.26V150.71H34.89V156.37H30.01V154.48H28.38zM59.33 150.71H60.96V152.6H59.33zM96.8 158.25H100.05V171.45H98.42V169.56H96.8zM39.78 160.14H41.41V163.91H39.78zM41.41 163.91H43.04V165.79H44.67V169.56H46.3V171.45H47.92V173.33H49.55V175.22H46.3V173.33H41.41zM160.33 162.02H171.73V163.91H170.1V165.79H173.36V169.56H171.73V171.45H186.39V173.33H189.65V175.22H192.91V177.1H197.79V178.99H201.05V182.76H199.42V184.64H197.79V186.53H181.5V184.64H176.62V182.76H179.87V180.87H178.25V175.22H171.73V173.33H166.84V171.45H163.58V169.56H160.33V167.68H157.07V171.45H155.44V165.79H157.07V163.91H160.33zM34.89 163.91H38.15V167.68H36.52V165.79H34.89zM77.25 167.68H78.88V169.56H77.25zM100.05 171.45H101.68V177.1H103.31V178.99H98.42V175.22H100.05zM67.47 171.45H69.1V177.1H67.47zM72.36 171.45H78.88V177.1H73.99V175.22H72.36zM49.55 175.22H51.18V177.1H52.81V178.99H49.55zM98.42 178.99V182.76H96.8V178.99zM160.33 180.87H161.96V182.76H160.33zM161.96 182.76H163.58V184.64H161.96zM202.68 180.87H207.57V182.76H202.68zM70.73 184.64H72.36V186.53H70.73zM166.84 188.41H168.47V190.3H166.84zM166.84 190.3V199.72H165.21V201.61H163.58V211.03H161.96V212.92H157.07V209.15H155.44V199.72H158.7V197.84H160.33V195.95H163.58V194.07H165.21V190.3zM72.36 190.3H73.99V192.18H75.62V195.95H73.99V194.07H72.36zM75.62 195.95H78.88V197.84H80.51V199.72H75.62zM80.51 199.72H83.76V201.61H85.39V203.49H82.13V201.61H80.51zM85.39 203.49H87.02V205.38H85.39zM88.65 207.26H90.28V209.15H88.65zM88.65 211.03H91.91V212.92H88.65zM157.07 212.92V216.69H160.33V220.46H155.44V222.34H152.18V218.57H153.81V212.92zM85.39 218.57H87.02V220.46H85.39zM87.02 220.46H93.54V222.34H91.91V224.23H88.65V226.11H80.51V224.23H83.76V222.34H87.02zM96.8 218.57H100.05V222.34H101.68V224.23H96.8zM103.31 220.46H108.2V222.34H113.09V224.23H106.57V222.34H103.31zM117.97 224.23H122.86V226.11H117.97zM150.55 224.23H152.18V229.88H153.81V231.77H163.58V229.88H165.21V233.65H166.84V235.54H165.21V237.42H166.84V239.31H163.58V241.19H165.21V246.85H166.84V252.5H168.47V254.39H165.21V256.27H160.33V254.39H161.96V250.62H163.58V246.85H160.33V248.73H158.7V250.62H157.07V254.39H158.7V256.27H135.89V254.39H145.67V252.5H144.04V244.96H157.07V243.08H158.7V241.19H160.33V239.31H155.44V237.42H148.92V226.11H150.55zM176.62 226.11H178.25V228H176.62zM178.25 228H179.87V231.77H178.25zM129.38 228H131V229.88H132.63V233.65H134.26V239.31H131V241.19H127.75V243.08H124.49V244.96H119.6V243.08H114.71V241.19H109.83V235.54H108.2V231.77H126.12V229.88H129.38zM179.87 231.77H181.5V235.54H183.13V237.42H184.76V239.31H186.39V237.42H188.02V239.31H189.65V241.19H188.02V243.08H186.39V244.96H184.76V241.19H183.13V239.31H179.87zM142.41 231.77H144.04V233.65H142.41zM174.99 233.65H176.62V237.42H174.99zM67.47 239.31H70.73V241.19H67.47zM142.41 243.08H144.04V244.96H142.41zM184.76 244.96V246.85H183.13V244.96zM135.89 246.85H137.52V248.73H135.89zM181.5 248.73H183.13V250.62H181.5zM181.5 250.62V254.39H179.87V256.27H176.62V254.39H178.25V252.5H179.87V250.62zM134.26 252.5H135.89V254.39H134.26z"/>
<path fill="#00d048" d="M142.41 28.19H153.81V30.07H157.07V31.96H155.44V35.73H150.55V37.61H147.29V39.5H140.78V41.38H135.89V43.27H131V45.15H127.75V47.04H122.86V48.92H119.6V50.8H116.34V52.69H111.46V50.8H113.09V37.61H117.97V35.73H122.86V33.84H127.75V31.96H132.63V30.07H139.15V31.96H134.26V35.73H140.78V33.84H144.04V30.07H142.41zM90.28 50.8H91.91V52.69H90.28zM90.28 52.69V58.35H91.91V62.12H90.28V60.23H88.65V58.35H87.02V54.58H88.65V52.69zM111.46 52.69V54.58H109.83V52.69zM91.91 62.12H93.54V64H91.91zM95.17 64H98.42V67.77H100.05V69.66H101.68V71.54H103.31V75.31H101.68V73.43H100.05V71.54H98.42V69.66H96.8V67.77H95.17zM101.68 77.2H103.31V94.16H101.68zM39.78 113.01H43.04V118.67H39.78V116.78H38.15V114.9H39.78zM173.36 116.78H178.25V118.67H174.99V122.44H176.62V124.32H184.76V118.67H186.39V128.09H184.76V129.98H179.87V131.86H176.62V133.75H174.99V137.52H173.36V146.94H171.73V150.71H166.84V148.83H165.21V146.94H163.58V145.06H161.96V141.29H160.33V139.4H161.96V137.52H160.33V128.09H161.96V126.21H163.58V124.32H165.21V122.44H166.84V120.55H168.47V118.67H173.36zM181.5 116.78H183.13V118.67H181.5zM43.04 120.55H44.67V122.44H46.3V124.32H47.92V128.09H49.55V133.75H47.92V135.63H46.3V133.75H44.67V129.98H43.04zM49.55 133.75H57.7V131.86H59.33V133.75H60.96V135.63H54.44V137.52H52.81V139.4H51.18V141.29H49.55V137.52H47.92V135.63H49.55zM155.44 137.52H157.07V139.4H158.7V145.06H155.44zM51.18 141.29H52.81V143.17H51.18zM52.81 143.17H56.07V145.06H52.81zM56.07 145.06H62.59V146.94H64.22V150.71H65.84V162.02H67.47V175.22H65.84V167.68H64.22V158.25H62.59V154.48H60.96V150.71H59.33V148.83H57.7V146.94H56.07zM98.42 143.17H100.05V145.06H101.68V146.94H104.94V148.83H106.57V150.71H108.2V152.6H109.83V154.48H127.75V156.37H131V158.25H111.46V160.14H104.94V158.25H96.8V169.56H78.88V167.68H77.25V169.56H72.36V167.68H75.62V165.79H78.88V163.91H82.13V162.02H87.02V160.14H90.28V158.25H93.54V156.37H95.17V145.06H98.42zM101.68 150.71V156.37H104.94V150.71zM90.28 162.02V167.68H95.17V162.02zM104.94 165.79H109.83V169.56H103.31V171.45H100.05V167.68H104.94zM160.33 169.56H163.58V171.45H166.84V173.33H171.73V175.22H178.25V180.87H179.87V182.76H176.62V184.64H173.36V186.53H170.1V188.41H166.84V190.3H165.21V194.07H163.58V195.95H160.33V197.84H158.7V199.72H157.07V192.18H158.7V190.3H163.58V182.76H161.96V180.87H160.33V175.22H161.96V178.99H163.58V180.87H165.21V182.76H166.84V184.64H170.1V182.76H171.73V178.99H170.1V177.1H168.47V175.22H163.58V173.33H160.33zM90.28 171.45H93.54V173.33H95.17V175.22H93.54V177.1H91.91V178.99H88.65V180.87H85.39V184.64H83.76V188.41H82.13V192.18H80.51V194.07H77.25V192.18H75.62V190.3H73.99V186.53H72.36V178.99H70.73V175.22H72.36V177.1H75.62V178.99H78.88V177.1H83.76V175.22H87.02V173.33H90.28zM160.33 173.33V175.22H158.7V173.33zM67.47 177.1H69.1V178.99H67.47zM91.91 205.38H93.54V209.15H95.17V211.03H91.91V209.15H90.28V207.26H91.91zM95.17 211.03H100.05V212.92H101.68V220.46H103.31V222.34H106.57V224.23H117.97V226.11H129.38V229.88H126.12V231.77H108.2V235.54H109.83V243.08H104.94V239.31H106.57V237.42H104.94V233.65H101.68V231.77H98.42V229.88H95.17V228H87.02V229.88H85.39V228H82.13V226.11H88.65V224.23H91.91V222.34H93.54V220.46H95.17zM87.02 211.03H88.65V212.92H87.02zM87.02 212.92V218.57H85.39V212.92zM96.8 218.57V224.23H101.68V222.34H100.05V218.57zM155.44 220.46H161.96V222.34H163.58V224.23H165.21V229.88H163.58V231.77H153.81V229.88H152.18V224.23H153.81V222.34H155.44zM174.99 226.11H176.62V228H178.25V231.77H179.87V239.31H183.13V241.19H184.76V244.96H183.13V248.73H181.5V250.62H179.87V252.5H178.25V254.39H176.62V250.62H178.25V243.08H176.62V241.19H174.99V239.31H171.73V237.42H176.62V233.65H174.99zM78.88 233.65H82.13V235.54H88.65V237.42H91.91V239.31H82.13V237.42H80.51V235.54H78.88zM93.54 239.31H95.17V241.19H93.54zM163.58 239.31H170.1V241.19H168.47V252.5H166.84V246.85H165.21V241.19H163.58zM160.33 246.85H163.58V250.62H161.96V254.39H157.07V250.62H158.7V248.73H160.33zM137.52 250.62H144.04V252.5H145.67V254.39H135.89V252.5H137.52zM168.47 252.5H170.1V254.39H168.47zM170.1 254.39H176.62V256.27H170.1z"/>
<path fill="#32a010" d="M161.96 13.11H165.21V16.88H161.96zM139.15 30.07H144.04V33.84H140.78V35.73H134.26V31.96H139.15zM91.91 50.8H93.54V54.58H95.17V62.12H96.8V64H93.54V62.12H91.91V58.35H90.28V52.69H91.91zM46.3 107.36H52.81V109.24H54.44V111.13H56.07V113.01H57.7V114.9H59.33V116.78H60.96V118.67H62.59V120.55H64.22V122.44H65.84V129.98H62.59V131.86H51.18V129.98H49.55V128.09H47.92V124.32H46.3V122.44H44.67V120.55H43.04V111.13H44.67V109.24H46.3zM178.25 116.78H181.5V118.67H184.76V124.32H176.62V122.44H174.99V118.67H178.25zM100.05 158.25H104.94V160.14H109.83V165.79H104.94V167.68H100.05zM67.47 169.56H78.88V171.45H72.36V175.22H70.73V178.99H69.1V171.45H67.47zM83.76 169.56H98.42V171.45H95.17V173.33H93.54V171.45H90.28V173.33H87.02V175.22H83.76V177.1H78.88V173.33H83.76zM72.36 175.22H73.99V177.1H72.36zM160.33 173.33H163.58V175.22H168.47V177.1H170.1V178.99H171.73V182.76H170.1V184.64H166.84V182.76H165.21V180.87H163.58V178.99H161.96V175.22H160.33zM78.88 177.1V178.99H75.62V177.1zM93.54 175.22H98.42V178.99H96.8V182.76H93.54V184.64H91.91V194.07H93.54V197.84H95.17V201.61H93.54V205.38H91.91V207.26H88.65V205.38H87.02V203.49H85.39V201.61H83.76V199.72H80.51V197.84H78.88V195.95H75.62V192.18H77.25V194.07H80.51V192.18H82.13V188.41H83.76V184.64H85.39V180.87H88.65V178.99H91.91V177.1H93.54zM70.73 178.99H72.36V184.64H70.73zM72.36 186.53H73.99V190.3H72.36zM73.99 190.3H75.62V192.18H73.99zM90.28 209.15H91.91V211.03H90.28zM91.91 211.03H95.17V212.92H91.91zM87.02 228H95.17V229.88H98.42V231.77H101.68V233.65H104.94V237.42H106.57V239.31H104.94V241.19H101.68V239.31H96.8V241.19H95.17V239.31H91.91V237.42H88.65V231.77H87.02z"/>
<path fill="#ffff00" d="M116.34 35.73H117.97V37.61H116.34zM91.91 45.15H96.8V47.04H95.17V48.92H93.54V50.8H90.28V52.69H88.65V54.58H87.02V56.46H85.39V50.8H87.02V48.92H88.65V47.04H91.91zM88.65 60.23H90.28V62.12H91.91V64H95.17V67.77H93.54V69.66H91.91V67.77H90.28V65.89H88.65zM96.8 69.66H98.42V71.54H100.05V79.08H98.42V77.2H96.8V75.31H95.17V73.43H96.8zM43.04 103.59H52.81V105.47H54.44V107.36H56.07V111.13H54.44V109.24H52.81V107.36H46.3V109.24H44.67V111.13H43.04V113.01H39.78V114.9H38.15V109.24H39.78V105.47H43.04zM111.46 158.25H129.38V160.14H127.75V162.02H116.34V163.91H113.09V165.79H111.46V169.56H109.83V160.14H111.46zM103.31 169.56H106.57V171.45H103.31zM158.7 175.22H160.33V177.1H158.7zM93.54 182.76H96.8V195.95H95.17V197.84H93.54V194.07H91.91V184.64H93.54zM155.44 209.15H157.07V212.92H153.81V211.03H155.44zM174.99 222.34H176.62V226.11H174.99zM83.76 228H85.39V229.88H87.02V231.77H88.65V235.54H82.13V233.65H83.76zM96.8 239.31H101.68V241.19H100.05V243.08H96.8zM170.1 239.31H174.99V241.19H171.73V243.08H168.47V241.19H170.1zM174.99 241.19H176.62V243.08H174.99zM176.62 243.08H178.25V250.62H176.62zM168.47 248.73H170.1V252.5H168.47zM176.62 250.62V254.39H170.1V252.5H174.99V250.62z"/>
<path fill="#ffa800" d="M90.28 33.84H95.17V35.73H96.8V37.61H98.42V45.15H91.91V47.04H88.65V48.92H87.02V50.8H83.76V48.92H82.13V47.04H80.51V45.15H82.13V43.27H83.76V41.38H85.39V39.5H87.02V37.61H88.65V35.73H90.28zM111.46 39.5H113.09V45.15H111.46V43.27H109.83V41.38H111.46zM111.46 48.92H113.09V50.8H111.46zM83.76 52.69H85.39V56.46H87.02V58.35H88.65V65.89H87.02V64H85.39V60.23H83.76zM101.68 58.35H103.31V65.89H101.68V69.66H100.05V67.77H98.42V64H96.8V62.12H101.68zM88.65 65.89H90.28V67.77H88.65zM90.28 67.77H91.91V69.66H90.28zM100.05 73.43H101.68V84.74H100.05V80.97H98.42V79.08H100.05zM116.34 162.02H126.12V163.91H124.49V165.79H117.97V167.68H114.71V171.45H113.09V173.33H111.46V175.22H103.31V177.1H101.68V171.45H106.57V169.56H111.46V165.79H113.09V163.91H116.34zM157.07 167.68H160.33V173.33H157.07zM103.31 177.1H104.94V178.99H103.31zM73.99 195.95H75.62V197.84H73.99z"/>
<path fill="#ff5a00" d="M117.97 165.79H122.86V167.68H119.6V169.56H114.71V167.68H117.97zM103.31 175.22H109.83V178.99H104.94V177.1H103.31zM152.18 222.34H153.81V224.23H152.18zM82.13 228H83.76V233.65H82.13zM171.73 241.19H174.99V243.08H171.73zM174.99 243.08H176.62V246.85H174.99zM168.47 243.08H170.1V248.73H168.47zM174.99 248.73H176.62V250.62H174.99zM174.99 250.62V252.5H170.1V250.62z"/>
<path fill="#ff0000" d="M80.51 47.04H82.13V48.92H83.76V50.8H85.39V52.69H83.76V58.35H82.13V54.58H80.51V52.69H78.88V48.92H80.51zM83.76 60.23H85.39V62.12H83.76zM93.54 67.77H96.8V73.43H95.17V75.31H93.54zM95.17 75.31H96.8V77.2H95.17zM96.8 77.2H98.42V79.08H96.8zM43.04 173.33H46.3V175.22H49.55V178.99H47.92V177.1H44.67V175.22H43.04zM51.18 178.99H56.07V180.87H57.7V182.76H52.81V180.87H51.18zM157.07 212.92H160.33V216.69H157.07zM80.51 226.11H82.13V233.65H78.88V231.77H80.51zM170.1 243.08H174.99V246.85H176.62V248.73H174.99V250.62H170.1z"/>
</g>
<use href="#land"/>
</g>
<rect x="0" y="0" width="209.3" height="278.3" fill="none" stroke="#000" stroke-width="1.25"/>
<text class="t" x="103.8" y="-22.2">Run 5</text>
<text class="a" transform="translate(-2.3,11.85) scale(.875,1)" text-anchor="end">25<tspan class="s">°</tspan> N</text>
<text class="a" transform="translate(-2.3,49.55) scale(.875,1)" text-anchor="end">20<tspan class="s">°</tspan> N</text>
<text class="a" transform="translate(-2.3,87.25) scale(.875,1)" text-anchor="end">15<tspan class="s">°</tspan> N</text>
<text class="a" transform="translate(-2.3,124.95) scale(.875,1)" text-anchor="end">10<tspan class="s">°</tspan> N</text>
<text class="a" transform="translate(-2.3,162.65) scale(.875,1)" text-anchor="end">5<tspan class="s">°</tspan> N</text>
<text class="a" transform="translate(-7.5,200.35) scale(.875,1)" text-anchor="end">0<tspan class="s">°</tspan></text>
<text class="a" transform="translate(-2.3,238.05) scale(.875,1)" text-anchor="end">5<tspan class="s">°</tspan> S</text>
<text class="a" transform="translate(-2.3,275.75) scale(.875,1)" text-anchor="end">10<tspan class="s">°</tspan> S</text>
<text class="a" transform="translate(6.9,288.2) scale(.875,1)" text-anchor="middle">95<tspan class="s">°</tspan> E</text>
<text class="a" transform="translate(39.48,288.2) scale(.875,1)" text-anchor="middle">100<tspan class="s">°</tspan> E</text>
<text class="a" transform="translate(72.06,288.2) scale(.875,1)" text-anchor="middle">105<tspan class="s">°</tspan> E</text>
<text class="a" transform="translate(104.64,288.2) scale(.875,1)" text-anchor="middle">110<tspan class="s">°</tspan> E</text>
<text class="a" transform="translate(137.22,288.2) scale(.875,1)" text-anchor="middle">115<tspan class="s">°</tspan> E</text>
<text class="a" transform="translate(169.8,288.2) scale(.875,1)" text-anchor="middle">120<tspan class="s">°</tspan> E</text>
<text class="a" transform="translate(202.38,288.2) scale(.875,1)" text-anchor="middle">125<tspan class="s">°</tspan> E</text>
<text class="a" x="103.95" y="301.7" text-anchor="middle" style="font-size:8px">Longitude (degrees)</text>
<text class="a" transform="translate(-26.2,143.85) rotate(-90)" text-anchor="middle" style="font-size:8.1px">Latitude (degrees)</text>
</g>
<g transform="translate(608.5,396.8)">
<g clip-path="url(#cp)">
<use href="#grid"/>
<g shape-rendering="crispEdges">
<path fill="#00009f" d="M-0.94 -0.09H0.68V280.78H-0.94zM161.96 22.53H165.21V26.3H161.96zM73.99 135.63H82.13V139.4H78.88V141.29H75.62V139.4H73.99zM170.1 154.48H171.73V158.25H170.1z"/>
<path fill="#0038c0" d="M157.07 16.88H160.33V18.76H157.07zM152.18 20.65H153.81V24.42H152.18zM161.96 20.65H163.58V22.53H161.96zM93.54 120.55H95.17V122.44H93.54zM87.02 124.32H93.54V126.21H91.91V129.98H90.28V131.86H88.65V133.75H87.02V137.52H85.39V139.4H82.13V135.63H80.51V131.86H82.13V129.98H85.39V126.21H87.02zM23.49 129.98H26.75V133.75H28.38V135.63H30.01V137.52H31.63V141.29H30.01V139.4H26.75V135.63H25.12V133.75H23.49zM65.84 135.63H73.99V139.4H75.62V141.29H78.88V139.4H82.13V141.29H80.51V143.17H73.99V141.29H69.1V139.4H65.84zM31.63 141.29H33.26V143.17H31.63zM184.76 146.94H188.02V148.83H189.65V150.71H199.42V152.6H207.57V180.87H204.31V182.76H202.68V180.87H201.05V182.76H171.73V180.87H168.47V178.99H166.84V175.22H165.21V173.33H163.58V171.45H161.96V165.79H160.33V163.91H161.96V162.02H165.21V160.14H171.73V158.25H176.62V156.37H179.87V154.48H181.5V152.6H183.13V150.71H184.76zM75.62 169.56H78.88V171.45H75.62zM90.28 203.49H93.54V209.15H95.17V211.03H100.05V214.8H101.68V220.46H103.31V222.34H104.94V224.23H113.09V226.11H127.75V228H129.38V229.88H131V231.77H132.63V235.54H134.26V239.31H139.15V237.42H142.41V239.31H144.04V241.19H142.41V243.08H140.78V244.96H137.52V246.85H132.63V244.96H121.23V243.08H114.71V241.19H109.83V239.31H106.57V237.42H104.94V235.54H103.31V231.77H101.68V229.88H100.05V228H98.42V224.23H96.8V222.34H95.17V212.92H91.91V211.03H90.28zM67.47 241.19H72.36V246.85H67.47zM191.28 243.08H196.16V256.27H189.65V244.96H191.28z"/>
<path fill="#0094e0" d="M160.33 13.11H161.96V14.99H163.58V16.88H165.21V20.65H170.1V24.42H171.73V28.19H174.99V30.07H165.21V31.96H168.47V33.84H171.73V35.73H174.99V37.61H176.62V54.58H174.99V50.8H173.36V45.15H171.73V41.38H170.1V39.5H168.47V37.61H166.84V35.73H163.58V33.84H161.96V31.96H160.33V30.07H158.7V28.19H153.81V26.3H165.21V22.53H163.58V20.65H161.96V18.76H160.33V16.88H157.07V14.99H160.33zM148.92 22.53H152.18V24.42H153.81V26.3H152.18V28.19H137.52V26.3H142.41V24.42H148.92zM127.75 52.69H131V54.58H135.89V56.46H137.52V58.35H139.15V67.77H140.78V69.66H152.18V71.54H153.81V75.31H155.44V80.97H157.07V84.74H160.33V82.85H161.96V80.97H163.58V79.08H166.84V77.2H168.47V80.97H170.1V82.85H171.73V90.39H166.84V88.51H160.33V90.39H158.7V92.28H157.07V94.16H155.44V96.05H153.81V97.93H152.18V99.82H142.41V101.7H144.04V103.59H145.67V105.47H147.29V111.13H145.67V113.01H144.04V114.9H142.41V118.67H140.78V116.78H139.15V114.9H137.52V113.01H135.89V111.13H134.26V109.24H131V101.7H129.38V103.59H127.75V105.47H121.23V107.36H116.34V109.24H111.46V111.13H108.2V113.01H106.57V116.78H104.94V118.67H106.57V120.55H100.05V109.24H103.31V67.77H104.94V65.89H106.57V64H109.83V62.12H111.46V60.23H114.71V58.35H116.34V56.46H121.23V54.58H127.75zM95.17 58.35H100.05V60.23H101.68V58.35H103.31V62.12H95.17zM132.63 73.43V77.2H135.89V73.43zM44.67 116.78H57.7V118.67H59.33V120.55H60.96V122.44H62.59V131.86H60.96V135.63H64.22V137.52H65.84V139.4H69.1V141.29H73.99V143.17H80.51V141.29H82.13V139.4H87.02V137.52H88.65V135.63H90.28V133.75H91.91V131.86H93.54V129.98H95.17V128.09H96.8V126.21H98.42V122.44H100.05V128.09H98.42V131.86H96.8V133.75H95.17V137.52H93.54V148.83H95.17V154.48H96.8V156.37H98.42V154.48H100.05V160.14H96.8V162.02H90.28V167.68H88.65V171.45H90.28V169.56H91.91V171.45H93.54V173.33H95.17V175.22H93.54V177.1H88.65V173.33H85.39V175.22H83.76V177.1H82.13V180.87H80.51V186.53H78.88V188.41H77.25V190.3H75.62V186.53H73.99V180.87H70.73V178.99H67.47V175.22H65.84V167.68H64.22V158.25H62.59V148.83H60.96V146.94H57.7V145.06H56.07V143.17H54.44V141.29H51.18V137.52H49.55V135.63H47.92V129.98H46.3V122.44H44.67zM170.1 120.55H184.76V122.44H186.39V131.86H184.76V133.75H183.13V135.63H181.5V139.4H179.87V145.06H181.5V146.94H183.13V145.06H184.76V150.71H183.13V152.6H181.5V154.48H179.87V156.37H176.62V158.25H171.73V154.48H170.1V158.25H171.73V160.14H165.21V162.02H161.96V163.91H160.33V160.14H163.58V158.25H165.21V152.6H163.58V150.71H160.33V148.83H158.7V146.94H155.44V139.4H160.33V129.98H161.96V128.09H163.58V124.32H166.84V122.44H170.1zM25.12 135.63H26.75V139.4H25.12zM26.75 139.4H30.01V141.29H31.63V143.17H34.89V145.06H36.52V146.94H38.15V152.6H39.78V158.25H41.41V171.45H39.78V169.56H38.15V167.68H36.52V165.79H34.89V163.91H31.63V160.14H30.01V158.25H28.38V156.37H31.63V150.71H33.26V148.83H31.63V145.06H30.01V143.17H28.38V141.29H26.75zM145.67 139.4H147.29V141.29H145.67zM145.67 141.29V143.17H144.04V145.06H140.78V143.17H142.41V141.29zM103.31 148.83H106.57V156.37H101.68V150.71H103.31zM85.39 158.25V160.14H82.13V162.02H83.76V163.91H87.02V162.02H88.65V158.25zM69.1 162.02V169.56H70.73V171.45H72.36V169.56H73.99V167.68H75.62V165.79H73.99V162.02zM160.33 163.91V165.79H161.96V171.45H163.58V173.33H165.21V175.22H166.84V178.99H168.47V180.87H171.73V182.76H184.76V186.53H181.5V184.64H173.36V186.53H170.1V188.41H168.47V190.3H166.84V199.72H165.21V201.61H163.58V211.03H161.96V212.92H160.33V216.69H155.44V199.72H157.07V192.18H158.7V190.3H163.58V184.64H161.96V182.76H160.33V177.1H158.7V173.33H157.07V163.91zM75.62 169.56V171.45H78.88V173.33H83.76V169.56zM88.65 195.95H91.91V197.84H93.54V199.72H95.17V201.61H93.54V203.49H90.28V207.26H88.65V205.38H87.02V203.49H85.39V201.61H87.02V197.84H88.65zM100.05 212.92H101.68V214.8H100.05zM91.91 222.34H96.8V224.23H98.42V228H100.05V229.88H101.68V231.77H103.31V235.54H104.94V237.42H96.8V235.54H95.17V231.77H93.54V229.88H91.91V228H90.28V224.23H91.91zM174.99 222.34H176.62V228H178.25V231.77H174.99zM147.29 228H148.92V231.77H145.67V229.88H147.29zM142.41 233.65H144.04V239.31H142.41V237.42H140.78V235.54H142.41zM155.44 235.54H160.33V237.42H161.96V241.19H160.33V243.08H158.7V244.96H153.81V246.85H148.92V244.96H145.67V243.08H144.04V241.19H148.92V239.31H152.18V237.42H155.44zM192.91 235.54H196.16V243.08H191.28V244.96H189.65V256.27H179.87V254.39H181.5V250.62H183.13V246.85H184.76V244.96H186.39V243.08H188.02V241.19H189.65V239.31H191.28V237.42H192.91zM166.84 254.39H170.1V256.27H166.84z"/>
<path fill="#00ffff" d="M161.96 11.22H171.73V14.99H170.1V20.65H165.21V16.88H163.58V14.99H161.96zM155.44 16.88H157.07V18.76H155.44zM152.18 18.76H153.81V20.65H152.18zM152.18 20.65V22.53H150.55V20.65zM145.67 22.53H148.92V24.42H145.67zM140.78 24.42H142.41V26.3H140.78zM135.89 26.3H137.52V28.19H152.18V26.3H153.81V28.19H158.7V30.07H160.33V31.96H161.96V33.84H163.58V35.73H166.84V37.61H168.47V39.5H170.1V41.38H171.73V45.15H173.36V50.8H174.99V54.58H173.36V58.35H171.73V64H170.1V75.31H168.47V77.2H166.84V79.08H163.58V80.97H161.96V82.85H160.33V84.74H157.07V80.97H155.44V75.31H153.81V71.54H152.18V69.66H140.78V67.77H139.15V58.35H137.52V56.46H135.89V54.58H131V52.69H127.75V54.58H121.23V56.46H116.34V58.35H114.71V60.23H111.46V62.12H109.83V64H106.57V65.89H104.94V67.77H103.31V58.35H106.57V56.46H108.2V54.58H109.83V52.69H111.46V50.8H113.09V41.38H116.34V39.5H119.6V35.73H121.23V33.84H126.12V31.96H131V30.07H132.63V28.19H135.89zM137.52 30.07V35.73H139.15V37.61H142.41V35.73H144.04V33.84H145.67V31.96H147.29V30.07zM174.99 28.19H176.62V37.61H174.99V35.73H171.73V33.84H168.47V31.96H165.21V30.07H174.99zM116.34 35.73H117.97V37.61H116.34zM134.26 39.5H132.63V43.27H134.26zM148.92 41.38V43.27H147.29V45.15H145.67V48.92H147.29V50.8H148.92V52.69H150.55V54.58H152.18V56.46H153.81V58.35H155.44V60.23H157.07V62.12H158.7V64H161.96V65.89H165.21V64H168.47V50.8H166.84V47.04H165.21V45.15H163.58V43.27H158.7V41.38zM119.6 45.15V47.04H116.34V48.92H121.23V47.04H126.12V45.15zM132.63 73.43H135.89V77.2H132.63zM96.8 79.08H100.05V84.74H98.42V80.97H96.8zM171.73 86.62H173.36V90.39H174.99V92.28H173.36V94.16H171.73V96.05H173.36V99.82H174.99V101.7H173.36V103.59H171.73V101.7H170.1V103.59H168.47V109.24H165.21V111.13H163.58V114.9H161.96V116.78H163.58V118.67H161.96V120.55H160.33V122.44H158.7V124.32H155.44V126.21H153.81V128.09H152.18V129.98H150.55V131.86H155.44V129.98H157.07V128.09H158.7V126.21H160.33V124.32H161.96V126.21H163.58V128.09H161.96V129.98H160.33V139.4H155.44V141.29H153.81V139.4H152.18V137.52H150.55V141.29H147.29V139.4H145.67V141.29H142.41V143.17H140.78V145.06H142.41V146.94H140.78V148.83H139.15V150.71H137.52V152.6H135.89V154.48H134.26V156.37H131V158.25H121.23V160.14H117.97V162.02H114.71V163.91H111.46V165.79H106.57V169.56H104.94V171.45H101.68V175.22H103.31V177.1H101.68V178.99H98.42V180.87H96.8V178.99H95.17V180.87H93.54V182.76H91.91V190.3H93.54V194.07H96.8V195.95H95.17V199.72H93.54V197.84H91.91V195.95H88.65V197.84H87.02V201.61H85.39V203.49H82.13V201.61H80.51V199.72H77.25V197.84H75.62V195.95H73.99V194.07H72.36V186.53H70.73V180.87H73.99V186.53H75.62V190.3H77.25V188.41H78.88V186.53H80.51V180.87H82.13V177.1H83.76V175.22H85.39V173.33H88.65V177.1H93.54V175.22H100.05V171.45H95.17V173.33H93.54V171.45H91.91V169.56H90.28V171.45H88.65V167.68H95.17V162.02H96.8V160.14H100.05V156.37H106.57V148.83H103.31V143.17H101.68V141.29H100.05V122.44H98.42V126.21H96.8V128.09H95.17V129.98H93.54V131.86H91.91V133.75H90.28V135.63H88.65V137.52H87.02V133.75H88.65V131.86H90.28V129.98H91.91V126.21H93.54V122.44H95.17V120.55H93.54V118.67H95.17V116.78H96.8V114.9H100.05V120.55H106.57V118.67H104.94V116.78H106.57V113.01H108.2V111.13H111.46V109.24H116.34V107.36H121.23V105.47H127.75V103.59H129.38V101.7H131V109.24H134.26V111.13H135.89V113.01H137.52V114.9H139.15V116.78H140.78V118.67H142.41V114.9H144.04V113.01H145.67V111.13H147.29V105.47H145.67V103.59H144.04V101.7H142.41V99.82H152.18V97.93H153.81V96.05H155.44V94.16H157.07V92.28H158.7V90.39H160.33V88.51H166.84V90.39H171.73zM43.04 103.59H44.67V105.47H43.04zM51.18 103.59H52.81V105.47H51.18zM39.78 105.47H41.41V109.24H39.78zM39.78 109.24V113.01H52.81V111.13H57.7V113.01H59.33V114.9H60.96V116.78H62.59V120.55H64.22V122.44H65.84V129.98H62.59V122.44H60.96V120.55H59.33V118.67H57.7V116.78H44.67V122.44H46.3V129.98H47.92V135.63H49.55V137.52H51.18V141.29H54.44V143.17H56.07V145.06H57.7V146.94H54.44V145.06H52.81V143.17H49.55V141.29H47.92V139.4H46.3V133.75H44.67V129.98H43.04V118.67H39.78V116.78H38.15V109.24zM54.44 107.36H56.07V109.24H54.44zM101.68 107.36H103.31V109.24H101.68zM166.84 114.9H170.1V116.78H176.62V114.9H181.5V116.78H186.39V122.44H184.76V120.55H170.1V122.44H166.84V124.32H161.96V122.44H163.58V120.55H165.21V118.67H168.47V116.78H166.84zM186.39 126.21H188.02V128.09H189.65V129.98H188.02V131.86H186.39zM80.51 129.98H82.13V131.86H80.51zM21.86 131.86H23.49V133.75H25.12V139.4H26.75V141.29H28.38V143.17H30.01V145.06H31.63V148.83H33.26V150.71H31.63V152.6H26.75V154.48H28.38V156.37H25.12V154.48H23.49V152.6H21.86V150.71H13.72V152.6H12.09V150.71H8.83V146.94H10.46V145.06H12.09V143.17H13.72V141.29H15.34V139.4H16.97V137.52H18.6V135.63H20.23V133.75H21.86zM64.22 135.63H65.84V137.52H64.22zM87.02 137.52V139.4H85.39V137.52zM57.7 146.94H60.96V148.83H62.59V154.48H60.96V152.6H59.33V148.83H57.7zM184.76 145.06H186.39V146.94H184.76zM116.34 152.6V156.37H121.23V152.6zM204.31 150.71H205.94V152.6H204.31zM69.1 162.02H73.99V165.79H75.62V167.68H73.99V169.56H72.36V171.45H70.73V169.56H69.1zM41.41 163.91H43.04V165.79H44.67V169.56H46.3V171.45H47.92V173.33H49.55V175.22H51.18V177.1H52.81V178.99H56.07V180.87H57.7V182.76H52.81V180.87H51.18V178.99H47.92V177.1H44.67V175.22H43.04V173.33H41.41zM155.44 165.79H157.07V171.45H155.44zM204.31 180.87H207.57V182.76H204.31zM184.76 182.76H199.42V184.64H197.79V186.53H184.76zM85.39 203.49H87.02V205.38H85.39zM88.65 207.26H90.28V209.15H88.65zM88.65 211.03H91.91V212.92H88.65zM153.81 211.03H155.44V216.69H160.33V220.46H161.96V222.34H163.58V224.23H165.21V233.65H166.84V235.54H165.21V237.42H166.84V239.31H165.21V246.85H160.33V248.73H158.7V250.62H157.07V254.39H158.7V256.27H135.89V254.39H142.41V252.5H137.52V248.73H135.89V246.85H139.15V250.62H144.04V244.96H140.78V243.08H142.41V241.19H144.04V243.08H145.67V244.96H148.92V246.85H153.81V244.96H158.7V243.08H160.33V241.19H161.96V237.42H160.33V235.54H155.44V237.42H152.18V239.31H148.92V241.19H144.04V239.31H145.67V237.42H148.92V226.11H150.55V224.23H152.18V218.57H153.81zM85.39 218.57H87.02V220.46H85.39zM87.02 220.46H95.17V222.34H91.91V224.23H90.28V228H91.91V229.88H93.54V231.77H95.17V235.54H96.8V237.42H106.57V239.31H109.83V243.08H104.94V241.19H100.05V243.08H96.8V241.19H93.54V239.31H82.13V237.42H88.65V235.54H90.28V233.65H88.65V228H85.39V226.11H80.51V224.23H83.76V222.34H87.02zM103.31 220.46H108.2V222.34H113.09V224.23H104.94V222.34H103.31zM113.09 224.23H122.86V226.11H113.09zM127.75 226.11H129.38V228H127.75zM129.38 228H131V229.88H129.38zM176.62 226.11H178.25V228H176.62zM178.25 228H179.87V231.77H178.25zM131 229.88H132.63V231.77H131zM179.87 231.77H181.5V235.54H179.87zM142.41 231.77H144.04V233.65H142.41zM181.5 235.54H183.13V237.42H184.76V239.31H186.39V237.42H188.02V239.31H189.65V241.19H188.02V243.08H186.39V244.96H184.76V246.85H183.13V239.31H181.5zM67.47 239.31H70.73V241.19H67.47zM119.6 243.08H121.23V244.96H119.6zM129.38 244.96H132.63V246.85H129.38zM163.58 248.73H165.21V250.62H166.84V252.5H168.47V254.39H166.84V256.27H160.33V254.39H161.96V252.5H163.58zM181.5 248.73H183.13V250.62H181.5zM181.5 250.62V254.39H179.87V256.27H176.62V254.39H178.25V252.5H179.87V250.62zM134.26 252.5H135.89V254.39H134.26z"/>
<path fill="#00d048" d="M137.52 30.07H147.29V31.96H139.15V35.73H137.52zM90.28 33.84H95.17V35.73H93.54V37.61H91.91V39.5H90.28V47.04H88.65V48.92H87.02V50.8H88.65V56.46H87.02V52.69H85.39V50.8H83.76V47.04H80.51V45.15H82.13V43.27H83.76V41.38H85.39V39.5H87.02V37.61H88.65V35.73H90.28zM117.97 35.73H119.6V39.5H116.34V41.38H113.09V45.15H111.46V43.27H109.83V41.38H111.46V39.5H113.09V37.61H117.97zM140.78 35.73H142.41V37.61H140.78zM132.63 39.5H134.26V43.27H132.63zM148.92 41.38H158.7V43.27H163.58V45.15H165.21V47.04H166.84V50.8H168.47V64H165.21V65.89H161.96V64H158.7V62.12H157.07V60.23H155.44V58.35H153.81V56.46H152.18V54.58H150.55V52.69H148.92V50.8H147.29V48.92H145.67V45.15H147.29V43.27H148.92zM91.91 45.15H96.8V47.04H95.17V48.92H93.54V47.04H91.91zM119.6 45.15H126.12V47.04H121.23V48.92H116.34V47.04H119.6zM111.46 48.92H113.09V50.8H111.46zM91.91 50.8H93.54V54.58H95.17V60.23H93.54V58.35H91.91zM88.65 56.46H90.28V58.35H88.65zM83.76 58.35H85.39V60.23H87.02V62.12H88.65V64H90.28V65.89H91.91V62.12H93.54V64H95.17V62.12H103.31V107.36H101.68V94.16H100.05V73.43H98.42V69.66H96.8V67.77H93.54V69.66H90.28V67.77H88.65V65.89H87.02V64H85.39V62.12H83.76zM90.28 60.23H91.91V62.12H90.28zM93.54 69.66H95.17V73.43H96.8V75.31H98.42V79.08H96.8V77.2H95.17V75.31H93.54zM44.67 103.59H51.18V105.47H54.44V109.24H56.07V111.13H52.81V113.01H39.78V109.24H41.41V105.47H44.67zM98.42 128.09H100.05V154.48H98.42V156.37H96.8V154.48H95.17V148.83H93.54V137.52H95.17V133.75H96.8V131.86H98.42zM95.17 141.29V145.06H96.8V150.71H98.42V141.29zM26.75 152.6H31.63V156.37H28.38V154.48H26.75zM85.39 158.25H88.65V162.02H87.02V163.91H83.76V162.02H82.13V160.14H85.39zM121.23 158.25H129.38V160.14H127.75V162.02H126.12V163.91H121.23V165.79H116.34V167.68H113.09V169.56H114.71V171.45H113.09V173.33H109.83V175.22H108.2V178.99H101.68V177.1H103.31V175.22H101.68V171.45H104.94V169.56H106.57V165.79H111.46V163.91H114.71V162.02H117.97V160.14H121.23zM95.17 178.99H96.8V180.87H98.42V182.76H96.8V184.64H93.54V190.3H91.91V182.76H93.54V180.87H95.17zM93.54 190.3H96.8V194.07H93.54zM73.99 195.95H75.62V197.84H73.99zM75.62 197.84H77.25V199.72H75.62zM87.02 211.03H88.65V212.92H87.02zM87.02 212.92V218.57H85.39V212.92zM82.13 226.11H85.39V228H82.13zM87.02 228H88.65V233.65H90.28V235.54H88.65V237.42H80.51V235.54H78.88V231.77H82.13V233.65H87.02zM174.99 231.77H179.87V235.54H181.5V239.31H183.13V248.73H181.5V250.62H179.87V252.5H178.25V254.39H176.62V256.27H170.1V254.39H174.99V252.5H176.62V250.62H178.25V243.08H176.62V241.19H168.47V243.08H166.84V250.62H165.21V248.73H163.58V252.5H161.96V254.39H157.07V250.62H158.7V248.73H160.33V246.85H165.21V239.31H171.73V237.42H174.99zM166.84 250.62H168.47V252.5H166.84zM168.47 252.5H170.1V254.39H168.47zM135.89 252.5H142.41V254.39H135.89z"/>
<path fill="#32a010" d="M139.15 31.96H145.67V33.84H144.04V35.73H140.78V37.61H139.15zM90.28 45.15H91.91V47.04H93.54V50.8H91.91V58.35H93.54V60.23H95.17V64H93.54V62.12H91.91V60.23H90.28V56.46H88.65V50.8H87.02V48.92H88.65V47.04H90.28zM95.17 141.29H98.42V150.71H96.8V145.06H95.17zM100.05 141.29H101.68V143.17H103.31V150.71H101.68V156.37H100.05zM93.54 184.64H96.8V190.3H93.54zM82.13 228H87.02V233.65H82.13z"/>
<path fill="#ffff00" d="M91.91 37.61H98.42V45.15H90.28V39.5H91.91zM80.51 47.04H83.76V50.8H85.39V52.69H87.02V56.46H88.65V58.35H90.28V62.12H91.91V65.89H90.28V64H88.65V62.12H87.02V60.23H85.39V58.35H82.13V54.58H83.76V52.69H82.13V50.8H78.88V48.92H80.51zM93.54 67.77H96.8V69.66H93.54zM96.8 69.66H98.42V71.54H96.8zM96.8 71.54V73.43H95.17V71.54zM98.42 73.43H100.05V79.08H98.42zM121.23 163.91H124.49V165.79H122.86V167.68H119.6V169.56H113.09V167.68H116.34V165.79H121.23zM109.83 173.33H111.46V175.22H109.83zM109.83 175.22V177.1H108.2V175.22zM80.51 226.11H82.13V231.77H80.51zM168.47 241.19H171.73V243.08H168.47zM168.47 243.08V250.62H166.84V243.08zM173.36 241.19H176.62V243.08H178.25V250.62H176.62V246.85H174.99V243.08H173.36zM168.47 250.62H170.1V252.5H168.47zM176.62 250.62V252.5H174.99V250.62zM170.1 252.5H174.99V254.39H170.1z"/>
<path fill="#ffa800" d="M93.54 35.73H96.8V37.61H93.54zM78.88 50.8H82.13V52.69H83.76V54.58H80.51V52.69H78.88zM95.17 69.66H96.8V71.54H95.17zM96.8 71.54H98.42V75.31H96.8z"/>
<path fill="#ff5a00" d="M171.73 241.19H173.36V243.08H171.73zM173.36 243.08H174.99V244.96H173.36zM168.47 243.08H170.1V244.96H168.47zM174.99 246.85H176.62V250.62H174.99zM168.47 248.73H170.1V250.62H168.47zM174.99 250.62V252.5H173.36V250.62z"/>
<path fill="#ff0000" d="M108.2 177.1H109.83V178.99H108.2zM170.1 243.08H173.36V244.96H174.99V250.62H173.36V252.5H170.1V248.73H168.47V244.96H170.1z"/>
</g>
<use href="#land"/>
</g>
<rect x="0" y="0" width="209.3" height="278.3" fill="none" stroke="#000" stroke-width="1.25"/>
<text class="t" x="106.5" y="-22.2">Run 6</text>
<text class="a" transform="translate(-2.3,11.85) scale(.875,1)" text-anchor="end">25<tspan class="s">°</tspan> N</text>
<text class="a" transform="translate(-2.3,49.55) scale(.875,1)" text-anchor="end">20<tspan class="s">°</tspan> N</text>
<text class="a" transform="translate(-2.3,87.25) scale(.875,1)" text-anchor="end">15<tspan class="s">°</tspan> N</text>
<text class="a" transform="translate(-2.3,124.95) scale(.875,1)" text-anchor="end">10<tspan class="s">°</tspan> N</text>
<text class="a" transform="translate(-2.3,162.65) scale(.875,1)" text-anchor="end">5<tspan class="s">°</tspan> N</text>
<text class="a" transform="translate(-7.5,200.35) scale(.875,1)" text-anchor="end">0<tspan class="s">°</tspan></text>
<text class="a" transform="translate(-2.3,238.05) scale(.875,1)" text-anchor="end">5<tspan class="s">°</tspan> S</text>
<text class="a" transform="translate(-2.3,275.75) scale(.875,1)" text-anchor="end">10<tspan class="s">°</tspan> S</text>
<text class="a" transform="translate(6.9,288.2) scale(.875,1)" text-anchor="middle">95<tspan class="s">°</tspan> E</text>
<text class="a" transform="translate(39.48,288.2) scale(.875,1)" text-anchor="middle">100<tspan class="s">°</tspan> E</text>
<text class="a" transform="translate(72.06,288.2) scale(.875,1)" text-anchor="middle">105<tspan class="s">°</tspan> E</text>
<text class="a" transform="translate(104.64,288.2) scale(.875,1)" text-anchor="middle">110<tspan class="s">°</tspan> E</text>
<text class="a" transform="translate(137.22,288.2) scale(.875,1)" text-anchor="middle">115<tspan class="s">°</tspan> E</text>
<text class="a" transform="translate(169.8,288.2) scale(.875,1)" text-anchor="middle">120<tspan class="s">°</tspan> E</text>
<text class="a" transform="translate(202.38,288.2) scale(.875,1)" text-anchor="middle">125<tspan class="s">°</tspan> E</text>
<text class="a" x="103.95" y="301.7" text-anchor="middle" style="font-size:8px">Longitude (degrees)</text>
<text class="a" transform="translate(-26.2,143.85) rotate(-90)" text-anchor="middle" style="font-size:8.1px">Latitude (degrees)</text>
</g>
<rect x="221.9" y="722.8" width="39.67" height="31.4" fill="#00009f" stroke="#000" stroke-width="1"/>
<rect x="261.57" y="722.8" width="39.67" height="31.4" fill="#0038c0" stroke="#000" stroke-width="1"/>
<rect x="301.24" y="722.8" width="39.67" height="31.4" fill="#0094e0" stroke="#000" stroke-width="1"/>
<rect x="340.91" y="722.8" width="39.67" height="31.4" fill="#00ffff" stroke="#000" stroke-width="1"/>
<rect x="380.58" y="722.8" width="39.67" height="31.4" fill="#00d048" stroke="#000" stroke-width="1"/>
<rect x="420.25" y="722.8" width="39.67" height="31.4" fill="#32a010" stroke="#000" stroke-width="1"/>
<rect x="459.92" y="722.8" width="39.67" height="31.4" fill="#ffff00" stroke="#000" stroke-width="1"/>
<rect x="499.59" y="722.8" width="39.67" height="31.4" fill="#ffa800" stroke="#000" stroke-width="1"/>
<rect x="539.26" y="722.8" width="39.67" height="31.4" fill="#ff5a00" stroke="#000" stroke-width="1"/>
<rect x="578.93" y="722.8" width="39.67" height="31.4" fill="#ff0000" stroke="#000" stroke-width="1"/>
<text class="c" x="221.9" y="773">0</text>
<text class="c" x="261.57" y="773">0.5</text>
<text class="c" x="301.24" y="773">1</text>
<text class="c" x="340.91" y="773">1.5</text>
<text class="c" x="380.58" y="773">2</text>
<text class="c" x="420.25" y="773">2.5</text>
<text class="c" x="459.92" y="773">3</text>
<text class="c" x="499.59" y="773">3.5</text>
<text class="c" x="539.26" y="773">4</text>
<text class="c" x="578.93" y="773">4.5</text>
<text class="c" x="618.6" y="773">5</text>
<text class="c" x="418.3" y="797.6" style="font-size:15.5px">Annual-mean misfit [<tspan font-size="17" dy="-1.4">°</tspan><tspan dy="1.4">C]</tspan></text>
</svg></body></html>
